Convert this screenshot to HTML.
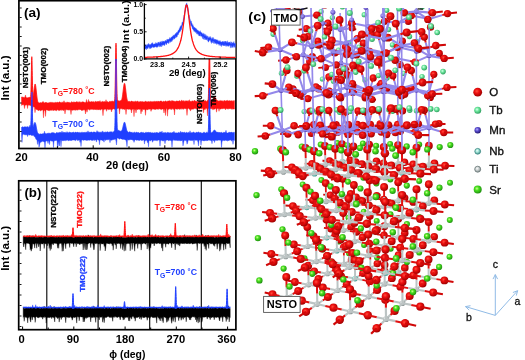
<!DOCTYPE html>
<html><head><meta charset="utf-8"><title>XRD and crystal structure of TMO on NSTO</title><style>
html,body{margin:0;padding:0;background:#fff;}
body{width:525px;height:360px;overflow:hidden;}
svg{display:block;}
text{font-family:"Liberation Sans",Arial,sans-serif;}
.tl{font-size:11.2px;font-weight:bold;fill:#000;}
.ax{font-size:11.6px;font-weight:bold;fill:#000;}
.lab{font-size:13px;font-weight:bold;fill:#000;}
.pk{font-size:7.4px;font-weight:bold;}
.tg{font-size:8.2px;font-weight:bold;}
.sub{font-size:6.4px;}
.il{font-size:6.6px;font-weight:bold;fill:#000;}
.ia{font-size:9.6px;font-weight:bold;fill:#000;}
.box{font-size:11px;font-weight:bold;fill:#000;}
.leg{font-size:11.5px;fill:#111;stroke:#111;stroke-width:0.35px;}
.tri{font-size:10.5px;fill:#111;stroke:#111;stroke-width:0.3px;}
</style></head>
<body><svg width="525" height="360" viewBox="0 0 525 360">
<defs><radialGradient id="gO" cx="0.4" cy="0.38" r="0.62"><stop offset="0" stop-color="#ff5040"/><stop offset="0.4" stop-color="#ee1010"/><stop offset="1" stop-color="#a00000"/></radialGradient><radialGradient id="gOT" cx="0.4" cy="0.38" r="0.62"><stop offset="0" stop-color="#ff5040"/><stop offset="0.4" stop-color="#ee1010"/><stop offset="1" stop-color="#a00000"/></radialGradient><radialGradient id="gTi" cx="0.4" cy="0.38" r="0.62"><stop offset="0" stop-color="#ffffff"/><stop offset="0.4" stop-color="#d0d6d6"/><stop offset="1" stop-color="#8a9494"/></radialGradient><radialGradient id="gNb" cx="0.4" cy="0.38" r="0.62"><stop offset="0" stop-color="#f0fffa"/><stop offset="0.4" stop-color="#a8e8dc"/><stop offset="1" stop-color="#4a9690"/></radialGradient><radialGradient id="gSr" cx="0.4" cy="0.38" r="0.62"><stop offset="0" stop-color="#d0ff90"/><stop offset="0.4" stop-color="#48e020"/><stop offset="1" stop-color="#209010"/></radialGradient><radialGradient id="gTb" cx="0.4" cy="0.38" r="0.62"><stop offset="0" stop-color="#e0fff0"/><stop offset="0.4" stop-color="#70eaa0"/><stop offset="1" stop-color="#30a060"/></radialGradient><radialGradient id="gMn" cx="0.4" cy="0.38" r="0.62"><stop offset="0" stop-color="#eeeaff"/><stop offset="0.4" stop-color="#9080e8"/><stop offset="1" stop-color="#5040b0"/></radialGradient><clipPath id="cc"><path d="M270 8 H525 V360 H240 V30 H270 Z"/></clipPath></defs><g clip-path="url(#cc)"><line x1="351.5" y1="259.5" x2="355.5" y2="257.2" stroke="#d00808" stroke-width="1.8"/>
<circle cx="338.9" cy="241.6" r="2.9" fill="url(#gSr)"/>
<line x1="351.0" y1="226.9" x2="355.1" y2="225.1" stroke="#d00808" stroke-width="1.8"/>
<circle cx="338.4" cy="209.2" r="2.9" fill="url(#gSr)"/>
<line x1="350.6" y1="193.8" x2="354.7" y2="192.5" stroke="#d00808" stroke-width="1.8"/>
<circle cx="351.5" cy="259.5" r="3.7" fill="url(#gO)"/>
<circle cx="337.8" cy="176.3" r="2.9" fill="url(#gSr)"/>
<line x1="350.1" y1="160.2" x2="354.2" y2="159.5" stroke="#d00808" stroke-width="1.8"/>
<line x1="346.1" y1="131.4" x2="350.3" y2="131.2" stroke="#d00808" stroke-width="1.8"/>
<line x1="331.4" y1="261.9" x2="324.5" y2="260.8" stroke="#d00808" stroke-width="1.8"/>
<circle cx="351.0" cy="226.9" r="3.7" fill="url(#gO)"/>
<line x1="347.8" y1="261.7" x2="351.5" y2="259.5" stroke="#e01010" stroke-width="1.8"/>
<circle cx="337.3" cy="143.0" r="2.9" fill="url(#gSr)"/>
<circle cx="339.5" cy="112.3" r="2.6" fill="url(#gTb)"/>
<line x1="377.3" y1="263.6" x2="381.0" y2="261.1" stroke="#d00808" stroke-width="1.9"/>
<line x1="330.8" y1="228.7" x2="323.9" y2="227.9" stroke="#d00808" stroke-width="1.9"/>
<circle cx="350.6" cy="193.8" r="3.7" fill="url(#gO)"/>
<line x1="347.3" y1="228.6" x2="351.0" y2="226.9" stroke="#e01010" stroke-width="1.8"/>
<circle cx="331.4" cy="261.9" r="3.7" fill="url(#gO)"/>
<line x1="345.2" y1="68.7" x2="349.5" y2="69.5" stroke="#d00808" stroke-width="1.9"/>
<circle cx="364.0" cy="245.0" r="2.9" fill="url(#gSr)"/>
<line x1="337.6" y1="262.9" x2="331.4" y2="261.9" stroke="#e01010" stroke-width="1.8"/>
<line x1="377.0" y1="229.9" x2="380.8" y2="228.0" stroke="#d00808" stroke-width="1.9"/>
<line x1="330.2" y1="195.1" x2="323.2" y2="194.6" stroke="#d00808" stroke-width="1.9"/>
<circle cx="350.1" cy="160.2" r="3.7" fill="url(#gO)"/>
<line x1="346.8" y1="194.9" x2="350.6" y2="193.8" stroke="#e01010" stroke-width="1.8"/>
<line x1="352.8" y1="92.4" x2="357.0" y2="92.8" stroke="#d00808" stroke-width="1.9"/>
<circle cx="330.8" cy="228.7" r="3.7" fill="url(#gO)"/>
<circle cx="346.1" cy="131.4" r="3.5" fill="url(#gOT)"/>
<line x1="344.0" y1="264.0" x2="347.8" y2="261.7" stroke="#bcc4c4" stroke-width="1.9"/>
<circle cx="333.5" cy="81.2" r="2.6" fill="url(#gTb)"/>
<circle cx="338.5" cy="50.0" r="2.6" fill="url(#gTb)"/>
<circle cx="363.7" cy="211.6" r="2.9" fill="url(#gSr)"/>
<line x1="337.1" y1="229.5" x2="330.8" y2="228.7" stroke="#e01010" stroke-width="1.8"/>
<line x1="344.0" y1="264.0" x2="337.6" y2="262.9" stroke="#bcc4c4" stroke-width="1.9"/>
<line x1="376.7" y1="195.8" x2="380.5" y2="194.5" stroke="#d00808" stroke-width="1.9"/>
<line x1="345.0" y1="130.5" x2="346.1" y2="131.4" stroke="#e01010" stroke-width="1.8"/>
<line x1="329.5" y1="161.0" x2="322.5" y2="160.7" stroke="#d00808" stroke-width="1.9"/>
<line x1="346.3" y1="160.8" x2="350.1" y2="160.2" stroke="#e01010" stroke-width="1.8"/>
<circle cx="330.2" cy="195.1" r="3.7" fill="url(#gO)"/>
<line x1="343.5" y1="230.3" x2="347.3" y2="228.6" stroke="#bcc4c4" stroke-width="1.9"/>
<circle cx="377.3" cy="263.6" r="3.7" fill="url(#gO)"/>
<circle cx="344.0" cy="264.0" r="2.6" fill="url(#gTi)"/>
<line x1="344.0" y1="264.0" x2="343.9" y2="255.6" stroke="#bcc4c4" stroke-width="1.9"/>
<circle cx="363.3" cy="177.8" r="2.9" fill="url(#gSr)"/>
<line x1="330.6" y1="92.6" x2="323.6" y2="92.9" stroke="#d00808" stroke-width="1.9"/>
<line x1="336.5" y1="195.6" x2="330.2" y2="195.1" stroke="#e01010" stroke-width="1.8"/>
<line x1="343.9" y1="255.6" x2="343.7" y2="247.2" stroke="#e01010" stroke-width="1.8"/>
<line x1="343.5" y1="230.3" x2="337.1" y2="229.5" stroke="#bcc4c4" stroke-width="1.9"/>
<circle cx="343.7" cy="247.2" r="3.8" fill="url(#gO)"/>
<line x1="376.4" y1="161.2" x2="380.2" y2="160.4" stroke="#d00808" stroke-width="1.9"/>
<line x1="344.0" y1="264.0" x2="350.4" y2="265.0" stroke="#bcc4c4" stroke-width="1.9"/>
<line x1="352.0" y1="28.1" x2="356.2" y2="29.6" stroke="#d00808" stroke-width="1.9"/>
<circle cx="345.2" cy="68.7" r="3.5" fill="url(#gOT)"/>
<circle cx="329.5" cy="161.0" r="3.8" fill="url(#gO)"/>
<line x1="342.9" y1="196.2" x2="346.8" y2="194.9" stroke="#bcc4c4" stroke-width="1.9"/>
<circle cx="377.0" cy="229.9" r="3.8" fill="url(#gO)"/>
<circle cx="343.5" cy="230.3" r="2.6" fill="url(#gTi)"/>
<circle cx="332.4" cy="17.6" r="2.6" fill="url(#gTb)"/>
<line x1="373.9" y1="265.9" x2="377.3" y2="263.6" stroke="#e01010" stroke-width="1.8"/>
<line x1="344.0" y1="264.0" x2="340.1" y2="266.3" stroke="#bcc4c4" stroke-width="1.9"/>
<line x1="343.5" y1="230.3" x2="343.3" y2="221.8" stroke="#bcc4c4" stroke-width="1.9"/>
<circle cx="352.8" cy="92.4" r="3.5" fill="url(#gOT)"/>
<circle cx="362.9" cy="143.4" r="3.0" fill="url(#gSr)"/>
<line x1="335.9" y1="161.3" x2="329.5" y2="161.0" stroke="#e01010" stroke-width="1.8"/>
<line x1="343.3" y1="221.8" x2="343.2" y2="213.3" stroke="#e01010" stroke-width="1.8"/>
<line x1="344.0" y1="67.1" x2="345.2" y2="68.7" stroke="#e01010" stroke-width="1.8"/>
<line x1="342.9" y1="196.2" x2="336.5" y2="195.6" stroke="#bcc4c4" stroke-width="1.9"/>
<circle cx="343.2" cy="213.3" r="3.8" fill="url(#gO)"/>
<line x1="343.5" y1="230.3" x2="350.0" y2="231.1" stroke="#bcc4c4" stroke-width="1.9"/>
<circle cx="330.6" cy="92.6" r="3.5" fill="url(#gOT)"/>
<line x1="350.4" y1="265.0" x2="357.0" y2="266.1" stroke="#e01010" stroke-width="1.8"/>
<line x1="326.7" y1="131.9" x2="319.6" y2="131.9" stroke="#d00808" stroke-width="1.9"/>
<line x1="372.1" y1="99.4" x2="376.0" y2="99.7" stroke="#d00808" stroke-width="1.9"/>
<line x1="349.7" y1="93.3" x2="352.8" y2="92.4" stroke="#e01010" stroke-width="1.8"/>
<line x1="404.8" y1="267.9" x2="408.1" y2="265.2" stroke="#d00808" stroke-width="1.9"/>
<line x1="342.4" y1="161.5" x2="346.3" y2="160.8" stroke="#bcc4c4" stroke-width="1.9"/>
<circle cx="376.7" cy="195.8" r="3.8" fill="url(#gO)"/>
<circle cx="342.9" cy="196.2" r="2.6" fill="url(#gTi)"/>
<line x1="333.6" y1="93.4" x2="330.6" y2="92.6" stroke="#e01010" stroke-width="1.8"/>
<line x1="373.6" y1="231.7" x2="377.0" y2="229.9" stroke="#e01010" stroke-width="1.8"/>
<line x1="343.5" y1="230.3" x2="339.5" y2="232.1" stroke="#bcc4c4" stroke-width="1.9"/>
<line x1="342.9" y1="196.2" x2="342.8" y2="187.6" stroke="#bcc4c4" stroke-width="1.9"/>
<line x1="341.9" y1="128.0" x2="345.0" y2="130.5" stroke="#9488ea" stroke-width="1.9"/>
<line x1="329.5" y1="28.1" x2="322.3" y2="29.0" stroke="#d00808" stroke-width="1.9"/>
<circle cx="357.0" cy="266.1" r="3.8" fill="url(#gO)"/>
<line x1="380.0" y1="123.8" x2="383.8" y2="123.7" stroke="#d00808" stroke-width="1.9"/>
<line x1="342.8" y1="187.6" x2="342.7" y2="178.9" stroke="#e01010" stroke-width="1.8"/>
<line x1="342.4" y1="161.5" x2="335.9" y2="161.3" stroke="#bcc4c4" stroke-width="1.9"/>
<circle cx="342.7" cy="178.9" r="3.8" fill="url(#gO)"/>
<line x1="342.9" y1="196.2" x2="349.5" y2="196.7" stroke="#bcc4c4" stroke-width="1.9"/>
<line x1="350.0" y1="231.1" x2="356.5" y2="231.9" stroke="#e01010" stroke-width="1.8"/>
<circle cx="390.7" cy="248.7" r="3.0" fill="url(#gSr)"/>
<circle cx="359.8" cy="111.8" r="2.6" fill="url(#gTb)"/>
<circle cx="364.9" cy="79.9" r="2.6" fill="url(#gTb)"/>
<circle cx="322.8" cy="249.4" r="3.0" fill="url(#gSr)"/>
<line x1="363.6" y1="267.2" x2="357.0" y2="266.1" stroke="#e01010" stroke-width="1.8"/>
<line x1="404.7" y1="233.2" x2="408.0" y2="231.1" stroke="#d00808" stroke-width="1.9"/>
<circle cx="326.7" cy="131.9" r="3.5" fill="url(#gOT)"/>
<circle cx="376.4" cy="161.2" r="3.8" fill="url(#gO)"/>
<circle cx="342.4" cy="161.5" r="2.7" fill="url(#gNb)"/>
<line x1="330.9" y1="130.9" x2="326.7" y2="131.9" stroke="#e01010" stroke-width="1.8"/>
<circle cx="352.0" cy="28.1" r="3.5" fill="url(#gOT)"/>
<line x1="373.3" y1="197.1" x2="376.7" y2="195.8" stroke="#e01010" stroke-width="1.8"/>
<line x1="342.9" y1="196.2" x2="338.9" y2="197.4" stroke="#bcc4c4" stroke-width="1.9"/>
<line x1="342.4" y1="161.5" x2="342.3" y2="152.8" stroke="#bcc4c4" stroke-width="1.9"/>
<circle cx="356.5" cy="231.9" r="3.8" fill="url(#gO)"/>
<line x1="370.4" y1="268.3" x2="373.9" y2="265.9" stroke="#bcc4c4" stroke-width="1.9"/>
<line x1="340.1" y1="266.3" x2="336.0" y2="268.6" stroke="#e01010" stroke-width="1.8"/>
<line x1="342.3" y1="152.8" x2="342.1" y2="144.0" stroke="#e01010" stroke-width="1.8"/>
<circle cx="329.5" cy="28.1" r="3.5" fill="url(#gOT)"/>
<line x1="325.5" y1="67.4" x2="318.3" y2="67.9" stroke="#d00808" stroke-width="1.9"/>
<line x1="371.5" y1="33.7" x2="375.4" y2="35.2" stroke="#d00808" stroke-width="1.9"/>
<circle cx="342.1" cy="144.0" r="3.8" fill="url(#gO)"/>
<line x1="342.4" y1="161.5" x2="349.0" y2="161.8" stroke="#bcc4c4" stroke-width="1.9"/>
<line x1="348.8" y1="28.5" x2="352.0" y2="28.1" stroke="#e01010" stroke-width="1.8"/>
<line x1="341.4" y1="95.7" x2="349.7" y2="93.3" stroke="#9488ea" stroke-width="1.9"/>
<line x1="341.9" y1="128.0" x2="330.9" y2="130.9" stroke="#9488ea" stroke-width="1.9"/>
<line x1="349.5" y1="196.7" x2="356.1" y2="197.2" stroke="#e01010" stroke-width="1.8"/>
<circle cx="390.5" cy="214.3" r="3.0" fill="url(#gSr)"/>
<line x1="341.4" y1="95.7" x2="333.6" y2="93.4" stroke="#9488ea" stroke-width="1.9"/>
<circle cx="322.1" cy="215.0" r="3.0" fill="url(#gSr)"/>
<line x1="363.2" y1="232.7" x2="356.5" y2="231.9" stroke="#e01010" stroke-width="1.8"/>
<line x1="341.9" y1="128.0" x2="342.1" y2="144.0" stroke="#9488ea" stroke-width="1.5"/>
<circle cx="346.3" cy="111.9" r="3.5" fill="url(#gOT)"/>
<line x1="345.1" y1="116.4" x2="346.3" y2="111.9" stroke="#e01010" stroke-width="1.8"/>
<line x1="370.4" y1="268.3" x2="363.6" y2="267.2" stroke="#bcc4c4" stroke-width="1.9"/>
<line x1="332.5" y1="28.5" x2="329.5" y2="28.1" stroke="#e01010" stroke-width="1.8"/>
<line x1="341.9" y1="128.0" x2="345.1" y2="116.4" stroke="#9488ea" stroke-width="1.9"/>
<line x1="404.6" y1="198.0" x2="408.0" y2="196.5" stroke="#d00808" stroke-width="1.9"/>
<line x1="340.9" y1="62.9" x2="344.0" y2="67.1" stroke="#9488ea" stroke-width="1.9"/>
<circle cx="341.9" cy="128.0" r="2.3" fill="url(#gMn)"/>
<line x1="379.5" y1="58.3" x2="383.3" y2="59.3" stroke="#d00808" stroke-width="1.9"/>
<line x1="373.0" y1="161.9" x2="376.4" y2="161.2" stroke="#e01010" stroke-width="1.8"/>
<line x1="342.4" y1="161.5" x2="338.3" y2="162.3" stroke="#bcc4c4" stroke-width="1.9"/>
<circle cx="372.1" cy="99.4" r="3.5" fill="url(#gOT)"/>
<circle cx="356.1" cy="197.2" r="3.8" fill="url(#gO)"/>
<line x1="370.0" y1="233.6" x2="373.6" y2="231.7" stroke="#bcc4c4" stroke-width="1.9"/>
<line x1="341.9" y1="128.0" x2="353.0" y2="130.7" stroke="#9488ea" stroke-width="1.9"/>
<line x1="339.5" y1="232.1" x2="335.4" y2="233.9" stroke="#e01010" stroke-width="1.8"/>
<circle cx="404.8" cy="267.9" r="3.8" fill="url(#gO)"/>
<circle cx="370.4" cy="268.3" r="2.6" fill="url(#gTi)"/>
<circle cx="336.0" cy="268.6" r="3.8" fill="url(#gO)"/>
<line x1="341.9" y1="128.0" x2="341.4" y2="95.7" stroke="#9488ea" stroke-width="1.5"/>
<line x1="370.4" y1="268.3" x2="370.3" y2="259.6" stroke="#bcc4c4" stroke-width="1.9"/>
<circle cx="359.0" cy="47.1" r="2.6" fill="url(#gTb)"/>
<circle cx="364.2" cy="14.7" r="2.6" fill="url(#gTb)"/>
<line x1="349.0" y1="161.8" x2="355.7" y2="162.1" stroke="#e01010" stroke-width="1.8"/>
<circle cx="390.3" cy="179.4" r="3.0" fill="url(#gSr)"/>
<circle cx="380.0" cy="123.8" r="3.5" fill="url(#gOT)"/>
<line x1="353.0" y1="130.7" x2="357.4" y2="131.8" stroke="#e01010" stroke-width="1.8"/>
<circle cx="321.4" cy="180.1" r="3.0" fill="url(#gSr)"/>
<line x1="362.8" y1="197.8" x2="356.1" y2="197.2" stroke="#e01010" stroke-width="1.8"/>
<line x1="370.3" y1="259.6" x2="370.2" y2="251.0" stroke="#e01010" stroke-width="1.8"/>
<circle cx="325.5" cy="67.4" r="3.5" fill="url(#gOT)"/>
<line x1="370.0" y1="233.6" x2="363.2" y2="232.7" stroke="#bcc4c4" stroke-width="1.9"/>
<circle cx="357.4" cy="131.8" r="3.5" fill="url(#gOT)"/>
<line x1="371.2" y1="98.1" x2="372.1" y2="99.4" stroke="#e01010" stroke-width="1.8"/>
<circle cx="370.2" cy="251.0" r="3.8" fill="url(#gO)"/>
<line x1="329.7" y1="66.1" x2="325.5" y2="67.4" stroke="#e01010" stroke-width="1.8"/>
<line x1="404.5" y1="162.3" x2="407.9" y2="161.4" stroke="#d00808" stroke-width="1.9"/>
<line x1="370.4" y1="268.3" x2="377.3" y2="269.4" stroke="#bcc4c4" stroke-width="1.9"/>
<circle cx="341.4" cy="95.7" r="2.3" fill="url(#gMn)"/>
<line x1="400.4" y1="131.6" x2="403.8" y2="131.4" stroke="#d00808" stroke-width="1.9"/>
<line x1="377.0" y1="124.9" x2="380.0" y2="123.8" stroke="#e01010" stroke-width="1.8"/>
<circle cx="355.7" cy="162.1" r="3.8" fill="url(#gO)"/>
<line x1="369.7" y1="198.4" x2="373.3" y2="197.1" stroke="#bcc4c4" stroke-width="1.9"/>
<line x1="338.9" y1="197.4" x2="334.8" y2="198.7" stroke="#e01010" stroke-width="1.8"/>
<line x1="341.4" y1="95.7" x2="337.7" y2="83.8" stroke="#9488ea" stroke-width="1.9"/>
<line x1="360.6" y1="130.8" x2="357.4" y2="131.8" stroke="#e01010" stroke-width="1.8"/>
<line x1="341.4" y1="95.7" x2="340.9" y2="62.9" stroke="#9488ea" stroke-width="1.5"/>
<circle cx="404.7" cy="233.2" r="3.8" fill="url(#gO)"/>
<line x1="314.3" y1="271.3" x2="307.1" y2="270.0" stroke="#d00808" stroke-width="1.9"/>
<circle cx="370.0" cy="233.6" r="2.6" fill="url(#gTi)"/>
<line x1="340.3" y1="29.7" x2="348.8" y2="28.5" stroke="#9488ea" stroke-width="1.9"/>
<circle cx="335.4" cy="233.9" r="3.8" fill="url(#gO)"/>
<line x1="340.9" y1="62.9" x2="329.7" y2="66.1" stroke="#9488ea" stroke-width="1.9"/>
<line x1="401.7" y1="270.3" x2="404.8" y2="267.9" stroke="#e01010" stroke-width="1.8"/>
<line x1="370.4" y1="268.3" x2="366.8" y2="270.7" stroke="#bcc4c4" stroke-width="1.9"/>
<line x1="331.8" y1="271.1" x2="336.0" y2="268.6" stroke="#e01010" stroke-width="1.8"/>
<line x1="370.0" y1="233.6" x2="370.0" y2="224.8" stroke="#bcc4c4" stroke-width="1.9"/>
<line x1="340.3" y1="29.7" x2="332.5" y2="28.5" stroke="#9488ea" stroke-width="1.9"/>
<circle cx="345.4" cy="46.7" r="3.5" fill="url(#gOT)"/>
<line x1="344.1" y1="51.2" x2="345.4" y2="46.7" stroke="#e01010" stroke-width="1.8"/>
<circle cx="390.1" cy="143.9" r="3.0" fill="url(#gSr)"/>
<line x1="340.9" y1="62.9" x2="344.1" y2="51.2" stroke="#9488ea" stroke-width="1.9"/>
<line x1="341.9" y1="128.0" x2="338.7" y2="131.1" stroke="#9488ea" stroke-width="1.9"/>
<circle cx="320.7" cy="144.6" r="3.0" fill="url(#gSr)"/>
<line x1="362.4" y1="162.3" x2="355.7" y2="162.1" stroke="#e01010" stroke-width="1.8"/>
<line x1="370.0" y1="224.8" x2="369.9" y2="216.0" stroke="#e01010" stroke-width="1.8"/>
<circle cx="340.9" cy="62.9" r="2.4" fill="url(#gMn)"/>
<line x1="369.7" y1="198.4" x2="362.8" y2="197.8" stroke="#bcc4c4" stroke-width="1.9"/>
<line x1="337.7" y1="83.8" x2="336.3" y2="79.2" stroke="#e01010" stroke-width="1.8"/>
<circle cx="369.9" cy="216.0" r="3.8" fill="url(#gO)"/>
<line x1="370.0" y1="233.6" x2="377.0" y2="234.4" stroke="#bcc4c4" stroke-width="1.9"/>
<circle cx="371.5" cy="33.7" r="3.5" fill="url(#gOT)"/>
<line x1="377.3" y1="269.4" x2="384.2" y2="270.5" stroke="#e01010" stroke-width="1.8"/>
<circle cx="336.3" cy="79.2" r="3.5" fill="url(#gOT)"/>
<line x1="340.9" y1="62.9" x2="352.2" y2="65.3" stroke="#9488ea" stroke-width="1.9"/>
<line x1="341.4" y1="95.7" x2="349.4" y2="92.3" stroke="#9488ea" stroke-width="1.9"/>
<circle cx="392.7" cy="111.3" r="2.6" fill="url(#gTb)"/>
<line x1="434.0" y1="272.5" x2="436.9" y2="269.7" stroke="#d00808" stroke-width="1.9"/>
<line x1="340.9" y1="62.9" x2="340.3" y2="29.7" stroke="#9488ea" stroke-width="1.5"/>
<line x1="369.3" y1="162.6" x2="373.0" y2="161.9" stroke="#bcc4c4" stroke-width="1.9"/>
<line x1="341.4" y1="95.7" x2="332.6" y2="92.4" stroke="#9488ea" stroke-width="1.9"/>
<line x1="338.3" y1="162.3" x2="334.2" y2="163.0" stroke="#e01010" stroke-width="1.8"/>
<circle cx="404.6" cy="198.0" r="3.8" fill="url(#gO)"/>
<line x1="313.6" y1="236.1" x2="306.3" y2="235.1" stroke="#d00808" stroke-width="1.9"/>
<circle cx="369.7" cy="198.4" r="2.6" fill="url(#gTi)"/>
<circle cx="334.8" cy="198.7" r="3.8" fill="url(#gO)"/>
<line x1="401.6" y1="235.1" x2="404.7" y2="233.2" stroke="#e01010" stroke-width="1.8"/>
<line x1="370.0" y1="233.6" x2="366.4" y2="235.5" stroke="#bcc4c4" stroke-width="1.9"/>
<line x1="331.2" y1="235.9" x2="335.4" y2="233.9" stroke="#e01010" stroke-width="1.8"/>
<line x1="369.7" y1="198.4" x2="369.6" y2="189.5" stroke="#bcc4c4" stroke-width="1.9"/>
<circle cx="379.5" cy="58.3" r="3.5" fill="url(#gOT)"/>
<line x1="352.2" y1="65.3" x2="356.6" y2="66.3" stroke="#e01010" stroke-width="1.8"/>
<circle cx="384.2" cy="270.5" r="3.8" fill="url(#gO)"/>
<circle cx="314.3" cy="271.3" r="3.8" fill="url(#gO)"/>
<circle cx="356.6" cy="66.3" r="3.5" fill="url(#gOT)"/>
<line x1="370.5" y1="31.7" x2="371.5" y2="33.7" stroke="#e01010" stroke-width="1.8"/>
<circle cx="340.3" cy="29.7" r="2.4" fill="url(#gMn)"/>
<line x1="369.6" y1="189.5" x2="369.5" y2="180.6" stroke="#e01010" stroke-width="1.8"/>
<line x1="369.3" y1="162.6" x2="362.4" y2="162.3" stroke="#bcc4c4" stroke-width="1.9"/>
<circle cx="369.5" cy="180.6" r="3.8" fill="url(#gO)"/>
<line x1="369.7" y1="198.4" x2="376.7" y2="198.9" stroke="#bcc4c4" stroke-width="1.9"/>
<line x1="340.3" y1="29.7" x2="340.1" y2="12.9" stroke="#9488ea" stroke-width="1.5"/>
<line x1="400.1" y1="64.7" x2="403.7" y2="65.7" stroke="#d00808" stroke-width="1.9"/>
<line x1="377.0" y1="234.4" x2="384.0" y2="235.3" stroke="#e01010" stroke-width="1.8"/>
<line x1="376.4" y1="58.9" x2="379.5" y2="58.3" stroke="#e01010" stroke-width="1.8"/>
<line x1="369.0" y1="128.0" x2="377.0" y2="124.9" stroke="#9488ea" stroke-width="1.9"/>
<circle cx="419.2" cy="252.6" r="3.0" fill="url(#gSr)"/>
<line x1="369.0" y1="128.0" x2="360.6" y2="130.8" stroke="#9488ea" stroke-width="1.9"/>
<circle cx="349.0" cy="253.4" r="3.0" fill="url(#gSr)"/>
<line x1="391.3" y1="271.7" x2="384.2" y2="270.5" stroke="#e01010" stroke-width="1.8"/>
<circle cx="317.0" cy="112.0" r="2.6" fill="url(#gTb)"/>
<circle cx="322.4" cy="79.0" r="2.6" fill="url(#gTb)"/>
<line x1="320.9" y1="272.5" x2="314.3" y2="271.3" stroke="#e01010" stroke-width="1.8"/>
<line x1="359.8" y1="64.8" x2="356.6" y2="66.3" stroke="#e01010" stroke-width="1.8"/>
<line x1="434.2" y1="236.7" x2="437.1" y2="234.5" stroke="#d00808" stroke-width="1.9"/>
<circle cx="404.5" cy="162.3" r="3.8" fill="url(#gO)"/>
<line x1="312.8" y1="200.3" x2="305.5" y2="199.6" stroke="#d00808" stroke-width="1.9"/>
<circle cx="369.3" cy="162.6" r="2.6" fill="url(#gTi)"/>
<line x1="368.7" y1="94.6" x2="371.2" y2="98.1" stroke="#9488ea" stroke-width="1.9"/>
<circle cx="334.2" cy="163.0" r="3.8" fill="url(#gO)"/>
<line x1="401.5" y1="199.3" x2="404.6" y2="198.0" stroke="#e01010" stroke-width="1.8"/>
<line x1="369.7" y1="198.4" x2="366.0" y2="199.7" stroke="#bcc4c4" stroke-width="1.9"/>
<line x1="330.5" y1="200.1" x2="334.8" y2="198.7" stroke="#e01010" stroke-width="1.8"/>
<line x1="408.4" y1="90.0" x2="411.8" y2="90.5" stroke="#d00808" stroke-width="1.9"/>
<line x1="369.3" y1="162.6" x2="369.3" y2="153.6" stroke="#bcc4c4" stroke-width="1.9"/>
<line x1="340.9" y1="62.9" x2="337.6" y2="64.3" stroke="#9488ea" stroke-width="1.9"/>
<circle cx="384.0" cy="235.3" r="3.8" fill="url(#gO)"/>
<circle cx="313.6" cy="236.1" r="3.8" fill="url(#gO)"/>
<circle cx="400.4" cy="131.6" r="3.5" fill="url(#gOT)"/>
<line x1="398.5" y1="272.9" x2="401.7" y2="270.3" stroke="#bcc4c4" stroke-width="1.9"/>
<line x1="366.8" y1="270.7" x2="363.0" y2="273.3" stroke="#e01010" stroke-width="1.8"/>
<line x1="327.5" y1="273.7" x2="331.8" y2="271.1" stroke="#bcc4c4" stroke-width="1.9"/>
<line x1="369.3" y1="153.6" x2="369.2" y2="144.5" stroke="#e01010" stroke-width="1.8"/>
<circle cx="369.2" cy="144.5" r="3.8" fill="url(#gO)"/>
<line x1="349.4" y1="92.3" x2="352.5" y2="90.9" stroke="#e01010" stroke-width="1.8"/>
<line x1="369.3" y1="162.6" x2="376.4" y2="162.9" stroke="#bcc4c4" stroke-width="1.9"/>
<circle cx="387.0" cy="78.1" r="2.6" fill="url(#gTb)"/>
<line x1="340.3" y1="29.7" x2="348.4" y2="24.9" stroke="#9488ea" stroke-width="1.9"/>
<circle cx="392.4" cy="44.8" r="2.6" fill="url(#gTb)"/>
<line x1="376.7" y1="198.9" x2="383.7" y2="199.5" stroke="#e01010" stroke-width="1.8"/>
<circle cx="419.2" cy="217.1" r="3.0" fill="url(#gSr)"/>
<circle cx="348.5" cy="217.8" r="3.0" fill="url(#gSr)"/>
<line x1="391.1" y1="236.2" x2="384.0" y2="235.3" stroke="#e01010" stroke-width="1.8"/>
<line x1="369.0" y1="128.0" x2="369.2" y2="144.5" stroke="#9488ea" stroke-width="1.5"/>
<line x1="340.3" y1="29.7" x2="331.5" y2="24.9" stroke="#9488ea" stroke-width="1.9"/>
<line x1="320.1" y1="236.9" x2="313.6" y2="236.1" stroke="#e01010" stroke-width="1.8"/>
<line x1="338.7" y1="131.1" x2="337.4" y2="132.4" stroke="#e01010" stroke-width="1.8"/>
<line x1="398.5" y1="272.9" x2="391.3" y2="271.7" stroke="#bcc4c4" stroke-width="1.9"/>
<line x1="327.5" y1="273.7" x2="320.9" y2="272.5" stroke="#bcc4c4" stroke-width="1.9"/>
<line x1="313.7" y1="124.6" x2="306.4" y2="124.7" stroke="#d00808" stroke-width="1.9"/>
<line x1="332.6" y1="92.4" x2="329.2" y2="91.1" stroke="#e01010" stroke-width="1.8"/>
<line x1="434.3" y1="200.3" x2="437.2" y2="198.8" stroke="#d00808" stroke-width="1.9"/>
<line x1="399.7" y1="130.6" x2="400.4" y2="131.6" stroke="#e01010" stroke-width="1.8"/>
<circle cx="369.0" cy="128.0" r="2.4" fill="url(#gMn)"/>
<line x1="312.0" y1="163.9" x2="304.7" y2="163.6" stroke="#d00808" stroke-width="1.9"/>
<circle cx="352.5" cy="90.9" r="3.6" fill="url(#gOT)"/>
<line x1="401.4" y1="163.0" x2="404.5" y2="162.3" stroke="#e01010" stroke-width="1.8"/>
<line x1="369.3" y1="162.6" x2="365.6" y2="163.4" stroke="#bcc4c4" stroke-width="1.9"/>
<line x1="329.9" y1="163.7" x2="334.2" y2="163.0" stroke="#e01010" stroke-width="1.8"/>
<line x1="357.0" y1="91.9" x2="352.5" y2="90.9" stroke="#e01010" stroke-width="1.8"/>
<circle cx="383.7" cy="199.5" r="3.8" fill="url(#gO)"/>
<circle cx="312.8" cy="200.3" r="3.8" fill="url(#gO)"/>
<line x1="398.4" y1="237.1" x2="401.6" y2="235.1" stroke="#bcc4c4" stroke-width="1.9"/>
<line x1="366.4" y1="235.5" x2="362.6" y2="237.4" stroke="#e01010" stroke-width="1.8"/>
<line x1="326.8" y1="237.8" x2="331.2" y2="235.9" stroke="#bcc4c4" stroke-width="1.9"/>
<circle cx="434.0" cy="272.5" r="3.8" fill="url(#gO)"/>
<circle cx="398.5" cy="272.9" r="2.7" fill="url(#gNb)"/>
<line x1="369.0" y1="128.0" x2="365.5" y2="116.1" stroke="#9488ea" stroke-width="1.9"/>
<circle cx="363.0" cy="273.3" r="3.8" fill="url(#gO)"/>
<line x1="369.0" y1="128.0" x2="368.7" y2="94.6" stroke="#9488ea" stroke-width="1.5"/>
<circle cx="327.5" cy="273.7" r="2.6" fill="url(#gTi)"/>
<circle cx="329.2" cy="91.1" r="3.6" fill="url(#gOT)"/>
<line x1="368.3" y1="60.7" x2="376.4" y2="58.9" stroke="#9488ea" stroke-width="1.9"/>
<line x1="398.5" y1="272.9" x2="398.5" y2="264.0" stroke="#bcc4c4" stroke-width="1.9"/>
<circle cx="337.4" cy="132.4" r="3.6" fill="url(#gOT)"/>
<line x1="327.5" y1="273.7" x2="327.3" y2="264.7" stroke="#bcc4c4" stroke-width="1.9"/>
<line x1="368.3" y1="60.7" x2="359.8" y2="64.8" stroke="#9488ea" stroke-width="1.9"/>
<circle cx="315.7" cy="45.1" r="2.6" fill="url(#gTb)"/>
<line x1="368.7" y1="94.6" x2="357.0" y2="91.9" stroke="#9488ea" stroke-width="1.9"/>
<circle cx="321.1" cy="11.6" r="2.6" fill="url(#gTb)"/>
<line x1="376.4" y1="162.9" x2="383.5" y2="163.2" stroke="#e01010" stroke-width="1.8"/>
<circle cx="373.2" cy="77.9" r="3.6" fill="url(#gOT)"/>
<line x1="372.0" y1="82.6" x2="373.2" y2="77.9" stroke="#e01010" stroke-width="1.8"/>
<circle cx="419.2" cy="181.0" r="3.0" fill="url(#gSr)"/>
<circle cx="348.0" cy="181.8" r="3.0" fill="url(#gSr)"/>
<line x1="390.9" y1="200.1" x2="383.7" y2="199.5" stroke="#e01010" stroke-width="1.8"/>
<line x1="398.5" y1="264.0" x2="398.5" y2="255.0" stroke="#e01010" stroke-width="1.8"/>
<line x1="319.4" y1="200.9" x2="312.8" y2="200.3" stroke="#e01010" stroke-width="1.8"/>
<line x1="327.3" y1="264.7" x2="327.1" y2="255.8" stroke="#e01010" stroke-width="1.8"/>
<line x1="368.7" y1="94.6" x2="372.0" y2="82.6" stroke="#9488ea" stroke-width="1.9"/>
<line x1="398.4" y1="237.1" x2="391.1" y2="236.2" stroke="#bcc4c4" stroke-width="1.9"/>
<line x1="326.8" y1="237.8" x2="320.1" y2="236.9" stroke="#bcc4c4" stroke-width="1.9"/>
<line x1="368.0" y1="26.3" x2="370.5" y2="31.7" stroke="#9488ea" stroke-width="1.9"/>
<circle cx="398.5" cy="255.0" r="3.8" fill="url(#gO)"/>
<line x1="434.4" y1="163.4" x2="437.4" y2="162.5" stroke="#d00808" stroke-width="1.9"/>
<line x1="398.5" y1="272.9" x2="405.9" y2="274.1" stroke="#bcc4c4" stroke-width="1.9"/>
<circle cx="368.7" cy="94.6" r="2.4" fill="url(#gMn)"/>
<circle cx="327.1" cy="255.8" r="3.8" fill="url(#gO)"/>
<line x1="327.5" y1="273.7" x2="334.2" y2="274.9" stroke="#bcc4c4" stroke-width="1.9"/>
<line x1="408.3" y1="21.3" x2="411.8" y2="23.1" stroke="#d00808" stroke-width="1.9"/>
<line x1="365.5" y1="116.1" x2="364.1" y2="111.4" stroke="#e01010" stroke-width="1.8"/>
<line x1="333.9" y1="131.4" x2="337.4" y2="132.4" stroke="#e01010" stroke-width="1.8"/>
<circle cx="400.1" cy="64.7" r="3.6" fill="url(#gOT)"/>
<line x1="327.8" y1="91.9" x2="329.2" y2="91.1" stroke="#e01010" stroke-width="1.8"/>
<circle cx="313.7" cy="124.6" r="3.6" fill="url(#gOT)"/>
<circle cx="364.1" cy="111.4" r="3.6" fill="url(#gOT)"/>
<line x1="369.0" y1="128.0" x2="377.8" y2="131.0" stroke="#9488ea" stroke-width="1.9"/>
<circle cx="383.5" cy="163.2" r="3.8" fill="url(#gO)"/>
<circle cx="312.0" cy="163.9" r="3.8" fill="url(#gO)"/>
<line x1="368.7" y1="94.6" x2="380.4" y2="91.4" stroke="#9488ea" stroke-width="1.9"/>
<line x1="398.2" y1="200.7" x2="401.5" y2="199.3" stroke="#bcc4c4" stroke-width="1.9"/>
<line x1="366.0" y1="199.7" x2="362.2" y2="201.1" stroke="#e01010" stroke-width="1.8"/>
<line x1="326.1" y1="201.5" x2="330.5" y2="200.1" stroke="#bcc4c4" stroke-width="1.9"/>
<line x1="368.7" y1="94.6" x2="368.3" y2="60.7" stroke="#9488ea" stroke-width="1.5"/>
<circle cx="434.2" cy="236.7" r="3.8" fill="url(#gO)"/>
<line x1="369.0" y1="128.0" x2="360.6" y2="125.3" stroke="#9488ea" stroke-width="1.9"/>
<line x1="348.4" y1="24.9" x2="351.6" y2="23.1" stroke="#e01010" stroke-width="1.8"/>
<circle cx="398.4" cy="237.1" r="2.7" fill="url(#gTi)"/>
<circle cx="362.6" cy="237.4" r="3.8" fill="url(#gO)"/>
<circle cx="386.6" cy="10.3" r="2.7" fill="url(#gTb)"/>
<circle cx="326.8" cy="237.8" r="2.7" fill="url(#gNb)"/>
<line x1="431.4" y1="275.1" x2="434.0" y2="272.5" stroke="#e01010" stroke-width="1.8"/>
<line x1="398.5" y1="272.9" x2="395.3" y2="275.5" stroke="#bcc4c4" stroke-width="1.9"/>
<line x1="359.1" y1="275.9" x2="363.0" y2="273.3" stroke="#e01010" stroke-width="1.8"/>
<line x1="398.4" y1="237.1" x2="398.4" y2="228.0" stroke="#bcc4c4" stroke-width="1.9"/>
<line x1="327.5" y1="273.7" x2="323.0" y2="276.3" stroke="#bcc4c4" stroke-width="1.9"/>
<line x1="326.8" y1="237.8" x2="326.6" y2="228.8" stroke="#bcc4c4" stroke-width="1.9"/>
<line x1="316.8" y1="125.8" x2="313.7" y2="124.6" stroke="#e01010" stroke-width="1.8"/>
<circle cx="408.4" cy="90.0" r="3.6" fill="url(#gOT)"/>
<line x1="337.6" y1="64.3" x2="336.3" y2="64.9" stroke="#e01010" stroke-width="1.8"/>
<line x1="312.3" y1="56.7" x2="304.9" y2="57.4" stroke="#d00808" stroke-width="1.9"/>
<line x1="331.5" y1="24.9" x2="327.9" y2="23.0" stroke="#e01010" stroke-width="1.8"/>
<circle cx="419.2" cy="144.4" r="3.0" fill="url(#gSr)"/>
<circle cx="347.5" cy="145.2" r="3.0" fill="url(#gSr)"/>
<line x1="390.7" y1="163.5" x2="383.5" y2="163.2" stroke="#e01010" stroke-width="1.8"/>
<line x1="398.4" y1="228.0" x2="398.3" y2="218.9" stroke="#e01010" stroke-width="1.8"/>
<line x1="399.5" y1="63.0" x2="400.1" y2="64.7" stroke="#e01010" stroke-width="1.8"/>
<line x1="318.6" y1="164.2" x2="312.0" y2="163.9" stroke="#e01010" stroke-width="1.8"/>
<line x1="326.6" y1="228.8" x2="326.4" y2="219.7" stroke="#e01010" stroke-width="1.8"/>
<line x1="380.4" y1="91.4" x2="384.9" y2="90.2" stroke="#e01010" stroke-width="1.8"/>
<circle cx="368.3" cy="60.7" r="2.4" fill="url(#gMn)"/>
<line x1="398.2" y1="200.7" x2="390.9" y2="200.1" stroke="#bcc4c4" stroke-width="1.9"/>
<line x1="326.1" y1="201.5" x2="319.4" y2="200.9" stroke="#bcc4c4" stroke-width="1.9"/>
<circle cx="398.3" cy="218.9" r="3.8" fill="url(#gO)"/>
<circle cx="351.6" cy="23.1" r="3.6" fill="url(#gOT)"/>
<line x1="398.4" y1="237.1" x2="405.8" y2="238.0" stroke="#bcc4c4" stroke-width="1.9"/>
<circle cx="326.4" cy="219.7" r="3.8" fill="url(#gO)"/>
<line x1="326.8" y1="237.8" x2="333.6" y2="238.8" stroke="#bcc4c4" stroke-width="1.9"/>
<circle cx="384.9" cy="90.2" r="3.6" fill="url(#gOT)"/>
<line x1="356.2" y1="24.0" x2="351.6" y2="23.1" stroke="#e01010" stroke-width="1.8"/>
<line x1="405.9" y1="274.1" x2="413.3" y2="275.3" stroke="#e01010" stroke-width="1.8"/>
<line x1="334.2" y1="274.9" x2="341.1" y2="276.1" stroke="#e01010" stroke-width="1.8"/>
<line x1="430.3" y1="97.4" x2="433.4" y2="97.8" stroke="#d00808" stroke-width="1.9"/>
<line x1="405.5" y1="91.0" x2="408.4" y2="90.0" stroke="#e01010" stroke-width="1.8"/>
<circle cx="350.0" cy="111.4" r="2.7" fill="url(#gTb)"/>
<line x1="368.3" y1="60.7" x2="364.7" y2="48.2" stroke="#9488ea" stroke-width="1.9"/>
<line x1="368.3" y1="60.7" x2="368.0" y2="26.3" stroke="#9488ea" stroke-width="1.5"/>
<circle cx="327.9" cy="23.0" r="3.6" fill="url(#gOT)"/>
<line x1="398.1" y1="163.8" x2="401.4" y2="163.0" stroke="#bcc4c4" stroke-width="1.9"/>
<line x1="365.6" y1="163.4" x2="361.8" y2="164.2" stroke="#e01010" stroke-width="1.8"/>
<line x1="325.4" y1="164.5" x2="329.9" y2="163.7" stroke="#bcc4c4" stroke-width="1.9"/>
<circle cx="336.3" cy="64.9" r="3.6" fill="url(#gOT)"/>
<circle cx="434.3" cy="200.3" r="3.9" fill="url(#gO)"/>
<circle cx="398.2" cy="200.7" r="2.7" fill="url(#gTi)"/>
<line x1="368.0" y1="26.3" x2="356.2" y2="24.0" stroke="#9488ea" stroke-width="1.9"/>
<line x1="388.5" y1="91.1" x2="384.9" y2="90.2" stroke="#e01010" stroke-width="1.9"/>
<circle cx="362.2" cy="201.1" r="3.9" fill="url(#gO)"/>
<circle cx="326.1" cy="201.5" r="2.7" fill="url(#gTi)"/>
<line x1="431.5" y1="238.7" x2="434.2" y2="236.7" stroke="#e01010" stroke-width="1.9"/>
<line x1="398.4" y1="237.1" x2="395.1" y2="239.1" stroke="#bcc4c4" stroke-width="2.0"/>
<line x1="358.7" y1="239.5" x2="362.6" y2="237.4" stroke="#e01010" stroke-width="1.9"/>
<line x1="398.2" y1="200.7" x2="398.2" y2="191.5" stroke="#bcc4c4" stroke-width="1.9"/>
<line x1="398.0" y1="128.0" x2="399.7" y2="130.6" stroke="#9488ea" stroke-width="1.9"/>
<line x1="326.8" y1="237.8" x2="322.3" y2="239.9" stroke="#bcc4c4" stroke-width="2.0"/>
<line x1="326.1" y1="201.5" x2="325.9" y2="192.3" stroke="#bcc4c4" stroke-width="1.9"/>
<circle cx="413.3" cy="275.3" r="3.9" fill="url(#gO)"/>
<line x1="439.0" y1="123.5" x2="441.9" y2="123.4" stroke="#d00808" stroke-width="1.9"/>
<circle cx="341.1" cy="276.1" r="3.9" fill="url(#gO)"/>
<line x1="368.7" y1="94.6" x2="366.1" y2="96.9" stroke="#9488ea" stroke-width="2.0"/>
<circle cx="368.0" cy="26.3" r="2.4" fill="url(#gMn)"/>
<line x1="398.2" y1="191.5" x2="398.2" y2="182.3" stroke="#e01010" stroke-width="1.8"/>
<line x1="325.9" y1="192.3" x2="325.7" y2="183.1" stroke="#e01010" stroke-width="1.8"/>
<line x1="364.7" y1="48.2" x2="363.3" y2="43.2" stroke="#e01010" stroke-width="1.8"/>
<line x1="377.8" y1="131.0" x2="381.3" y2="132.2" stroke="#e01010" stroke-width="1.8"/>
<line x1="398.1" y1="163.8" x2="390.7" y2="163.5" stroke="#bcc4c4" stroke-width="1.9"/>
<line x1="332.8" y1="63.3" x2="336.3" y2="64.9" stroke="#e01010" stroke-width="1.9"/>
<line x1="325.4" y1="164.5" x2="318.6" y2="164.2" stroke="#bcc4c4" stroke-width="1.9"/>
<circle cx="398.2" cy="182.3" r="3.9" fill="url(#gO)"/>
<line x1="398.2" y1="200.7" x2="405.7" y2="201.3" stroke="#bcc4c4" stroke-width="2.0"/>
<line x1="326.5" y1="23.2" x2="327.9" y2="23.0" stroke="#e01010" stroke-width="1.9"/>
<circle cx="312.3" cy="56.7" r="3.6" fill="url(#gOT)"/>
<line x1="368.0" y1="26.3" x2="367.8" y2="9.0" stroke="#9488ea" stroke-width="1.5"/>
<circle cx="325.7" cy="183.1" r="3.9" fill="url(#gO)"/>
<line x1="326.1" y1="201.5" x2="332.9" y2="202.1" stroke="#bcc4c4" stroke-width="2.0"/>
<circle cx="363.3" cy="43.2" r="3.6" fill="url(#gOT)"/>
<line x1="324.7" y1="128.8" x2="333.9" y2="131.4" stroke="#9488ea" stroke-width="1.9"/>
<line x1="368.3" y1="60.7" x2="377.2" y2="62.5" stroke="#9488ea" stroke-width="2.0"/>
<line x1="405.8" y1="238.0" x2="413.3" y2="238.9" stroke="#e01010" stroke-width="1.8"/>
<line x1="307.8" y1="98.7" x2="300.4" y2="99.0" stroke="#d00808" stroke-width="1.9"/>
<circle cx="449.5" cy="256.8" r="3.0" fill="url(#gSr)"/>
<line x1="333.6" y1="238.8" x2="340.5" y2="239.7" stroke="#e01010" stroke-width="1.8"/>
<circle cx="416.5" cy="110.7" r="2.7" fill="url(#gTb)"/>
<circle cx="422.0" cy="76.6" r="2.7" fill="url(#gTb)"/>
<circle cx="377.0" cy="257.6" r="3.0" fill="url(#gSr)"/>
<line x1="420.9" y1="276.5" x2="413.3" y2="275.3" stroke="#e01010" stroke-width="1.9"/>
<line x1="368.0" y1="26.3" x2="379.8" y2="22.7" stroke="#9488ea" stroke-width="2.0"/>
<circle cx="304.5" cy="258.3" r="3.0" fill="url(#gSr)"/>
<line x1="348.0" y1="277.3" x2="341.1" y2="276.1" stroke="#e01010" stroke-width="1.9"/>
<line x1="324.7" y1="128.8" x2="316.8" y2="125.8" stroke="#9488ea" stroke-width="1.9"/>
<line x1="368.3" y1="60.7" x2="359.8" y2="56.5" stroke="#9488ea" stroke-width="2.0"/>
<circle cx="381.3" cy="132.2" r="3.6" fill="url(#gOT)"/>
<line x1="360.6" y1="125.3" x2="357.3" y2="124.3" stroke="#e01010" stroke-width="1.8"/>
<line x1="315.3" y1="57.4" x2="312.3" y2="56.7" stroke="#e01010" stroke-width="1.9"/>
<circle cx="434.4" cy="163.4" r="3.9" fill="url(#gO)"/>
<circle cx="398.1" cy="163.8" r="2.7" fill="url(#gTi)"/>
<circle cx="361.8" cy="164.2" r="3.9" fill="url(#gO)"/>
<line x1="385.9" y1="131.0" x2="381.3" y2="132.2" stroke="#e01010" stroke-width="1.9"/>
<circle cx="408.3" cy="21.3" r="3.6" fill="url(#gOT)"/>
<circle cx="325.4" cy="164.5" r="2.7" fill="url(#gTi)"/>
<line x1="431.6" y1="201.7" x2="434.3" y2="200.3" stroke="#e01010" stroke-width="1.9"/>
<line x1="398.2" y1="200.7" x2="394.9" y2="202.1" stroke="#bcc4c4" stroke-width="2.0"/>
<line x1="358.2" y1="202.5" x2="362.2" y2="201.1" stroke="#e01010" stroke-width="1.9"/>
<line x1="398.1" y1="163.8" x2="398.1" y2="154.5" stroke="#bcc4c4" stroke-width="2.0"/>
<line x1="326.1" y1="201.5" x2="321.5" y2="202.9" stroke="#bcc4c4" stroke-width="2.0"/>
<line x1="324.0" y1="94.2" x2="327.8" y2="91.9" stroke="#9488ea" stroke-width="1.9"/>
<line x1="325.4" y1="164.5" x2="325.2" y2="155.2" stroke="#bcc4c4" stroke-width="2.0"/>
<circle cx="413.3" cy="238.9" r="3.9" fill="url(#gO)"/>
<circle cx="340.5" cy="239.7" r="3.9" fill="url(#gO)"/>
<line x1="428.6" y1="277.8" x2="431.4" y2="275.1" stroke="#bcc4c4" stroke-width="1.9"/>
<line x1="379.8" y1="22.7" x2="384.5" y2="21.3" stroke="#e01010" stroke-width="1.9"/>
<line x1="395.3" y1="275.5" x2="391.9" y2="278.2" stroke="#e01010" stroke-width="1.8"/>
<line x1="355.1" y1="278.6" x2="359.1" y2="275.9" stroke="#bcc4c4" stroke-width="1.9"/>
<line x1="323.0" y1="276.3" x2="318.4" y2="279.0" stroke="#e01010" stroke-width="1.8"/>
<line x1="398.1" y1="154.5" x2="398.0" y2="145.1" stroke="#e01010" stroke-width="1.9"/>
<circle cx="384.5" cy="21.3" r="3.6" fill="url(#gOT)"/>
<line x1="325.2" y1="155.2" x2="325.0" y2="145.9" stroke="#e01010" stroke-width="1.9"/>
<circle cx="357.3" cy="124.3" r="3.6" fill="url(#gOT)"/>
<line x1="430.5" y1="27.2" x2="433.6" y2="28.9" stroke="#d00808" stroke-width="2.0"/>
<circle cx="398.0" cy="145.1" r="3.9" fill="url(#gO)"/>
<line x1="398.1" y1="163.8" x2="405.6" y2="164.1" stroke="#bcc4c4" stroke-width="2.0"/>
<line x1="405.4" y1="21.7" x2="408.3" y2="21.3" stroke="#e01010" stroke-width="1.9"/>
<line x1="397.8" y1="93.4" x2="405.5" y2="91.0" stroke="#9488ea" stroke-width="1.9"/>
<circle cx="325.0" cy="145.9" r="3.9" fill="url(#gO)"/>
<line x1="398.0" y1="128.0" x2="385.9" y2="131.0" stroke="#9488ea" stroke-width="2.0"/>
<line x1="325.4" y1="164.5" x2="332.3" y2="164.8" stroke="#bcc4c4" stroke-width="2.0"/>
<line x1="405.7" y1="201.3" x2="413.3" y2="201.9" stroke="#e01010" stroke-width="1.9"/>
<circle cx="343.5" cy="77.1" r="2.7" fill="url(#gTb)"/>
<circle cx="349.0" cy="42.7" r="2.7" fill="url(#gTb)"/>
<circle cx="449.8" cy="220.1" r="3.0" fill="url(#gSr)"/>
<line x1="332.9" y1="202.1" x2="339.9" y2="202.7" stroke="#e01010" stroke-width="1.9"/>
<line x1="397.8" y1="93.4" x2="388.5" y2="91.1" stroke="#9488ea" stroke-width="1.9"/>
<circle cx="376.7" cy="220.9" r="3.0" fill="url(#gSr)"/>
<line x1="420.9" y1="239.8" x2="413.3" y2="238.9" stroke="#e01010" stroke-width="1.9"/>
<line x1="398.0" y1="128.0" x2="398.0" y2="145.1" stroke="#9488ea" stroke-width="1.5"/>
<circle cx="402.6" cy="110.8" r="3.6" fill="url(#gOT)"/>
<line x1="401.3" y1="115.6" x2="402.6" y2="110.8" stroke="#e01010" stroke-width="1.9"/>
<circle cx="303.6" cy="221.7" r="3.0" fill="url(#gSr)"/>
<line x1="347.5" y1="240.6" x2="340.5" y2="239.7" stroke="#e01010" stroke-width="1.9"/>
<line x1="324.7" y1="128.8" x2="325.0" y2="145.9" stroke="#9488ea" stroke-width="1.5"/>
<line x1="428.6" y1="277.8" x2="420.9" y2="276.5" stroke="#bcc4c4" stroke-width="2.0"/>
<line x1="355.1" y1="278.6" x2="348.0" y2="277.3" stroke="#bcc4c4" stroke-width="2.0"/>
<line x1="388.1" y1="21.7" x2="384.5" y2="21.3" stroke="#e01010" stroke-width="1.9"/>
<line x1="398.0" y1="128.0" x2="401.3" y2="115.6" stroke="#9488ea" stroke-width="2.0"/>
<circle cx="307.8" cy="98.7" r="3.6" fill="url(#gOT)"/>
<line x1="397.7" y1="58.4" x2="399.5" y2="63.0" stroke="#9488ea" stroke-width="1.9"/>
<circle cx="398.0" cy="128.0" r="2.4" fill="url(#gMn)"/>
<line x1="312.4" y1="97.4" x2="307.8" y2="98.7" stroke="#e01010" stroke-width="1.9"/>
<circle cx="324.7" cy="128.8" r="2.4" fill="url(#gMn)"/>
<line x1="439.3" y1="53.4" x2="442.2" y2="54.6" stroke="#d00808" stroke-width="2.0"/>
<line x1="431.7" y1="164.2" x2="434.4" y2="163.4" stroke="#e01010" stroke-width="1.9"/>
<line x1="398.1" y1="163.8" x2="394.7" y2="164.6" stroke="#bcc4c4" stroke-width="2.0"/>
<line x1="357.8" y1="165.0" x2="361.8" y2="164.2" stroke="#e01010" stroke-width="1.9"/>
<line x1="325.4" y1="164.5" x2="320.8" y2="165.3" stroke="#bcc4c4" stroke-width="2.0"/>
<circle cx="430.3" cy="97.4" r="3.6" fill="url(#gOT)"/>
<line x1="356.2" y1="125.5" x2="357.3" y2="124.3" stroke="#e01010" stroke-width="1.9"/>
<circle cx="413.3" cy="201.9" r="3.9" fill="url(#gO)"/>
<circle cx="339.9" cy="202.7" r="3.9" fill="url(#gO)"/>
<line x1="428.7" y1="240.8" x2="431.5" y2="238.7" stroke="#bcc4c4" stroke-width="2.0"/>
<line x1="377.2" y1="62.5" x2="380.8" y2="63.2" stroke="#e01010" stroke-width="1.9"/>
<line x1="398.0" y1="128.0" x2="410.2" y2="130.9" stroke="#9488ea" stroke-width="2.0"/>
<line x1="395.1" y1="239.1" x2="391.7" y2="241.2" stroke="#e01010" stroke-width="1.9"/>
<line x1="354.6" y1="241.6" x2="358.7" y2="239.5" stroke="#bcc4c4" stroke-width="2.0"/>
<line x1="322.3" y1="239.9" x2="317.6" y2="242.0" stroke="#e01010" stroke-width="1.9"/>
<circle cx="428.6" cy="277.8" r="2.7" fill="url(#gTi)"/>
<circle cx="391.9" cy="278.2" r="3.9" fill="url(#gO)"/>
<line x1="398.0" y1="128.0" x2="397.8" y2="93.4" stroke="#9488ea" stroke-width="1.5"/>
<circle cx="355.1" cy="278.6" r="2.8" fill="url(#gNb)"/>
<line x1="324.7" y1="128.8" x2="320.8" y2="116.4" stroke="#9488ea" stroke-width="2.0"/>
<circle cx="318.4" cy="279.0" r="3.9" fill="url(#gO)"/>
<line x1="323.4" y1="59.1" x2="332.8" y2="63.3" stroke="#9488ea" stroke-width="2.0"/>
<line x1="324.7" y1="128.8" x2="324.0" y2="94.2" stroke="#9488ea" stroke-width="1.5"/>
<line x1="306.3" y1="28.7" x2="298.7" y2="29.7" stroke="#d00808" stroke-width="2.0"/>
<line x1="428.6" y1="277.8" x2="428.6" y2="268.6" stroke="#bcc4c4" stroke-width="2.0"/>
<circle cx="416.5" cy="41.5" r="2.7" fill="url(#gTb)"/>
<line x1="355.1" y1="278.6" x2="355.0" y2="269.4" stroke="#bcc4c4" stroke-width="2.0"/>
<circle cx="422.1" cy="6.9" r="2.7" fill="url(#gTb)"/>
<line x1="324.0" y1="94.2" x2="312.4" y2="97.4" stroke="#9488ea" stroke-width="2.0"/>
<line x1="405.6" y1="164.1" x2="413.2" y2="164.4" stroke="#e01010" stroke-width="1.9"/>
<line x1="323.4" y1="59.1" x2="315.3" y2="57.4" stroke="#9488ea" stroke-width="2.0"/>
<circle cx="450.0" cy="182.8" r="3.0" fill="url(#gSr)"/>
<circle cx="439.0" cy="123.5" r="3.6" fill="url(#gOT)"/>
<line x1="332.3" y1="164.8" x2="339.3" y2="165.2" stroke="#e01010" stroke-width="1.9"/>
<line x1="410.2" y1="130.9" x2="414.9" y2="132.0" stroke="#e01010" stroke-width="1.9"/>
<circle cx="328.9" cy="76.9" r="3.6" fill="url(#gOT)"/>
<line x1="327.5" y1="81.7" x2="328.9" y2="76.9" stroke="#e01010" stroke-width="1.9"/>
<line x1="366.1" y1="96.9" x2="365.1" y2="97.8" stroke="#e01010" stroke-width="1.9"/>
<circle cx="376.4" cy="183.6" r="3.0" fill="url(#gSr)"/>
<line x1="420.9" y1="202.6" x2="413.3" y2="201.9" stroke="#e01010" stroke-width="1.9"/>
<line x1="428.6" y1="268.6" x2="428.6" y2="259.4" stroke="#e01010" stroke-width="1.9"/>
<circle cx="380.8" cy="63.2" r="3.6" fill="url(#gOT)"/>
<line x1="359.8" y1="56.5" x2="356.4" y2="54.9" stroke="#e01010" stroke-width="1.9"/>
<circle cx="302.7" cy="184.4" r="3.0" fill="url(#gSr)"/>
<line x1="347.0" y1="203.3" x2="339.9" y2="202.7" stroke="#e01010" stroke-width="1.9"/>
<line x1="355.0" y1="269.4" x2="354.9" y2="260.2" stroke="#e01010" stroke-width="1.9"/>
<line x1="428.7" y1="240.8" x2="420.9" y2="239.8" stroke="#bcc4c4" stroke-width="2.0"/>
<circle cx="414.9" cy="132.0" r="3.6" fill="url(#gOT)"/>
<line x1="324.0" y1="94.2" x2="327.5" y2="81.7" stroke="#9488ea" stroke-width="2.0"/>
<line x1="430.0" y1="96.0" x2="430.3" y2="97.4" stroke="#e01010" stroke-width="1.9"/>
<line x1="354.6" y1="241.6" x2="347.5" y2="240.6" stroke="#bcc4c4" stroke-width="2.0"/>
<circle cx="428.6" cy="259.4" r="3.9" fill="url(#gO)"/>
<line x1="385.5" y1="61.9" x2="380.8" y2="63.2" stroke="#e01010" stroke-width="1.9"/>
<line x1="428.6" y1="277.8" x2="436.4" y2="279.1" stroke="#bcc4c4" stroke-width="2.0"/>
<circle cx="397.8" cy="93.4" r="2.4" fill="url(#gMn)"/>
<circle cx="354.9" cy="260.2" r="3.9" fill="url(#gO)"/>
<line x1="355.1" y1="278.6" x2="362.3" y2="279.9" stroke="#bcc4c4" stroke-width="2.0"/>
<circle cx="324.0" cy="94.2" r="2.4" fill="url(#gMn)"/>
<line x1="322.7" y1="23.5" x2="326.5" y2="23.2" stroke="#9488ea" stroke-width="2.0"/>
<line x1="320.8" y1="116.4" x2="319.2" y2="111.5" stroke="#e01010" stroke-width="1.9"/>
<line x1="436.2" y1="124.7" x2="439.0" y2="123.5" stroke="#e01010" stroke-width="1.9"/>
<circle cx="319.2" cy="111.5" r="3.6" fill="url(#gOT)"/>
<circle cx="413.2" cy="164.4" r="3.9" fill="url(#gO)"/>
<line x1="324.0" y1="94.2" x2="336.0" y2="96.9" stroke="#9488ea" stroke-width="2.0"/>
<circle cx="339.3" cy="165.2" r="3.9" fill="url(#gO)"/>
<line x1="428.8" y1="203.2" x2="431.6" y2="201.7" stroke="#bcc4c4" stroke-width="2.0"/>
<line x1="324.7" y1="128.8" x2="332.9" y2="125.8" stroke="#9488ea" stroke-width="2.0"/>
<line x1="394.9" y1="202.1" x2="391.5" y2="203.6" stroke="#e01010" stroke-width="1.9"/>
<line x1="397.8" y1="93.4" x2="394.3" y2="80.8" stroke="#9488ea" stroke-width="2.0"/>
<line x1="418.8" y1="130.9" x2="414.9" y2="132.0" stroke="#e01010" stroke-width="1.9"/>
<line x1="354.1" y1="204.0" x2="358.2" y2="202.5" stroke="#bcc4c4" stroke-width="2.0"/>
<line x1="397.8" y1="93.4" x2="397.7" y2="58.4" stroke="#9488ea" stroke-width="1.5"/>
<line x1="324.7" y1="128.8" x2="315.2" y2="132.1" stroke="#9488ea" stroke-width="2.0"/>
<line x1="321.5" y1="202.9" x2="316.8" y2="204.4" stroke="#e01010" stroke-width="1.9"/>
<circle cx="356.4" cy="54.9" r="3.6" fill="url(#gOT)"/>
<line x1="324.0" y1="94.2" x2="323.4" y2="59.1" stroke="#9488ea" stroke-width="1.5"/>
<circle cx="428.7" cy="240.8" r="2.7" fill="url(#gTi)"/>
<line x1="397.5" y1="22.8" x2="405.4" y2="21.7" stroke="#9488ea" stroke-width="2.0"/>
<circle cx="391.7" cy="241.2" r="3.9" fill="url(#gO)"/>
<line x1="294.9" y1="282.0" x2="287.4" y2="280.5" stroke="#d00808" stroke-width="2.0"/>
<line x1="397.7" y1="58.4" x2="385.5" y2="61.9" stroke="#9488ea" stroke-width="2.0"/>
<circle cx="354.6" cy="241.6" r="2.7" fill="url(#gTi)"/>
<circle cx="365.1" cy="97.8" r="3.6" fill="url(#gOT)"/>
<circle cx="317.6" cy="242.0" r="3.9" fill="url(#gO)"/>
<line x1="428.6" y1="277.8" x2="425.7" y2="280.6" stroke="#bcc4c4" stroke-width="2.0"/>
<circle cx="342.4" cy="6.9" r="2.7" fill="url(#gTb)"/>
<line x1="388.4" y1="281.0" x2="391.9" y2="278.2" stroke="#e01010" stroke-width="1.9"/>
<line x1="428.7" y1="240.8" x2="428.7" y2="231.4" stroke="#bcc4c4" stroke-width="2.0"/>
<line x1="355.1" y1="278.6" x2="351.0" y2="281.4" stroke="#bcc4c4" stroke-width="2.0"/>
<line x1="313.6" y1="281.8" x2="318.4" y2="279.0" stroke="#e01010" stroke-width="1.9"/>
<line x1="397.5" y1="22.8" x2="388.1" y2="21.7" stroke="#9488ea" stroke-width="2.0"/>
<line x1="354.6" y1="241.6" x2="354.5" y2="232.2" stroke="#bcc4c4" stroke-width="2.0"/>
<circle cx="402.4" cy="41.0" r="3.6" fill="url(#gOT)"/>
<line x1="401.1" y1="45.9" x2="402.4" y2="41.0" stroke="#e01010" stroke-width="1.9"/>
<line x1="336.0" y1="96.9" x2="340.7" y2="98.0" stroke="#e01010" stroke-width="1.9"/>
<circle cx="450.3" cy="145.0" r="3.1" fill="url(#gSr)"/>
<line x1="397.7" y1="58.4" x2="401.1" y2="45.9" stroke="#9488ea" stroke-width="2.0"/>
<circle cx="306.3" cy="28.7" r="3.6" fill="url(#gOT)"/>
<line x1="398.0" y1="128.0" x2="396.1" y2="131.3" stroke="#9488ea" stroke-width="2.0"/>
<circle cx="376.1" cy="145.8" r="3.1" fill="url(#gSr)"/>
<line x1="421.0" y1="164.7" x2="413.2" y2="164.4" stroke="#e01010" stroke-width="1.9"/>
<line x1="428.7" y1="231.4" x2="428.7" y2="222.1" stroke="#e01010" stroke-width="1.9"/>
<circle cx="301.8" cy="146.5" r="3.1" fill="url(#gSr)"/>
<line x1="346.4" y1="165.5" x2="339.3" y2="165.2" stroke="#e01010" stroke-width="1.9"/>
<line x1="354.5" y1="232.2" x2="354.4" y2="222.9" stroke="#e01010" stroke-width="1.9"/>
<circle cx="340.7" cy="98.0" r="3.6" fill="url(#gOT)"/>
<circle cx="397.7" cy="58.4" r="2.4" fill="url(#gMn)"/>
<line x1="428.8" y1="203.2" x2="420.9" y2="202.6" stroke="#bcc4c4" stroke-width="2.0"/>
<line x1="310.8" y1="27.3" x2="306.3" y2="28.7" stroke="#e01010" stroke-width="1.9"/>
<circle cx="323.4" cy="59.1" r="2.4" fill="url(#gMn)"/>
<line x1="354.1" y1="204.0" x2="347.0" y2="203.3" stroke="#bcc4c4" stroke-width="2.0"/>
<line x1="394.3" y1="80.8" x2="392.9" y2="75.8" stroke="#e01010" stroke-width="1.9"/>
<circle cx="428.7" cy="222.1" r="3.9" fill="url(#gO)"/>
<line x1="428.7" y1="240.8" x2="436.6" y2="241.8" stroke="#bcc4c4" stroke-width="2.0"/>
<circle cx="354.4" cy="222.9" r="3.9" fill="url(#gO)"/>
<line x1="361.7" y1="96.5" x2="365.1" y2="97.8" stroke="#e01010" stroke-width="1.9"/>
<line x1="354.6" y1="241.6" x2="361.9" y2="242.6" stroke="#bcc4c4" stroke-width="2.0"/>
<circle cx="430.5" cy="27.2" r="3.6" fill="url(#gOT)"/>
<line x1="436.4" y1="279.1" x2="444.4" y2="280.4" stroke="#e01010" stroke-width="1.9"/>
<line x1="355.3" y1="55.4" x2="356.4" y2="54.9" stroke="#e01010" stroke-width="1.9"/>
<line x1="362.3" y1="279.9" x2="369.7" y2="281.2" stroke="#e01010" stroke-width="1.9"/>
<circle cx="392.9" cy="75.8" r="3.6" fill="url(#gOT)"/>
<line x1="397.7" y1="58.4" x2="410.1" y2="61.0" stroke="#9488ea" stroke-width="2.0"/>
<line x1="397.8" y1="93.4" x2="407.5" y2="89.8" stroke="#9488ea" stroke-width="2.0"/>
<line x1="397.7" y1="58.4" x2="397.5" y2="22.8" stroke="#9488ea" stroke-width="1.5"/>
<circle cx="304.2" cy="111.6" r="2.7" fill="url(#gTb)"/>
<line x1="323.4" y1="59.1" x2="319.4" y2="46.1" stroke="#9488ea" stroke-width="2.0"/>
<line x1="343.9" y1="96.6" x2="340.7" y2="98.0" stroke="#e01010" stroke-width="1.9"/>
<line x1="428.9" y1="165.0" x2="431.7" y2="164.2" stroke="#bcc4c4" stroke-width="2.0"/>
<line x1="397.8" y1="93.4" x2="389.8" y2="89.9" stroke="#9488ea" stroke-width="2.0"/>
<line x1="323.4" y1="59.1" x2="322.7" y2="23.5" stroke="#9488ea" stroke-width="1.5"/>
<line x1="394.7" y1="164.6" x2="391.3" y2="165.4" stroke="#e01010" stroke-width="1.9"/>
<line x1="353.6" y1="165.8" x2="357.8" y2="165.0" stroke="#bcc4c4" stroke-width="2.0"/>
<line x1="320.8" y1="165.3" x2="316.0" y2="166.2" stroke="#e01010" stroke-width="1.9"/>
<line x1="322.7" y1="23.5" x2="310.8" y2="27.3" stroke="#9488ea" stroke-width="2.0"/>
<circle cx="428.8" cy="203.2" r="2.7" fill="url(#gTi)"/>
<circle cx="391.5" cy="203.6" r="3.9" fill="url(#gO)"/>
<line x1="293.9" y1="244.4" x2="286.4" y2="243.3" stroke="#d00808" stroke-width="2.0"/>
<circle cx="354.1" cy="204.0" r="2.7" fill="url(#gTi)"/>
<circle cx="316.8" cy="204.4" r="3.9" fill="url(#gO)"/>
<line x1="428.7" y1="240.8" x2="425.8" y2="242.9" stroke="#bcc4c4" stroke-width="2.0"/>
<line x1="388.1" y1="243.4" x2="391.7" y2="241.2" stroke="#e01010" stroke-width="1.9"/>
<line x1="428.8" y1="203.2" x2="428.8" y2="193.7" stroke="#bcc4c4" stroke-width="2.0"/>
<line x1="354.6" y1="241.6" x2="350.4" y2="243.8" stroke="#bcc4c4" stroke-width="2.0"/>
<circle cx="439.3" cy="53.4" r="3.6" fill="url(#gOT)"/>
<line x1="410.1" y1="61.0" x2="414.9" y2="62.0" stroke="#e01010" stroke-width="1.9"/>
<line x1="312.8" y1="244.2" x2="317.6" y2="242.0" stroke="#e01010" stroke-width="1.9"/>
<line x1="354.1" y1="204.0" x2="354.0" y2="194.5" stroke="#bcc4c4" stroke-width="2.0"/>
<circle cx="444.4" cy="280.4" r="3.9" fill="url(#gO)"/>
<circle cx="369.7" cy="281.2" r="3.9" fill="url(#gO)"/>
<line x1="353.1" y1="128.8" x2="356.2" y2="125.5" stroke="#9488ea" stroke-width="2.0"/>
<circle cx="294.9" cy="282.0" r="3.9" fill="url(#gO)"/>
<circle cx="414.9" cy="62.0" r="3.6" fill="url(#gOT)"/>
<line x1="430.1" y1="25.0" x2="430.5" y2="27.2" stroke="#e01010" stroke-width="1.9"/>
<circle cx="397.5" cy="22.8" r="2.4" fill="url(#gMn)"/>
<line x1="428.8" y1="193.7" x2="428.8" y2="184.2" stroke="#e01010" stroke-width="1.9"/>
<line x1="324.0" y1="94.2" x2="320.0" y2="90.4" stroke="#9488ea" stroke-width="2.0"/>
<circle cx="322.7" cy="23.5" r="2.4" fill="url(#gMn)"/>
<line x1="354.0" y1="194.5" x2="353.9" y2="185.0" stroke="#e01010" stroke-width="1.9"/>
<line x1="428.9" y1="165.0" x2="421.0" y2="164.7" stroke="#bcc4c4" stroke-width="2.0"/>
<line x1="319.4" y1="46.1" x2="317.8" y2="41.0" stroke="#e01010" stroke-width="1.9"/>
<line x1="353.6" y1="165.8" x2="346.4" y2="165.5" stroke="#bcc4c4" stroke-width="2.0"/>
<circle cx="428.8" cy="184.2" r="3.9" fill="url(#gO)"/>
<line x1="428.8" y1="203.2" x2="436.7" y2="203.8" stroke="#bcc4c4" stroke-width="2.0"/>
<line x1="397.5" y1="22.8" x2="397.5" y2="4.8" stroke="#9488ea" stroke-width="1.5"/>
<circle cx="353.9" cy="185.0" r="3.9" fill="url(#gO)"/>
<line x1="354.1" y1="204.0" x2="361.5" y2="204.7" stroke="#bcc4c4" stroke-width="2.0"/>
<line x1="322.7" y1="23.5" x2="322.4" y2="5.6" stroke="#9488ea" stroke-width="1.5"/>
<line x1="436.6" y1="241.8" x2="444.6" y2="242.7" stroke="#e01010" stroke-width="1.9"/>
<line x1="436.5" y1="54.1" x2="439.3" y2="53.4" stroke="#e01010" stroke-width="1.9"/>
<line x1="429.0" y1="128.0" x2="436.2" y2="124.7" stroke="#9488ea" stroke-width="2.0"/>
<circle cx="317.8" cy="41.0" r="3.6" fill="url(#gOT)"/>
<line x1="332.9" y1="125.8" x2="336.1" y2="124.6" stroke="#e01010" stroke-width="1.9"/>
<line x1="361.9" y1="242.6" x2="369.3" y2="243.6" stroke="#e01010" stroke-width="1.9"/>
<line x1="429.0" y1="128.0" x2="418.8" y2="130.9" stroke="#9488ea" stroke-width="2.0"/>
<circle cx="407.0" cy="262.0" r="3.1" fill="url(#gSr)"/>
<circle cx="372.8" cy="110.9" r="2.7" fill="url(#gTb)"/>
<line x1="323.4" y1="59.1" x2="331.6" y2="54.7" stroke="#9488ea" stroke-width="2.0"/>
<circle cx="378.5" cy="75.6" r="2.7" fill="url(#gTb)"/>
<circle cx="331.9" cy="262.9" r="3.1" fill="url(#gSr)"/>
<line x1="377.1" y1="282.5" x2="369.7" y2="281.2" stroke="#e01010" stroke-width="1.9"/>
<line x1="418.8" y1="60.3" x2="414.9" y2="62.0" stroke="#e01010" stroke-width="1.9"/>
<line x1="323.4" y1="59.1" x2="313.7" y2="61.0" stroke="#9488ea" stroke-width="2.0"/>
<line x1="315.2" y1="132.1" x2="311.4" y2="133.4" stroke="#e01010" stroke-width="1.9"/>
<line x1="301.7" y1="283.4" x2="294.9" y2="282.0" stroke="#e01010" stroke-width="1.9"/>
<circle cx="428.9" cy="165.0" r="2.7" fill="url(#gTi)"/>
<line x1="429.0" y1="92.2" x2="430.0" y2="96.0" stroke="#9488ea" stroke-width="2.0"/>
<circle cx="391.3" cy="165.4" r="3.9" fill="url(#gO)"/>
<line x1="292.9" y1="206.1" x2="285.3" y2="205.4" stroke="#d00808" stroke-width="2.0"/>
<circle cx="353.6" cy="165.8" r="2.7" fill="url(#gTi)"/>
<circle cx="316.0" cy="166.2" r="3.9" fill="url(#gO)"/>
<line x1="428.8" y1="203.2" x2="425.9" y2="204.7" stroke="#bcc4c4" stroke-width="2.0"/>
<line x1="387.9" y1="205.1" x2="391.5" y2="203.6" stroke="#e01010" stroke-width="1.9"/>
<line x1="428.9" y1="165.0" x2="428.9" y2="155.4" stroke="#bcc4c4" stroke-width="2.0"/>
<line x1="354.1" y1="204.0" x2="349.9" y2="205.5" stroke="#bcc4c4" stroke-width="2.0"/>
<line x1="311.9" y1="205.9" x2="316.8" y2="204.4" stroke="#e01010" stroke-width="1.9"/>
<line x1="353.6" y1="165.8" x2="353.5" y2="156.1" stroke="#bcc4c4" stroke-width="2.0"/>
<circle cx="336.1" cy="124.6" r="3.6" fill="url(#gOT)"/>
<line x1="397.7" y1="58.4" x2="395.8" y2="59.8" stroke="#9488ea" stroke-width="2.0"/>
<circle cx="444.6" cy="242.7" r="3.9" fill="url(#gO)"/>
<circle cx="369.3" cy="243.6" r="3.9" fill="url(#gO)"/>
<line x1="425.7" y1="280.6" x2="422.7" y2="283.5" stroke="#e01010" stroke-width="1.9"/>
<line x1="340.9" y1="125.8" x2="336.1" y2="124.6" stroke="#e01010" stroke-width="1.9"/>
<circle cx="293.9" cy="244.4" r="3.9" fill="url(#gO)"/>
<line x1="384.7" y1="283.9" x2="388.4" y2="281.0" stroke="#bcc4c4" stroke-width="2.0"/>
<line x1="351.0" y1="281.4" x2="346.7" y2="284.3" stroke="#e01010" stroke-width="1.9"/>
<circle cx="311.4" cy="133.4" r="3.6" fill="url(#gOT)"/>
<line x1="308.6" y1="284.7" x2="313.6" y2="281.8" stroke="#bcc4c4" stroke-width="2.0"/>
<line x1="428.9" y1="155.4" x2="428.9" y2="145.7" stroke="#e01010" stroke-width="1.9"/>
<line x1="444.4" y1="280.4" x2="453.5" y2="281.9" stroke="#d00808" stroke-width="2.0"/>
<line x1="353.5" y1="156.1" x2="353.4" y2="146.5" stroke="#e01010" stroke-width="1.9"/>
<line x1="352.7" y1="93.0" x2="361.7" y2="96.5" stroke="#9488ea" stroke-width="2.0"/>
<circle cx="428.9" cy="145.7" r="3.9" fill="url(#gO)"/>
<line x1="407.5" y1="89.8" x2="411.4" y2="88.3" stroke="#e01010" stroke-width="1.9"/>
<line x1="428.9" y1="165.0" x2="436.9" y2="165.3" stroke="#bcc4c4" stroke-width="2.0"/>
<circle cx="353.4" cy="146.5" r="3.9" fill="url(#gO)"/>
<line x1="353.6" y1="165.8" x2="361.0" y2="166.1" stroke="#bcc4c4" stroke-width="2.0"/>
<line x1="397.5" y1="22.8" x2="407.4" y2="17.6" stroke="#9488ea" stroke-width="2.0"/>
<line x1="436.7" y1="203.8" x2="444.8" y2="204.5" stroke="#e01010" stroke-width="1.9"/>
<line x1="352.7" y1="93.0" x2="343.9" y2="96.6" stroke="#9488ea" stroke-width="2.0"/>
<line x1="361.5" y1="204.7" x2="368.9" y2="205.3" stroke="#e01010" stroke-width="1.9"/>
<circle cx="296.8" cy="76.1" r="2.7" fill="url(#gTb)"/>
<line x1="353.1" y1="128.8" x2="340.9" y2="125.8" stroke="#9488ea" stroke-width="2.0"/>
<circle cx="302.6" cy="40.5" r="2.7" fill="url(#gTb)"/>
<circle cx="406.9" cy="224.1" r="3.1" fill="url(#gSr)"/>
<line x1="429.0" y1="128.0" x2="428.9" y2="145.7" stroke="#9488ea" stroke-width="1.5"/>
<circle cx="331.3" cy="224.9" r="3.1" fill="url(#gSr)"/>
<line x1="376.8" y1="244.6" x2="369.3" y2="243.6" stroke="#e01010" stroke-width="1.9"/>
<line x1="353.1" y1="128.8" x2="353.4" y2="146.5" stroke="#9488ea" stroke-width="1.5"/>
<circle cx="358.0" cy="110.9" r="3.6" fill="url(#gOT)"/>
<line x1="356.7" y1="115.9" x2="358.0" y2="110.9" stroke="#e01010" stroke-width="1.9"/>
<line x1="396.1" y1="131.3" x2="395.4" y2="132.7" stroke="#e01010" stroke-width="1.9"/>
<line x1="300.8" y1="245.4" x2="293.9" y2="244.4" stroke="#e01010" stroke-width="1.9"/>
<line x1="384.7" y1="283.9" x2="377.1" y2="282.5" stroke="#bcc4c4" stroke-width="2.0"/>
<line x1="389.8" y1="89.9" x2="386.5" y2="88.5" stroke="#e01010" stroke-width="1.9"/>
<line x1="308.6" y1="284.7" x2="301.7" y2="283.4" stroke="#bcc4c4" stroke-width="2.0"/>
<line x1="353.1" y1="128.8" x2="356.7" y2="115.9" stroke="#9488ea" stroke-width="2.0"/>
<circle cx="429.0" cy="128.0" r="2.4" fill="url(#gMn)"/>
<line x1="309.7" y1="132.4" x2="311.4" y2="133.4" stroke="#e01010" stroke-width="1.9"/>
<circle cx="353.1" cy="128.8" r="2.4" fill="url(#gMn)"/>
<line x1="291.9" y1="167.3" x2="284.3" y2="166.9" stroke="#d00808" stroke-width="2.0"/>
<circle cx="411.4" cy="88.3" r="3.6" fill="url(#gOT)"/>
<line x1="352.2" y1="56.7" x2="355.3" y2="55.4" stroke="#9488ea" stroke-width="2.0"/>
<line x1="428.9" y1="165.0" x2="425.9" y2="165.9" stroke="#bcc4c4" stroke-width="2.0"/>
<line x1="387.7" y1="166.3" x2="391.3" y2="165.4" stroke="#e01010" stroke-width="1.9"/>
<line x1="353.6" y1="165.8" x2="349.4" y2="166.7" stroke="#bcc4c4" stroke-width="2.0"/>
<line x1="416.3" y1="89.4" x2="411.4" y2="88.3" stroke="#e01010" stroke-width="1.9"/>
<line x1="311.1" y1="167.1" x2="316.0" y2="166.2" stroke="#e01010" stroke-width="1.9"/>
<circle cx="444.8" cy="204.5" r="3.9" fill="url(#gO)"/>
<line x1="322.7" y1="23.5" x2="318.5" y2="17.6" stroke="#9488ea" stroke-width="2.0"/>
<circle cx="368.9" cy="205.3" r="3.9" fill="url(#gO)"/>
<line x1="425.8" y1="242.9" x2="422.8" y2="245.2" stroke="#e01010" stroke-width="1.9"/>
<circle cx="292.9" cy="206.1" r="3.9" fill="url(#gO)"/>
<line x1="384.5" y1="245.6" x2="388.1" y2="243.4" stroke="#bcc4c4" stroke-width="2.0"/>
<line x1="350.4" y1="243.8" x2="346.1" y2="246.0" stroke="#e01010" stroke-width="1.9"/>
<line x1="307.7" y1="246.4" x2="312.8" y2="244.2" stroke="#bcc4c4" stroke-width="2.0"/>
<line x1="429.0" y1="128.0" x2="425.6" y2="115.2" stroke="#9488ea" stroke-width="2.0"/>
<line x1="353.1" y1="128.8" x2="365.5" y2="125.6" stroke="#9488ea" stroke-width="2.0"/>
<circle cx="422.7" cy="283.5" r="3.9" fill="url(#gO)"/>
<line x1="444.6" y1="242.7" x2="453.8" y2="243.9" stroke="#d00808" stroke-width="2.0"/>
<line x1="429.0" y1="128.0" x2="429.0" y2="92.2" stroke="#9488ea" stroke-width="1.5"/>
<circle cx="384.7" cy="283.9" r="2.7" fill="url(#gTi)"/>
<circle cx="386.5" cy="88.5" r="3.6" fill="url(#gOT)"/>
<circle cx="346.7" cy="284.3" r="3.9" fill="url(#gO)"/>
<line x1="353.1" y1="128.8" x2="352.7" y2="93.0" stroke="#9488ea" stroke-width="1.5"/>
<circle cx="308.6" cy="284.7" r="2.7" fill="url(#gTi)"/>
<line x1="429.1" y1="55.9" x2="436.5" y2="54.1" stroke="#9488ea" stroke-width="2.0"/>
<line x1="331.6" y1="54.7" x2="334.9" y2="53.0" stroke="#e01010" stroke-width="1.9"/>
<circle cx="395.4" cy="132.7" r="3.6" fill="url(#gOT)"/>
<line x1="384.7" y1="283.9" x2="384.7" y2="274.4" stroke="#bcc4c4" stroke-width="2.0"/>
<line x1="429.1" y1="55.9" x2="418.8" y2="60.3" stroke="#9488ea" stroke-width="2.0"/>
<circle cx="372.1" cy="39.2" r="2.7" fill="url(#gTb)"/>
<line x1="308.6" y1="284.7" x2="308.4" y2="275.2" stroke="#bcc4c4" stroke-width="2.0"/>
<line x1="429.0" y1="92.2" x2="416.3" y2="89.4" stroke="#9488ea" stroke-width="2.0"/>
<line x1="313.7" y1="61.0" x2="309.8" y2="61.8" stroke="#e01010" stroke-width="1.9"/>
<line x1="436.9" y1="165.3" x2="445.1" y2="165.7" stroke="#e01010" stroke-width="1.9"/>
<circle cx="433.8" cy="74.3" r="3.6" fill="url(#gOT)"/>
<line x1="432.5" y1="79.3" x2="433.8" y2="74.3" stroke="#e01010" stroke-width="1.9"/>
<line x1="361.0" y1="166.1" x2="368.5" y2="166.5" stroke="#e01010" stroke-width="1.9"/>
<circle cx="406.8" cy="185.6" r="3.1" fill="url(#gSr)"/>
<circle cx="330.6" cy="186.4" r="3.1" fill="url(#gSr)"/>
<line x1="376.5" y1="206.0" x2="368.9" y2="205.3" stroke="#e01010" stroke-width="1.9"/>
<line x1="384.7" y1="274.4" x2="384.6" y2="264.8" stroke="#e01010" stroke-width="1.9"/>
<line x1="429.0" y1="92.2" x2="432.5" y2="79.3" stroke="#9488ea" stroke-width="2.0"/>
<line x1="292.9" y1="89.0" x2="285.2" y2="89.4" stroke="#d00808" stroke-width="2.0"/>
<line x1="299.8" y1="206.8" x2="292.9" y2="206.1" stroke="#e01010" stroke-width="1.9"/>
<line x1="308.4" y1="275.2" x2="308.2" y2="265.7" stroke="#e01010" stroke-width="1.9"/>
<line x1="384.5" y1="245.6" x2="376.8" y2="244.6" stroke="#bcc4c4" stroke-width="2.0"/>
<line x1="429.2" y1="19.0" x2="430.1" y2="25.0" stroke="#9488ea" stroke-width="2.0"/>
<circle cx="429.0" cy="92.2" r="2.4" fill="url(#gMn)"/>
<line x1="307.7" y1="246.4" x2="300.8" y2="245.4" stroke="#bcc4c4" stroke-width="2.0"/>
<circle cx="384.6" cy="264.8" r="3.9" fill="url(#gO)"/>
<line x1="365.5" y1="125.6" x2="370.3" y2="124.4" stroke="#e01010" stroke-width="1.9"/>
<line x1="384.7" y1="283.9" x2="392.5" y2="285.3" stroke="#bcc4c4" stroke-width="2.0"/>
<circle cx="352.7" cy="93.0" r="2.4" fill="url(#gMn)"/>
<line x1="320.0" y1="90.4" x2="318.4" y2="88.8" stroke="#e01010" stroke-width="1.9"/>
<circle cx="308.2" cy="265.7" r="3.9" fill="url(#gO)"/>
<line x1="425.6" y1="115.2" x2="424.2" y2="110.2" stroke="#e01010" stroke-width="1.9"/>
<line x1="308.6" y1="284.7" x2="315.7" y2="286.1" stroke="#bcc4c4" stroke-width="2.0"/>
<circle cx="334.9" cy="53.0" r="3.6" fill="url(#gOT)"/>
<line x1="392.2" y1="131.6" x2="395.4" y2="132.7" stroke="#e01010" stroke-width="1.9"/>
<line x1="385.7" y1="89.3" x2="386.5" y2="88.5" stroke="#e01010" stroke-width="1.9"/>
<circle cx="370.3" cy="124.4" r="3.7" fill="url(#gOT)"/>
<line x1="339.7" y1="54.0" x2="334.9" y2="53.0" stroke="#e01010" stroke-width="1.9"/>
<circle cx="424.2" cy="110.2" r="3.7" fill="url(#gOT)"/>
<line x1="429.0" y1="128.0" x2="439.5" y2="131.2" stroke="#9488ea" stroke-width="2.0"/>
<circle cx="309.8" cy="61.8" r="3.7" fill="url(#gOT)"/>
<circle cx="445.1" cy="165.7" r="3.9" fill="url(#gO)"/>
<circle cx="368.5" cy="166.5" r="3.9" fill="url(#gO)"/>
<line x1="429.0" y1="92.2" x2="441.9" y2="88.8" stroke="#9488ea" stroke-width="2.0"/>
<line x1="425.9" y1="204.7" x2="422.8" y2="206.3" stroke="#e01010" stroke-width="1.9"/>
<circle cx="291.9" cy="167.3" r="3.9" fill="url(#gO)"/>
<line x1="384.2" y1="206.7" x2="387.9" y2="205.1" stroke="#bcc4c4" stroke-width="2.0"/>
<line x1="429.0" y1="92.2" x2="429.1" y2="55.9" stroke="#9488ea" stroke-width="1.5"/>
<line x1="349.9" y1="205.5" x2="345.5" y2="207.1" stroke="#e01010" stroke-width="1.9"/>
<line x1="352.7" y1="93.0" x2="348.7" y2="79.8" stroke="#9488ea" stroke-width="2.0"/>
<line x1="306.8" y1="207.5" x2="311.9" y2="205.9" stroke="#bcc4c4" stroke-width="2.0"/>
<line x1="429.0" y1="128.0" x2="421.4" y2="125.1" stroke="#9488ea" stroke-width="2.0"/>
<line x1="407.4" y1="17.6" x2="411.3" y2="15.6" stroke="#e01010" stroke-width="1.9"/>
<line x1="352.7" y1="93.0" x2="352.2" y2="56.7" stroke="#9488ea" stroke-width="1.5"/>
<circle cx="422.8" cy="245.2" r="3.9" fill="url(#gO)"/>
<line x1="444.8" y1="204.5" x2="454.1" y2="205.3" stroke="#d00808" stroke-width="2.0"/>
<circle cx="384.5" cy="245.6" r="2.7" fill="url(#gTi)"/>
<circle cx="346.1" cy="246.0" r="3.9" fill="url(#gO)"/>
<circle cx="307.7" cy="246.4" r="2.7" fill="url(#gTi)"/>
<line x1="419.7" y1="286.5" x2="422.7" y2="283.5" stroke="#e01010" stroke-width="1.9"/>
<line x1="384.7" y1="283.9" x2="381.0" y2="286.9" stroke="#bcc4c4" stroke-width="2.0"/>
<line x1="342.2" y1="287.3" x2="346.7" y2="284.3" stroke="#e01010" stroke-width="1.9"/>
<line x1="384.5" y1="245.6" x2="384.4" y2="235.9" stroke="#bcc4c4" stroke-width="2.0"/>
<line x1="352.2" y1="56.7" x2="339.7" y2="54.0" stroke="#9488ea" stroke-width="2.0"/>
<line x1="374.0" y1="125.6" x2="370.3" y2="124.4" stroke="#e01010" stroke-width="1.9"/>
<line x1="308.6" y1="284.7" x2="303.5" y2="287.7" stroke="#bcc4c4" stroke-width="2.0"/>
<line x1="307.7" y1="246.4" x2="307.5" y2="236.8" stroke="#bcc4c4" stroke-width="2.0"/>
<circle cx="357.2" cy="38.7" r="3.7" fill="url(#gOT)"/>
<line x1="355.8" y1="43.7" x2="357.2" y2="38.7" stroke="#e01010" stroke-width="1.9"/>
<line x1="395.8" y1="59.8" x2="395.1" y2="60.3" stroke="#e01010" stroke-width="1.9"/>
<circle cx="318.4" cy="88.8" r="3.7" fill="url(#gOT)"/>
<circle cx="406.7" cy="146.4" r="3.1" fill="url(#gSr)"/>
<line x1="352.2" y1="56.7" x2="355.8" y2="43.7" stroke="#9488ea" stroke-width="2.0"/>
<circle cx="329.8" cy="147.2" r="3.1" fill="url(#gSr)"/>
<line x1="376.1" y1="166.8" x2="368.5" y2="166.5" stroke="#e01010" stroke-width="1.9"/>
<line x1="384.4" y1="235.9" x2="384.3" y2="226.2" stroke="#e01010" stroke-width="1.9"/>
<line x1="441.9" y1="88.8" x2="447.0" y2="87.4" stroke="#e01010" stroke-width="1.9"/>
<circle cx="429.1" cy="55.9" r="2.4" fill="url(#gMn)"/>
<line x1="298.8" y1="167.6" x2="291.9" y2="167.3" stroke="#e01010" stroke-width="1.9"/>
<line x1="307.5" y1="236.8" x2="307.3" y2="227.1" stroke="#e01010" stroke-width="1.9"/>
<line x1="353.1" y1="128.8" x2="349.9" y2="125.9" stroke="#9488ea" stroke-width="2.0"/>
<line x1="308.1" y1="59.9" x2="309.8" y2="61.8" stroke="#e01010" stroke-width="1.9"/>
<circle cx="352.2" cy="56.7" r="2.4" fill="url(#gMn)"/>
<line x1="384.2" y1="206.7" x2="376.5" y2="206.0" stroke="#bcc4c4" stroke-width="2.0"/>
<circle cx="411.3" cy="15.6" r="3.7" fill="url(#gOT)"/>
<line x1="306.8" y1="207.5" x2="299.8" y2="206.8" stroke="#bcc4c4" stroke-width="2.0"/>
<line x1="348.7" y1="79.8" x2="347.2" y2="74.7" stroke="#e01010" stroke-width="1.9"/>
<circle cx="384.3" cy="226.2" r="3.9" fill="url(#gO)"/>
<line x1="384.5" y1="245.6" x2="392.2" y2="246.7" stroke="#bcc4c4" stroke-width="2.0"/>
<circle cx="447.0" cy="87.4" r="3.7" fill="url(#gOT)"/>
<circle cx="307.3" cy="227.1" r="3.9" fill="url(#gO)"/>
<line x1="416.3" y1="16.5" x2="411.3" y2="15.6" stroke="#e01010" stroke-width="1.9"/>
<line x1="307.7" y1="246.4" x2="314.9" y2="247.5" stroke="#bcc4c4" stroke-width="2.0"/>
<line x1="392.5" y1="285.3" x2="400.3" y2="286.7" stroke="#e01010" stroke-width="1.9"/>
<circle cx="292.9" cy="89.0" r="3.7" fill="url(#gOT)"/>
<line x1="315.7" y1="286.1" x2="322.9" y2="287.5" stroke="#e01010" stroke-width="1.9"/>
<circle cx="347.2" cy="74.7" r="3.7" fill="url(#gOT)"/>
<line x1="352.7" y1="93.0" x2="361.8" y2="95.5" stroke="#9488ea" stroke-width="2.0"/>
<line x1="287.9" y1="134.1" x2="280.2" y2="134.0" stroke="#d00808" stroke-width="2.0"/>
<line x1="314.5" y1="89.8" x2="318.4" y2="88.8" stroke="#e01010" stroke-width="1.9"/>
<circle cx="409.7" cy="110.2" r="2.7" fill="url(#gTb)"/>
<line x1="429.1" y1="55.9" x2="425.7" y2="42.4" stroke="#9488ea" stroke-width="2.0"/>
<line x1="352.2" y1="56.7" x2="364.7" y2="53.0" stroke="#9488ea" stroke-width="2.0"/>
<line x1="429.1" y1="55.9" x2="429.2" y2="19.0" stroke="#9488ea" stroke-width="1.6"/>
<line x1="352.7" y1="93.0" x2="343.4" y2="95.7" stroke="#9488ea" stroke-width="2.0"/>
<line x1="352.2" y1="56.7" x2="351.7" y2="19.8" stroke="#9488ea" stroke-width="1.6"/>
<line x1="425.9" y1="165.9" x2="422.9" y2="166.7" stroke="#e01010" stroke-width="1.9"/>
<line x1="383.9" y1="167.1" x2="387.7" y2="166.3" stroke="#bcc4c4" stroke-width="2.0"/>
<circle cx="395.1" cy="60.3" r="3.7" fill="url(#gOT)"/>
<line x1="349.4" y1="166.7" x2="344.9" y2="167.6" stroke="#e01010" stroke-width="1.9"/>
<line x1="305.9" y1="168.0" x2="311.1" y2="167.1" stroke="#bcc4c4" stroke-width="2.0"/>
<line x1="429.2" y1="19.0" x2="416.3" y2="16.5" stroke="#9488ea" stroke-width="2.0"/>
<circle cx="422.8" cy="206.3" r="3.9" fill="url(#gO)"/>
<line x1="445.1" y1="165.7" x2="454.4" y2="166.0" stroke="#d00808" stroke-width="2.0"/>
<circle cx="384.2" cy="206.7" r="2.7" fill="url(#gTi)"/>
<circle cx="345.5" cy="207.1" r="3.9" fill="url(#gO)"/>
<circle cx="306.8" cy="207.5" r="2.8" fill="url(#gNb)"/>
<line x1="419.7" y1="247.5" x2="422.8" y2="245.2" stroke="#e01010" stroke-width="1.9"/>
<line x1="296.0" y1="90.0" x2="292.9" y2="89.0" stroke="#e01010" stroke-width="1.9"/>
<line x1="384.5" y1="245.6" x2="380.7" y2="247.9" stroke="#bcc4c4" stroke-width="2.0"/>
<line x1="341.6" y1="248.4" x2="346.1" y2="246.0" stroke="#e01010" stroke-width="1.9"/>
<line x1="384.2" y1="206.7" x2="384.1" y2="196.9" stroke="#bcc4c4" stroke-width="2.0"/>
<line x1="307.7" y1="246.4" x2="302.6" y2="248.8" stroke="#bcc4c4" stroke-width="2.0"/>
<line x1="306.8" y1="207.5" x2="306.6" y2="197.7" stroke="#bcc4c4" stroke-width="2.0"/>
<line x1="305.0" y1="129.6" x2="309.7" y2="132.4" stroke="#9488ea" stroke-width="2.0"/>
<circle cx="400.3" cy="286.7" r="3.9" fill="url(#gO)"/>
<line x1="291.0" y1="15.1" x2="283.2" y2="16.2" stroke="#d00808" stroke-width="2.0"/>
<line x1="429.0" y1="92.2" x2="428.1" y2="94.6" stroke="#9488ea" stroke-width="2.0"/>
<circle cx="322.9" cy="287.5" r="3.9" fill="url(#gO)"/>
<circle cx="429.2" cy="19.0" r="2.4" fill="url(#gMn)"/>
<line x1="364.7" y1="53.0" x2="369.6" y2="51.5" stroke="#e01010" stroke-width="1.9"/>
<circle cx="351.7" cy="19.8" r="2.4" fill="url(#gMn)"/>
<line x1="318.5" y1="17.6" x2="316.9" y2="15.1" stroke="#e01010" stroke-width="1.9"/>
<line x1="384.1" y1="196.9" x2="384.1" y2="187.0" stroke="#e01010" stroke-width="1.9"/>
<line x1="425.7" y1="42.4" x2="424.3" y2="37.1" stroke="#e01010" stroke-width="1.9"/>
<line x1="439.5" y1="131.2" x2="443.8" y2="132.5" stroke="#e01010" stroke-width="1.9"/>
<line x1="306.6" y1="197.7" x2="306.4" y2="187.8" stroke="#e01010" stroke-width="1.9"/>
<line x1="391.8" y1="58.6" x2="395.1" y2="60.3" stroke="#e01010" stroke-width="1.9"/>
<line x1="383.9" y1="167.1" x2="376.1" y2="166.8" stroke="#bcc4c4" stroke-width="2.0"/>
<line x1="305.9" y1="168.0" x2="298.8" y2="167.6" stroke="#bcc4c4" stroke-width="2.0"/>
<circle cx="369.6" cy="51.5" r="3.7" fill="url(#gOT)"/>
<line x1="429.2" y1="19.0" x2="429.3" y2="0.4" stroke="#9488ea" stroke-width="1.6"/>
<circle cx="384.1" cy="187.0" r="4.0" fill="url(#gO)"/>
<line x1="384.2" y1="206.7" x2="392.0" y2="207.4" stroke="#bcc4c4" stroke-width="2.0"/>
<line x1="351.7" y1="19.8" x2="351.5" y2="1.1" stroke="#9488ea" stroke-width="1.6"/>
<circle cx="424.3" cy="37.1" r="3.7" fill="url(#gOT)"/>
<circle cx="306.4" cy="187.8" r="4.0" fill="url(#gO)"/>
<line x1="383.6" y1="128.8" x2="392.2" y2="131.6" stroke="#9488ea" stroke-width="2.0"/>
<line x1="429.1" y1="55.9" x2="439.9" y2="57.7" stroke="#9488ea" stroke-width="2.0"/>
<line x1="306.8" y1="207.5" x2="314.0" y2="208.2" stroke="#bcc4c4" stroke-width="2.0"/>
<line x1="392.2" y1="246.7" x2="400.2" y2="247.7" stroke="#e01010" stroke-width="1.9"/>
<circle cx="439.1" cy="266.9" r="3.1" fill="url(#gSr)"/>
<line x1="314.9" y1="247.5" x2="322.1" y2="248.6" stroke="#e01010" stroke-width="1.9"/>
<line x1="429.2" y1="19.0" x2="442.3" y2="15.1" stroke="#9488ea" stroke-width="2.0"/>
<circle cx="361.4" cy="267.7" r="3.1" fill="url(#gSr)"/>
<line x1="408.3" y1="288.1" x2="400.3" y2="286.7" stroke="#e01010" stroke-width="1.9"/>
<circle cx="325.9" cy="111.0" r="2.7" fill="url(#gTb)"/>
<line x1="447.0" y1="87.4" x2="456.4" y2="87.0" stroke="#d00808" stroke-width="2.0"/>
<circle cx="331.8" cy="74.4" r="2.7" fill="url(#gTb)"/>
<circle cx="283.6" cy="268.6" r="3.1" fill="url(#gSr)"/>
<line x1="330.2" y1="289.0" x2="322.9" y2="287.5" stroke="#e01010" stroke-width="1.9"/>
<line x1="383.6" y1="128.8" x2="374.0" y2="125.6" stroke="#9488ea" stroke-width="2.0"/>
<line x1="429.1" y1="55.9" x2="421.4" y2="51.3" stroke="#9488ea" stroke-width="2.0"/>
<circle cx="443.8" cy="132.5" r="3.7" fill="url(#gOT)"/>
<line x1="421.4" y1="125.1" x2="418.3" y2="124.0" stroke="#e01010" stroke-width="1.9"/>
<line x1="373.3" y1="52.2" x2="369.6" y2="51.5" stroke="#e01010" stroke-width="1.9"/>
<circle cx="287.9" cy="134.1" r="3.7" fill="url(#gOT)"/>
<circle cx="422.9" cy="166.7" r="4.0" fill="url(#gO)"/>
<circle cx="383.9" cy="167.1" r="2.7" fill="url(#gTi)"/>
<circle cx="344.9" cy="167.6" r="4.0" fill="url(#gO)"/>
<circle cx="305.9" cy="168.0" r="2.7" fill="url(#gTi)"/>
<line x1="419.7" y1="207.9" x2="422.8" y2="206.3" stroke="#e01010" stroke-width="1.9"/>
<line x1="292.7" y1="132.8" x2="287.9" y2="134.1" stroke="#e01010" stroke-width="1.9"/>
<line x1="384.2" y1="206.7" x2="380.4" y2="208.3" stroke="#bcc4c4" stroke-width="2.0"/>
<circle cx="316.9" cy="15.1" r="3.7" fill="url(#gOT)"/>
<line x1="341.0" y1="208.8" x2="345.5" y2="207.1" stroke="#e01010" stroke-width="1.9"/>
<line x1="383.4" y1="91.7" x2="385.7" y2="89.3" stroke="#9488ea" stroke-width="2.0"/>
<line x1="383.9" y1="167.1" x2="383.8" y2="157.2" stroke="#bcc4c4" stroke-width="2.0"/>
<line x1="306.8" y1="207.5" x2="301.6" y2="209.2" stroke="#bcc4c4" stroke-width="2.0"/>
<line x1="305.9" y1="168.0" x2="305.7" y2="158.0" stroke="#bcc4c4" stroke-width="2.0"/>
<circle cx="400.2" cy="247.7" r="4.0" fill="url(#gO)"/>
<line x1="442.3" y1="15.1" x2="447.5" y2="13.6" stroke="#e01010" stroke-width="1.9"/>
<circle cx="322.1" cy="248.6" r="4.0" fill="url(#gO)"/>
<line x1="416.5" y1="289.6" x2="419.7" y2="286.5" stroke="#bcc4c4" stroke-width="2.0"/>
<line x1="352.2" y1="56.7" x2="348.8" y2="51.5" stroke="#9488ea" stroke-width="2.0"/>
<line x1="381.0" y1="286.9" x2="377.1" y2="290.0" stroke="#e01010" stroke-width="1.9"/>
<line x1="337.6" y1="290.4" x2="342.2" y2="287.3" stroke="#bcc4c4" stroke-width="2.0"/>
<line x1="303.5" y1="287.7" x2="298.2" y2="290.9" stroke="#e01010" stroke-width="1.9"/>
<line x1="361.8" y1="95.5" x2="365.5" y2="96.5" stroke="#e01010" stroke-width="1.9"/>
<circle cx="447.5" cy="13.6" r="3.7" fill="url(#gOT)"/>
<line x1="383.8" y1="157.2" x2="383.8" y2="147.1" stroke="#e01010" stroke-width="1.9"/>
<line x1="305.7" y1="158.0" x2="305.5" y2="147.9" stroke="#e01010" stroke-width="1.9"/>
<circle cx="418.3" cy="124.0" r="3.7" fill="url(#gOT)"/>
<circle cx="291.0" cy="15.1" r="3.7" fill="url(#gOT)"/>
<circle cx="383.8" cy="147.1" r="4.0" fill="url(#gO)"/>
<line x1="383.9" y1="167.1" x2="391.8" y2="167.5" stroke="#bcc4c4" stroke-width="2.0"/>
<line x1="286.0" y1="60.0" x2="278.1" y2="60.7" stroke="#d00808" stroke-width="2.0"/>
<circle cx="305.5" cy="147.9" r="4.0" fill="url(#gO)"/>
<circle cx="403.6" cy="73.4" r="2.7" fill="url(#gTb)"/>
<line x1="305.9" y1="168.0" x2="313.1" y2="168.3" stroke="#bcc4c4" stroke-width="2.0"/>
<line x1="312.9" y1="15.5" x2="316.9" y2="15.1" stroke="#e01010" stroke-width="1.9"/>
<line x1="304.2" y1="92.5" x2="314.5" y2="89.8" stroke="#9488ea" stroke-width="2.0"/>
<circle cx="409.5" cy="36.5" r="2.7" fill="url(#gTb)"/>
<line x1="305.0" y1="129.6" x2="292.7" y2="132.8" stroke="#9488ea" stroke-width="2.0"/>
<line x1="392.0" y1="207.4" x2="400.0" y2="208.1" stroke="#e01010" stroke-width="1.9"/>
<line x1="343.4" y1="95.7" x2="339.6" y2="96.7" stroke="#e01010" stroke-width="1.9"/>
<circle cx="439.3" cy="227.6" r="3.1" fill="url(#gSr)"/>
<line x1="314.0" y1="208.2" x2="321.3" y2="209.0" stroke="#e01010" stroke-width="1.9"/>
<circle cx="360.9" cy="228.4" r="3.1" fill="url(#gSr)"/>
<line x1="408.3" y1="248.8" x2="400.2" y2="247.7" stroke="#e01010" stroke-width="1.9"/>
<line x1="383.6" y1="128.8" x2="383.8" y2="147.1" stroke="#9488ea" stroke-width="1.6"/>
<line x1="304.2" y1="92.5" x2="296.0" y2="90.0" stroke="#9488ea" stroke-width="2.0"/>
<circle cx="282.5" cy="229.3" r="3.1" fill="url(#gSr)"/>
<line x1="329.4" y1="249.7" x2="322.1" y2="248.6" stroke="#e01010" stroke-width="1.9"/>
<line x1="305.0" y1="129.6" x2="305.5" y2="147.9" stroke="#9488ea" stroke-width="1.6"/>
<circle cx="310.2" cy="111.1" r="3.7" fill="url(#gOT)"/>
<line x1="308.8" y1="116.3" x2="310.2" y2="111.1" stroke="#e01010" stroke-width="1.9"/>
<line x1="416.5" y1="289.6" x2="408.3" y2="288.1" stroke="#bcc4c4" stroke-width="2.0"/>
<circle cx="365.5" cy="96.5" r="3.7" fill="url(#gOT)"/>
<line x1="337.6" y1="290.4" x2="330.2" y2="289.0" stroke="#bcc4c4" stroke-width="2.0"/>
<line x1="294.1" y1="15.5" x2="291.0" y2="15.1" stroke="#e01010" stroke-width="1.9"/>
<line x1="305.0" y1="129.6" x2="308.8" y2="116.3" stroke="#9488ea" stroke-width="2.0"/>
<line x1="370.5" y1="95.2" x2="365.5" y2="96.5" stroke="#e01010" stroke-width="1.9"/>
<circle cx="383.6" cy="128.8" r="2.5" fill="url(#gMn)"/>
<line x1="349.9" y1="125.9" x2="348.5" y2="124.7" stroke="#e01010" stroke-width="1.9"/>
<line x1="303.3" y1="54.8" x2="308.1" y2="59.9" stroke="#9488ea" stroke-width="2.0"/>
<circle cx="305.0" cy="129.6" r="2.5" fill="url(#gMn)"/>
<line x1="429.2" y1="19.0" x2="428.2" y2="19.3" stroke="#9488ea" stroke-width="2.0"/>
<line x1="443.8" y1="132.5" x2="453.2" y2="132.5" stroke="#d00808" stroke-width="2.0"/>
<line x1="419.7" y1="167.6" x2="422.9" y2="166.7" stroke="#e01010" stroke-width="1.9"/>
<line x1="383.9" y1="167.1" x2="380.0" y2="168.1" stroke="#bcc4c4" stroke-width="2.0"/>
<line x1="340.3" y1="168.5" x2="344.9" y2="167.6" stroke="#e01010" stroke-width="1.9"/>
<line x1="417.8" y1="125.3" x2="418.3" y2="124.0" stroke="#e01010" stroke-width="1.9"/>
<line x1="305.9" y1="168.0" x2="300.6" y2="168.9" stroke="#bcc4c4" stroke-width="2.0"/>
<circle cx="339.6" cy="96.7" r="3.7" fill="url(#gOT)"/>
<circle cx="400.0" cy="208.1" r="4.0" fill="url(#gO)"/>
<line x1="439.9" y1="57.7" x2="444.2" y2="58.4" stroke="#e01010" stroke-width="1.9"/>
<circle cx="321.3" cy="209.0" r="4.0" fill="url(#gO)"/>
<line x1="416.5" y1="249.9" x2="419.7" y2="247.5" stroke="#bcc4c4" stroke-width="2.0"/>
<line x1="380.7" y1="247.9" x2="376.7" y2="250.4" stroke="#e01010" stroke-width="1.9"/>
<line x1="336.9" y1="250.8" x2="341.6" y2="248.4" stroke="#bcc4c4" stroke-width="2.0"/>
<line x1="305.0" y1="129.6" x2="317.7" y2="132.7" stroke="#9488ea" stroke-width="2.0"/>
<line x1="302.6" y1="248.8" x2="297.2" y2="251.2" stroke="#e01010" stroke-width="1.9"/>
<circle cx="416.5" cy="289.6" r="2.7" fill="url(#gTi)"/>
<line x1="383.6" y1="128.8" x2="379.8" y2="115.5" stroke="#9488ea" stroke-width="2.0"/>
<circle cx="377.1" cy="290.0" r="4.0" fill="url(#gO)"/>
<line x1="383.1" y1="54.0" x2="391.8" y2="58.6" stroke="#9488ea" stroke-width="2.0"/>
<line x1="383.6" y1="128.8" x2="383.4" y2="91.7" stroke="#9488ea" stroke-width="1.6"/>
<circle cx="337.6" cy="290.4" r="2.7" fill="url(#gTi)"/>
<circle cx="298.2" cy="290.9" r="4.0" fill="url(#gO)"/>
<line x1="305.0" y1="129.6" x2="304.2" y2="92.5" stroke="#9488ea" stroke-width="1.6"/>
<line x1="416.5" y1="289.6" x2="416.5" y2="279.7" stroke="#bcc4c4" stroke-width="2.0"/>
<line x1="383.4" y1="91.7" x2="370.5" y2="95.2" stroke="#9488ea" stroke-width="2.0"/>
<line x1="337.6" y1="290.4" x2="337.5" y2="280.6" stroke="#bcc4c4" stroke-width="2.0"/>
<circle cx="324.5" cy="36.8" r="2.7" fill="url(#gTb)"/>
<line x1="447.5" y1="13.6" x2="457.0" y2="12.4" stroke="#d00808" stroke-width="2.0"/>
<line x1="383.1" y1="54.0" x2="373.3" y2="52.2" stroke="#9488ea" stroke-width="2.0"/>
<line x1="391.8" y1="167.5" x2="399.9" y2="167.9" stroke="#e01010" stroke-width="1.9"/>
<circle cx="388.4" cy="73.1" r="3.7" fill="url(#gOT)"/>
<line x1="387.0" y1="78.3" x2="388.4" y2="73.1" stroke="#e01010" stroke-width="1.9"/>
<line x1="428.1" y1="94.6" x2="427.7" y2="95.6" stroke="#e01010" stroke-width="1.9"/>
<circle cx="439.5" cy="187.7" r="3.1" fill="url(#gSr)"/>
<line x1="313.1" y1="168.3" x2="320.5" y2="168.7" stroke="#e01010" stroke-width="1.9"/>
<circle cx="444.2" cy="58.4" r="3.7" fill="url(#gOT)"/>
<line x1="421.4" y1="51.3" x2="418.3" y2="49.5" stroke="#e01010" stroke-width="1.9"/>
<circle cx="360.4" cy="188.5" r="3.1" fill="url(#gSr)"/>
<line x1="408.2" y1="208.9" x2="400.0" y2="208.1" stroke="#e01010" stroke-width="1.9"/>
<circle cx="348.5" cy="124.7" r="3.7" fill="url(#gOT)"/>
<line x1="416.5" y1="279.7" x2="416.5" y2="269.8" stroke="#e01010" stroke-width="1.9"/>
<line x1="317.7" y1="132.7" x2="322.6" y2="133.9" stroke="#e01010" stroke-width="1.9"/>
<circle cx="281.3" cy="189.3" r="3.1" fill="url(#gSr)"/>
<line x1="328.7" y1="209.7" x2="321.3" y2="209.0" stroke="#e01010" stroke-width="1.9"/>
<line x1="337.5" y1="280.6" x2="337.3" y2="270.7" stroke="#e01010" stroke-width="1.9"/>
<line x1="383.4" y1="91.7" x2="387.0" y2="78.3" stroke="#9488ea" stroke-width="2.0"/>
<circle cx="286.0" cy="60.0" r="3.7" fill="url(#gOT)"/>
<line x1="416.5" y1="249.9" x2="408.3" y2="248.8" stroke="#bcc4c4" stroke-width="2.0"/>
<line x1="336.9" y1="250.8" x2="329.4" y2="249.7" stroke="#bcc4c4" stroke-width="2.0"/>
<circle cx="322.6" cy="133.9" r="3.7" fill="url(#gOT)"/>
<circle cx="416.5" cy="269.8" r="4.0" fill="url(#gO)"/>
<line x1="338.2" y1="95.2" x2="339.6" y2="96.7" stroke="#e01010" stroke-width="1.9"/>
<line x1="416.5" y1="289.6" x2="424.8" y2="291.0" stroke="#bcc4c4" stroke-width="2.0"/>
<circle cx="383.4" cy="91.7" r="2.5" fill="url(#gMn)"/>
<circle cx="337.3" cy="270.7" r="4.0" fill="url(#gO)"/>
<line x1="290.8" y1="58.6" x2="286.0" y2="60.0" stroke="#e01010" stroke-width="1.9"/>
<line x1="337.6" y1="290.4" x2="345.2" y2="291.9" stroke="#bcc4c4" stroke-width="2.0"/>
<circle cx="304.2" cy="92.5" r="2.5" fill="url(#gMn)"/>
<line x1="379.8" y1="115.5" x2="378.3" y2="110.3" stroke="#e01010" stroke-width="1.9"/>
<circle cx="378.3" cy="110.3" r="3.7" fill="url(#gOT)"/>
<line x1="383.4" y1="91.7" x2="396.5" y2="94.6" stroke="#9488ea" stroke-width="2.0"/>
<circle cx="399.9" cy="167.9" r="4.0" fill="url(#gO)"/>
<line x1="344.8" y1="126.1" x2="348.5" y2="124.7" stroke="#e01010" stroke-width="1.9"/>
<line x1="383.6" y1="128.8" x2="393.7" y2="125.6" stroke="#9488ea" stroke-width="2.1"/>
<circle cx="320.5" cy="168.7" r="4.0" fill="url(#gO)"/>
<line x1="416.5" y1="209.6" x2="419.7" y2="207.9" stroke="#bcc4c4" stroke-width="2.0"/>
<line x1="383.6" y1="128.8" x2="374.8" y2="132.3" stroke="#9488ea" stroke-width="2.1"/>
<line x1="380.4" y1="208.3" x2="376.4" y2="210.0" stroke="#e01010" stroke-width="1.9"/>
<circle cx="418.3" cy="49.5" r="3.7" fill="url(#gOT)"/>
<line x1="336.3" y1="210.5" x2="341.0" y2="208.8" stroke="#bcc4c4" stroke-width="2.0"/>
<line x1="383.4" y1="91.7" x2="383.1" y2="54.0" stroke="#9488ea" stroke-width="1.6"/>
<line x1="301.6" y1="209.2" x2="296.1" y2="210.9" stroke="#e01010" stroke-width="1.9"/>
<line x1="304.2" y1="92.5" x2="299.7" y2="78.8" stroke="#9488ea" stroke-width="2.0"/>
<line x1="326.0" y1="132.8" x2="322.6" y2="133.9" stroke="#e01010" stroke-width="1.9"/>
<line x1="304.2" y1="92.5" x2="303.3" y2="54.8" stroke="#9488ea" stroke-width="1.6"/>
<circle cx="416.5" cy="249.9" r="2.8" fill="url(#gTi)"/>
<circle cx="427.7" cy="95.6" r="3.7" fill="url(#gOT)"/>
<circle cx="376.7" cy="250.4" r="4.0" fill="url(#gO)"/>
<line x1="272.5" y1="294.3" x2="264.7" y2="292.6" stroke="#d00808" stroke-width="2.0"/>
<circle cx="336.9" cy="250.8" r="2.8" fill="url(#gNb)"/>
<line x1="302.4" y1="16.5" x2="312.9" y2="15.5" stroke="#9488ea" stroke-width="2.0"/>
<circle cx="297.2" cy="251.2" r="4.0" fill="url(#gO)"/>
<line x1="416.5" y1="289.6" x2="413.2" y2="292.8" stroke="#bcc4c4" stroke-width="2.1"/>
<line x1="303.3" y1="54.8" x2="290.8" y2="58.6" stroke="#9488ea" stroke-width="2.0"/>
<line x1="373.0" y1="293.2" x2="377.1" y2="290.0" stroke="#e01010" stroke-width="1.9"/>
<line x1="416.5" y1="249.9" x2="416.5" y2="239.9" stroke="#bcc4c4" stroke-width="2.0"/>
<line x1="337.6" y1="290.4" x2="332.8" y2="293.7" stroke="#bcc4c4" stroke-width="2.1"/>
<line x1="292.6" y1="294.1" x2="298.2" y2="290.9" stroke="#e01010" stroke-width="1.9"/>
<line x1="336.9" y1="250.8" x2="336.8" y2="240.8" stroke="#bcc4c4" stroke-width="2.0"/>
<line x1="302.4" y1="16.5" x2="294.1" y2="15.5" stroke="#9488ea" stroke-width="2.0"/>
<line x1="396.5" y1="94.6" x2="401.6" y2="95.8" stroke="#e01010" stroke-width="1.9"/>
<circle cx="308.6" cy="36.2" r="3.7" fill="url(#gOT)"/>
<line x1="307.1" y1="41.4" x2="308.6" y2="36.2" stroke="#e01010" stroke-width="1.9"/>
<circle cx="439.7" cy="147.1" r="3.1" fill="url(#gSr)"/>
<circle cx="359.9" cy="147.9" r="3.1" fill="url(#gSr)"/>
<line x1="408.1" y1="168.2" x2="399.9" y2="167.9" stroke="#e01010" stroke-width="1.9"/>
<line x1="416.5" y1="239.9" x2="416.5" y2="229.9" stroke="#e01010" stroke-width="1.9"/>
<circle cx="401.6" cy="95.8" r="3.7" fill="url(#gOT)"/>
<line x1="303.3" y1="54.8" x2="307.1" y2="41.4" stroke="#9488ea" stroke-width="2.0"/>
<line x1="305.0" y1="129.6" x2="300.3" y2="133.2" stroke="#9488ea" stroke-width="2.1"/>
<circle cx="280.2" cy="148.7" r="3.1" fill="url(#gSr)"/>
<line x1="327.9" y1="169.1" x2="320.5" y2="168.7" stroke="#e01010" stroke-width="1.9"/>
<line x1="336.8" y1="240.8" x2="336.6" y2="230.7" stroke="#e01010" stroke-width="1.9"/>
<circle cx="383.1" cy="54.0" r="2.5" fill="url(#gMn)"/>
<line x1="416.5" y1="209.6" x2="408.2" y2="208.9" stroke="#bcc4c4" stroke-width="2.0"/>
<line x1="348.8" y1="51.5" x2="347.5" y2="49.4" stroke="#e01010" stroke-width="1.9"/>
<circle cx="303.3" cy="54.8" r="2.5" fill="url(#gMn)"/>
<line x1="336.3" y1="210.5" x2="328.7" y2="209.7" stroke="#bcc4c4" stroke-width="2.0"/>
<circle cx="416.5" cy="229.9" r="4.0" fill="url(#gO)"/>
<line x1="424.6" y1="94.1" x2="427.7" y2="95.6" stroke="#e01010" stroke-width="1.9"/>
<line x1="416.5" y1="249.9" x2="424.8" y2="251.1" stroke="#bcc4c4" stroke-width="2.1"/>
<line x1="444.2" y1="58.4" x2="453.8" y2="57.7" stroke="#d00808" stroke-width="2.0"/>
<line x1="299.7" y1="78.8" x2="298.0" y2="73.5" stroke="#e01010" stroke-width="1.9"/>
<circle cx="336.6" cy="230.7" r="4.0" fill="url(#gO)"/>
<line x1="336.9" y1="250.8" x2="344.6" y2="251.9" stroke="#bcc4c4" stroke-width="2.1"/>
<line x1="417.8" y1="49.9" x2="418.3" y2="49.5" stroke="#e01010" stroke-width="1.9"/>
<line x1="424.8" y1="291.0" x2="433.2" y2="292.6" stroke="#e01010" stroke-width="1.9"/>
<line x1="345.2" y1="291.9" x2="352.9" y2="293.4" stroke="#e01010" stroke-width="1.9"/>
<circle cx="298.0" cy="73.5" r="3.7" fill="url(#gOT)"/>
<line x1="303.3" y1="54.8" x2="316.1" y2="57.6" stroke="#9488ea" stroke-width="2.1"/>
<line x1="304.2" y1="92.5" x2="312.5" y2="88.5" stroke="#9488ea" stroke-width="2.1"/>
<circle cx="362.8" cy="110.4" r="2.8" fill="url(#gTb)"/>
<line x1="383.1" y1="54.0" x2="379.2" y2="40.0" stroke="#9488ea" stroke-width="2.1"/>
<line x1="405.7" y1="94.3" x2="401.6" y2="95.8" stroke="#e01010" stroke-width="1.9"/>
<line x1="383.1" y1="54.0" x2="382.9" y2="15.7" stroke="#9488ea" stroke-width="1.6"/>
<line x1="416.5" y1="168.6" x2="419.7" y2="167.6" stroke="#bcc4c4" stroke-width="2.0"/>
<line x1="303.3" y1="54.8" x2="302.4" y2="16.5" stroke="#9488ea" stroke-width="1.6"/>
<line x1="380.0" y1="168.1" x2="376.0" y2="169.0" stroke="#e01010" stroke-width="1.9"/>
<line x1="335.6" y1="169.4" x2="340.3" y2="168.5" stroke="#bcc4c4" stroke-width="2.0"/>
<line x1="304.2" y1="92.5" x2="293.2" y2="88.6" stroke="#9488ea" stroke-width="2.1"/>
<line x1="300.6" y1="168.9" x2="295.1" y2="169.9" stroke="#e01010" stroke-width="1.9"/>
<circle cx="416.5" cy="209.6" r="2.9" fill="url(#gNb)"/>
<circle cx="376.4" cy="210.0" r="4.0" fill="url(#gO)"/>
<line x1="271.3" y1="254.0" x2="263.4" y2="252.7" stroke="#d00808" stroke-width="2.0"/>
<circle cx="336.3" cy="210.5" r="2.8" fill="url(#gTi)"/>
<circle cx="296.1" cy="210.9" r="4.0" fill="url(#gO)"/>
<line x1="416.5" y1="249.9" x2="413.1" y2="252.4" stroke="#bcc4c4" stroke-width="2.1"/>
<line x1="372.6" y1="252.9" x2="376.7" y2="250.4" stroke="#e01010" stroke-width="2.0"/>
<line x1="416.5" y1="209.6" x2="416.5" y2="199.4" stroke="#bcc4c4" stroke-width="2.1"/>
<line x1="336.9" y1="250.8" x2="332.1" y2="253.3" stroke="#bcc4c4" stroke-width="2.1"/>
<line x1="428.2" y1="19.3" x2="427.8" y2="19.4" stroke="#e01010" stroke-width="1.9"/>
<line x1="291.6" y1="253.7" x2="297.2" y2="251.2" stroke="#e01010" stroke-width="2.0"/>
<line x1="336.3" y1="210.5" x2="336.1" y2="200.3" stroke="#bcc4c4" stroke-width="2.1"/>
<circle cx="433.2" cy="292.6" r="4.0" fill="url(#gO)"/>
<circle cx="347.5" cy="49.4" r="3.7" fill="url(#gOT)"/>
<line x1="316.1" y1="57.6" x2="321.1" y2="58.7" stroke="#e01010" stroke-width="1.9"/>
<line x1="416.5" y1="128.8" x2="417.8" y2="125.3" stroke="#9488ea" stroke-width="2.0"/>
<circle cx="352.9" cy="293.4" r="4.0" fill="url(#gO)"/>
<circle cx="272.5" cy="294.3" r="4.0" fill="url(#gO)"/>
<circle cx="321.1" cy="58.7" r="3.7" fill="url(#gOT)"/>
<line x1="383.4" y1="91.7" x2="380.9" y2="87.5" stroke="#9488ea" stroke-width="2.1"/>
<circle cx="382.9" cy="15.7" r="2.5" fill="url(#gMn)"/>
<line x1="416.5" y1="199.4" x2="416.5" y2="189.2" stroke="#e01010" stroke-width="1.9"/>
<circle cx="302.4" cy="16.5" r="2.5" fill="url(#gMn)"/>
<line x1="336.1" y1="200.3" x2="335.9" y2="190.0" stroke="#e01010" stroke-width="1.9"/>
<line x1="379.2" y1="40.0" x2="377.7" y2="34.5" stroke="#e01010" stroke-width="1.9"/>
<line x1="416.5" y1="168.6" x2="408.1" y2="168.2" stroke="#bcc4c4" stroke-width="2.0"/>
<line x1="335.6" y1="169.4" x2="327.9" y2="169.1" stroke="#bcc4c4" stroke-width="2.0"/>
<circle cx="416.5" cy="189.2" r="4.0" fill="url(#gO)"/>
<line x1="416.5" y1="209.6" x2="424.9" y2="210.4" stroke="#bcc4c4" stroke-width="2.1"/>
<line x1="382.9" y1="15.7" x2="382.7" y2="-3.6" stroke="#9488ea" stroke-width="1.6"/>
<circle cx="335.9" cy="190.0" r="4.0" fill="url(#gO)"/>
<line x1="336.3" y1="210.5" x2="344.0" y2="211.2" stroke="#bcc4c4" stroke-width="2.1"/>
<line x1="302.4" y1="16.5" x2="302.0" y2="-2.8" stroke="#9488ea" stroke-width="1.6"/>
<circle cx="377.7" cy="34.5" r="3.7" fill="url(#gOT)"/>
<line x1="393.7" y1="125.6" x2="397.7" y2="124.4" stroke="#e01010" stroke-width="1.9"/>
<line x1="424.8" y1="251.1" x2="433.4" y2="252.2" stroke="#e01010" stroke-width="1.9"/>
<line x1="344.6" y1="251.9" x2="352.4" y2="253.1" stroke="#e01010" stroke-width="1.9"/>
<circle cx="436.8" cy="109.5" r="2.8" fill="url(#gTb)"/>
<line x1="343.7" y1="50.1" x2="347.5" y2="49.4" stroke="#e01010" stroke-width="2.0"/>
<line x1="334.9" y1="129.6" x2="344.8" y2="126.1" stroke="#9488ea" stroke-width="2.0"/>
<line x1="383.1" y1="54.0" x2="393.3" y2="49.2" stroke="#9488ea" stroke-width="2.1"/>
<circle cx="443.0" cy="71.6" r="2.8" fill="url(#gTb)"/>
<circle cx="393.0" cy="272.9" r="3.1" fill="url(#gSr)"/>
<line x1="334.9" y1="129.6" x2="326.0" y2="132.8" stroke="#9488ea" stroke-width="2.0"/>
<line x1="383.1" y1="54.0" x2="374.1" y2="55.9" stroke="#9488ea" stroke-width="2.1"/>
<line x1="374.8" y1="132.3" x2="371.2" y2="133.8" stroke="#e01010" stroke-width="1.9"/>
<circle cx="312.3" cy="273.8" r="3.1" fill="url(#gSr)"/>
<line x1="360.8" y1="295.0" x2="352.9" y2="293.4" stroke="#e01010" stroke-width="2.0"/>
<circle cx="275.5" cy="111.2" r="2.8" fill="url(#gTb)"/>
<circle cx="281.6" cy="73.2" r="2.8" fill="url(#gTb)"/>
<line x1="279.7" y1="295.9" x2="272.5" y2="294.3" stroke="#e01010" stroke-width="2.0"/>
<line x1="324.5" y1="56.8" x2="321.1" y2="58.7" stroke="#e01010" stroke-width="2.0"/>
<circle cx="427.8" cy="19.4" r="3.7" fill="url(#gOT)"/>
<circle cx="416.5" cy="168.6" r="2.8" fill="url(#gTi)"/>
<circle cx="376.0" cy="169.0" r="4.0" fill="url(#gO)"/>
<line x1="270.0" y1="212.9" x2="262.1" y2="212.0" stroke="#d00808" stroke-width="2.1"/>
<circle cx="335.6" cy="169.4" r="2.8" fill="url(#gTi)"/>
<line x1="334.2" y1="91.1" x2="338.2" y2="95.2" stroke="#9488ea" stroke-width="2.0"/>
<circle cx="295.1" cy="169.9" r="4.0" fill="url(#gO)"/>
<line x1="416.5" y1="209.6" x2="413.1" y2="211.4" stroke="#bcc4c4" stroke-width="2.1"/>
<line x1="372.2" y1="211.8" x2="376.4" y2="210.0" stroke="#e01010" stroke-width="2.0"/>
<line x1="416.5" y1="168.6" x2="416.5" y2="158.2" stroke="#bcc4c4" stroke-width="2.1"/>
<line x1="336.3" y1="210.5" x2="331.4" y2="212.2" stroke="#bcc4c4" stroke-width="2.1"/>
<circle cx="397.7" cy="124.4" r="3.7" fill="url(#gOT)"/>
<line x1="290.5" y1="212.7" x2="296.1" y2="210.9" stroke="#e01010" stroke-width="2.0"/>
<line x1="335.6" y1="169.4" x2="335.4" y2="159.1" stroke="#bcc4c4" stroke-width="2.1"/>
<circle cx="433.4" cy="252.2" r="4.0" fill="url(#gO)"/>
<line x1="303.3" y1="54.8" x2="298.4" y2="56.2" stroke="#9488ea" stroke-width="2.1"/>
<line x1="402.9" y1="125.6" x2="397.7" y2="124.4" stroke="#e01010" stroke-width="2.0"/>
<circle cx="352.4" cy="253.1" r="4.0" fill="url(#gO)"/>
<line x1="413.2" y1="292.8" x2="409.7" y2="296.1" stroke="#e01010" stroke-width="1.9"/>
<circle cx="271.3" cy="254.0" r="4.0" fill="url(#gO)"/>
<circle cx="371.2" cy="133.8" r="3.7" fill="url(#gOT)"/>
<line x1="368.8" y1="296.6" x2="373.0" y2="293.2" stroke="#bcc4c4" stroke-width="2.1"/>
<line x1="332.8" y1="293.7" x2="327.9" y2="297.0" stroke="#e01010" stroke-width="1.9"/>
<line x1="286.9" y1="297.5" x2="292.6" y2="294.1" stroke="#bcc4c4" stroke-width="2.1"/>
<line x1="424.7" y1="17.2" x2="427.8" y2="19.4" stroke="#e01010" stroke-width="2.0"/>
<line x1="416.5" y1="158.2" x2="416.5" y2="147.8" stroke="#e01010" stroke-width="2.0"/>
<line x1="433.2" y1="292.6" x2="442.9" y2="294.3" stroke="#d00808" stroke-width="2.1"/>
<line x1="335.4" y1="159.1" x2="335.2" y2="148.7" stroke="#e01010" stroke-width="2.0"/>
<line x1="416.4" y1="90.3" x2="424.6" y2="94.1" stroke="#9488ea" stroke-width="2.1"/>
<circle cx="416.5" cy="147.8" r="4.0" fill="url(#gO)"/>
<line x1="416.5" y1="168.6" x2="425.0" y2="169.0" stroke="#bcc4c4" stroke-width="2.1"/>
<circle cx="335.2" cy="148.7" r="4.0" fill="url(#gO)"/>
<line x1="312.5" y1="88.5" x2="315.9" y2="86.9" stroke="#e01010" stroke-width="2.0"/>
<line x1="335.6" y1="169.4" x2="343.3" y2="169.8" stroke="#bcc4c4" stroke-width="2.1"/>
<line x1="416.4" y1="90.3" x2="405.7" y2="94.3" stroke="#9488ea" stroke-width="2.1"/>
<line x1="424.9" y1="210.4" x2="433.5" y2="211.1" stroke="#e01010" stroke-width="2.0"/>
<circle cx="355.7" cy="72.1" r="2.8" fill="url(#gTb)"/>
<line x1="416.5" y1="128.8" x2="402.9" y2="125.6" stroke="#9488ea" stroke-width="2.1"/>
<circle cx="361.9" cy="33.9" r="2.8" fill="url(#gTb)"/>
<line x1="344.0" y1="211.2" x2="351.8" y2="212.0" stroke="#e01010" stroke-width="2.0"/>
<circle cx="392.8" cy="232.2" r="3.2" fill="url(#gSr)"/>
<line x1="416.5" y1="128.8" x2="416.5" y2="147.8" stroke="#9488ea" stroke-width="1.6"/>
<circle cx="421.6" cy="109.6" r="3.7" fill="url(#gOT)"/>
<line x1="420.2" y1="115.0" x2="421.6" y2="109.6" stroke="#e01010" stroke-width="2.0"/>
<circle cx="311.4" cy="233.1" r="3.2" fill="url(#gSr)"/>
<line x1="360.3" y1="254.3" x2="352.4" y2="253.1" stroke="#e01010" stroke-width="2.0"/>
<line x1="334.9" y1="129.6" x2="335.2" y2="148.7" stroke="#9488ea" stroke-width="1.6"/>
<line x1="302.4" y1="16.5" x2="291.3" y2="10.8" stroke="#9488ea" stroke-width="2.1"/>
<line x1="278.5" y1="255.2" x2="271.3" y2="254.0" stroke="#e01010" stroke-width="2.0"/>
<line x1="300.3" y1="133.2" x2="298.3" y2="134.7" stroke="#e01010" stroke-width="2.0"/>
<line x1="368.8" y1="296.6" x2="360.8" y2="295.0" stroke="#bcc4c4" stroke-width="2.1"/>
<line x1="416.5" y1="128.8" x2="420.2" y2="115.0" stroke="#9488ea" stroke-width="2.1"/>
<line x1="286.9" y1="297.5" x2="279.7" y2="295.9" stroke="#bcc4c4" stroke-width="2.1"/>
<line x1="270.8" y1="125.7" x2="262.8" y2="125.8" stroke="#d00808" stroke-width="2.1"/>
<line x1="293.2" y1="88.6" x2="288.8" y2="87.1" stroke="#e01010" stroke-width="2.0"/>
<line x1="370.1" y1="132.7" x2="371.2" y2="133.8" stroke="#e01010" stroke-width="2.0"/>
<circle cx="416.5" cy="128.8" r="2.5" fill="url(#gMn)"/>
<circle cx="334.9" cy="129.6" r="2.5" fill="url(#gMn)"/>
<line x1="416.4" y1="51.2" x2="417.8" y2="49.9" stroke="#9488ea" stroke-width="2.1"/>
<line x1="268.7" y1="171.1" x2="260.8" y2="170.6" stroke="#d00808" stroke-width="2.1"/>
<circle cx="315.9" cy="86.9" r="3.7" fill="url(#gOT)"/>
<line x1="416.5" y1="168.6" x2="413.1" y2="169.6" stroke="#bcc4c4" stroke-width="2.1"/>
<line x1="371.8" y1="170.0" x2="376.0" y2="169.0" stroke="#e01010" stroke-width="2.0"/>
<line x1="335.6" y1="169.4" x2="330.6" y2="170.4" stroke="#bcc4c4" stroke-width="2.1"/>
<line x1="289.4" y1="170.9" x2="295.1" y2="169.9" stroke="#e01010" stroke-width="2.0"/>
<line x1="321.0" y1="88.1" x2="315.9" y2="86.9" stroke="#e01010" stroke-width="2.0"/>
<circle cx="433.5" cy="211.1" r="4.0" fill="url(#gO)"/>
<circle cx="351.8" cy="212.0" r="4.0" fill="url(#gO)"/>
<line x1="413.1" y1="252.4" x2="409.7" y2="255.0" stroke="#e01010" stroke-width="2.0"/>
<circle cx="270.0" cy="212.9" r="4.0" fill="url(#gO)"/>
<line x1="368.4" y1="255.5" x2="372.6" y2="252.9" stroke="#bcc4c4" stroke-width="2.1"/>
<line x1="332.1" y1="253.3" x2="327.1" y2="255.9" stroke="#e01010" stroke-width="2.0"/>
<line x1="416.5" y1="128.8" x2="430.2" y2="125.4" stroke="#9488ea" stroke-width="2.1"/>
<line x1="285.8" y1="256.4" x2="291.6" y2="253.7" stroke="#bcc4c4" stroke-width="2.1"/>
<circle cx="409.7" cy="296.1" r="4.0" fill="url(#gO)"/>
<line x1="433.4" y1="252.2" x2="443.1" y2="253.5" stroke="#d00808" stroke-width="2.1"/>
<line x1="416.5" y1="128.8" x2="416.4" y2="90.3" stroke="#9488ea" stroke-width="1.6"/>
<circle cx="368.8" cy="296.6" r="2.8" fill="url(#gTi)"/>
<line x1="334.9" y1="129.6" x2="330.5" y2="115.9" stroke="#9488ea" stroke-width="2.1"/>
<circle cx="327.9" cy="297.0" r="4.0" fill="url(#gO)"/>
<line x1="393.3" y1="49.2" x2="397.4" y2="47.2" stroke="#e01010" stroke-width="2.0"/>
<line x1="334.9" y1="129.6" x2="334.2" y2="91.1" stroke="#9488ea" stroke-width="1.6"/>
<circle cx="286.9" cy="297.5" r="2.8" fill="url(#gTi)"/>
<circle cx="288.8" cy="87.1" r="3.7" fill="url(#gOT)"/>
<circle cx="437.2" cy="32.5" r="2.8" fill="url(#gTb)"/>
<line x1="333.6" y1="52.0" x2="343.7" y2="50.1" stroke="#9488ea" stroke-width="2.1"/>
<line x1="368.8" y1="296.6" x2="368.7" y2="286.4" stroke="#bcc4c4" stroke-width="2.1"/>
<circle cx="298.3" cy="134.7" r="3.7" fill="url(#gOT)"/>
<line x1="286.9" y1="297.5" x2="286.6" y2="287.3" stroke="#bcc4c4" stroke-width="2.1"/>
<line x1="333.6" y1="52.0" x2="324.5" y2="56.8" stroke="#9488ea" stroke-width="2.1"/>
<line x1="374.1" y1="55.9" x2="370.5" y2="56.7" stroke="#e01010" stroke-width="2.0"/>
<circle cx="273.2" cy="34.1" r="2.8" fill="url(#gTb)"/>
<line x1="334.2" y1="91.1" x2="321.0" y2="88.1" stroke="#9488ea" stroke-width="2.1"/>
<line x1="425.0" y1="169.0" x2="433.7" y2="169.4" stroke="#e01010" stroke-width="2.0"/>
<line x1="343.3" y1="169.8" x2="351.2" y2="170.2" stroke="#e01010" stroke-width="2.0"/>
<circle cx="339.6" cy="71.9" r="3.7" fill="url(#gOT)"/>
<line x1="338.1" y1="77.2" x2="339.6" y2="71.9" stroke="#e01010" stroke-width="2.0"/>
<circle cx="392.6" cy="190.8" r="3.2" fill="url(#gSr)"/>
<circle cx="310.5" cy="191.6" r="3.2" fill="url(#gSr)"/>
<line x1="359.8" y1="212.8" x2="351.8" y2="212.0" stroke="#e01010" stroke-width="2.0"/>
<line x1="368.7" y1="286.4" x2="368.6" y2="276.1" stroke="#e01010" stroke-width="2.0"/>
<line x1="277.2" y1="213.7" x2="270.0" y2="212.9" stroke="#e01010" stroke-width="2.0"/>
<line x1="286.6" y1="287.3" x2="286.3" y2="277.0" stroke="#e01010" stroke-width="2.0"/>
<line x1="334.2" y1="91.1" x2="338.1" y2="77.2" stroke="#9488ea" stroke-width="2.1"/>
<line x1="368.4" y1="255.5" x2="360.3" y2="254.3" stroke="#bcc4c4" stroke-width="2.1"/>
<line x1="430.2" y1="125.4" x2="435.5" y2="124.1" stroke="#e01010" stroke-width="2.0"/>
<circle cx="416.4" cy="90.3" r="2.5" fill="url(#gMn)"/>
<line x1="285.8" y1="256.4" x2="278.5" y2="255.2" stroke="#bcc4c4" stroke-width="2.1"/>
<line x1="380.9" y1="87.5" x2="379.9" y2="85.8" stroke="#e01010" stroke-width="2.0"/>
<circle cx="368.6" cy="276.1" r="4.0" fill="url(#gO)"/>
<line x1="368.8" y1="296.6" x2="377.0" y2="298.2" stroke="#bcc4c4" stroke-width="2.1"/>
<circle cx="334.2" cy="91.1" r="2.5" fill="url(#gMn)"/>
<circle cx="286.3" cy="277.0" r="4.0" fill="url(#gO)"/>
<circle cx="397.4" cy="47.2" r="3.7" fill="url(#gOT)"/>
<line x1="286.9" y1="297.5" x2="294.3" y2="299.1" stroke="#bcc4c4" stroke-width="2.1"/>
<line x1="330.5" y1="115.9" x2="328.8" y2="110.5" stroke="#e01010" stroke-width="2.0"/>
<circle cx="435.5" cy="124.1" r="3.7" fill="url(#gOT)"/>
<line x1="402.7" y1="48.3" x2="397.4" y2="47.2" stroke="#e01010" stroke-width="2.0"/>
<line x1="293.9" y1="133.5" x2="298.3" y2="134.7" stroke="#e01010" stroke-width="2.0"/>
<circle cx="370.5" cy="56.7" r="3.7" fill="url(#gOT)"/>
<line x1="286.8" y1="88.0" x2="288.8" y2="87.1" stroke="#e01010" stroke-width="2.0"/>
<circle cx="270.8" cy="125.7" r="3.7" fill="url(#gOT)"/>
<circle cx="328.8" cy="110.5" r="3.7" fill="url(#gOT)"/>
<line x1="334.9" y1="129.6" x2="344.3" y2="133.1" stroke="#9488ea" stroke-width="2.1"/>
<circle cx="433.7" cy="169.4" r="4.0" fill="url(#gO)"/>
<circle cx="351.2" cy="170.2" r="4.0" fill="url(#gO)"/>
<line x1="413.1" y1="211.4" x2="409.6" y2="213.2" stroke="#e01010" stroke-width="2.0"/>
<circle cx="268.7" cy="171.1" r="4.0" fill="url(#gO)"/>
<line x1="416.4" y1="90.3" x2="412.7" y2="76.1" stroke="#9488ea" stroke-width="2.1"/>
<line x1="334.2" y1="91.1" x2="347.5" y2="87.4" stroke="#9488ea" stroke-width="2.1"/>
<line x1="416.4" y1="11.4" x2="424.7" y2="17.2" stroke="#9488ea" stroke-width="2.1"/>
<line x1="367.9" y1="213.6" x2="372.2" y2="211.8" stroke="#bcc4c4" stroke-width="2.1"/>
<line x1="416.4" y1="90.3" x2="416.4" y2="51.2" stroke="#9488ea" stroke-width="1.6"/>
<line x1="331.4" y1="212.2" x2="326.3" y2="214.1" stroke="#e01010" stroke-width="2.0"/>
<line x1="284.6" y1="214.5" x2="290.5" y2="212.7" stroke="#bcc4c4" stroke-width="2.1"/>
<line x1="334.2" y1="91.1" x2="333.6" y2="52.0" stroke="#9488ea" stroke-width="1.6"/>
<circle cx="409.7" cy="255.0" r="4.0" fill="url(#gO)"/>
<line x1="433.5" y1="211.1" x2="443.4" y2="212.0" stroke="#d00808" stroke-width="2.1"/>
<line x1="334.9" y1="129.6" x2="324.4" y2="126.6" stroke="#9488ea" stroke-width="2.1"/>
<circle cx="368.4" cy="255.5" r="2.8" fill="url(#gTi)"/>
<circle cx="327.1" cy="255.9" r="4.0" fill="url(#gO)"/>
<circle cx="285.8" cy="256.4" r="2.8" fill="url(#gTi)"/>
<line x1="406.2" y1="299.6" x2="409.7" y2="296.1" stroke="#e01010" stroke-width="2.0"/>
<line x1="416.4" y1="51.2" x2="402.7" y2="48.3" stroke="#9488ea" stroke-width="2.1"/>
<line x1="368.8" y1="296.6" x2="364.4" y2="300.1" stroke="#bcc4c4" stroke-width="2.1"/>
<line x1="322.7" y1="300.5" x2="327.9" y2="297.0" stroke="#e01010" stroke-width="2.0"/>
<line x1="368.4" y1="255.5" x2="368.3" y2="245.1" stroke="#bcc4c4" stroke-width="2.1"/>
<line x1="286.9" y1="297.5" x2="281.0" y2="301.0" stroke="#bcc4c4" stroke-width="2.1"/>
<circle cx="421.7" cy="31.8" r="3.8" fill="url(#gOT)"/>
<line x1="285.8" y1="256.4" x2="285.5" y2="246.0" stroke="#bcc4c4" stroke-width="2.1"/>
<line x1="274.0" y1="127.1" x2="270.8" y2="125.7" stroke="#e01010" stroke-width="2.0"/>
<line x1="420.2" y1="37.2" x2="421.7" y2="31.8" stroke="#e01010" stroke-width="2.0"/>
<circle cx="379.9" cy="85.8" r="3.8" fill="url(#gOT)"/>
<line x1="298.4" y1="56.2" x2="296.4" y2="56.7" stroke="#e01010" stroke-width="2.0"/>
<line x1="416.4" y1="51.2" x2="420.2" y2="37.2" stroke="#9488ea" stroke-width="2.1"/>
<line x1="268.5" y1="47.3" x2="260.4" y2="48.1" stroke="#d00808" stroke-width="2.1"/>
<line x1="291.3" y1="10.8" x2="286.8" y2="8.4" stroke="#e01010" stroke-width="2.0"/>
<circle cx="392.3" cy="148.6" r="3.2" fill="url(#gSr)"/>
<circle cx="309.5" cy="149.5" r="3.2" fill="url(#gSr)"/>
<line x1="359.3" y1="170.6" x2="351.2" y2="170.2" stroke="#e01010" stroke-width="2.0"/>
<line x1="368.3" y1="245.1" x2="368.2" y2="234.6" stroke="#e01010" stroke-width="2.0"/>
<line x1="416.5" y1="128.8" x2="415.0" y2="125.7" stroke="#9488ea" stroke-width="2.1"/>
<line x1="369.3" y1="54.6" x2="370.5" y2="56.7" stroke="#e01010" stroke-width="2.0"/>
<circle cx="416.4" cy="51.2" r="2.5" fill="url(#gMn)"/>
<line x1="276.0" y1="171.5" x2="268.7" y2="171.1" stroke="#e01010" stroke-width="2.0"/>
<line x1="285.5" y1="246.0" x2="285.2" y2="235.5" stroke="#e01010" stroke-width="2.0"/>
<line x1="347.5" y1="87.4" x2="352.7" y2="86.0" stroke="#e01010" stroke-width="2.0"/>
<circle cx="333.6" cy="52.0" r="2.5" fill="url(#gMn)"/>
<line x1="367.9" y1="213.6" x2="359.8" y2="212.8" stroke="#bcc4c4" stroke-width="2.1"/>
<line x1="412.7" y1="76.1" x2="411.2" y2="70.6" stroke="#e01010" stroke-width="2.0"/>
<line x1="284.6" y1="214.5" x2="277.2" y2="213.7" stroke="#bcc4c4" stroke-width="2.1"/>
<circle cx="368.2" cy="234.6" r="4.0" fill="url(#gO)"/>
<line x1="368.4" y1="255.5" x2="376.6" y2="256.7" stroke="#bcc4c4" stroke-width="2.1"/>
<circle cx="285.2" cy="235.5" r="4.0" fill="url(#gO)"/>
<line x1="285.8" y1="256.4" x2="293.2" y2="257.6" stroke="#bcc4c4" stroke-width="2.1"/>
<circle cx="352.7" cy="86.0" r="3.8" fill="url(#gOT)"/>
<line x1="377.0" y1="298.2" x2="385.3" y2="299.8" stroke="#e01010" stroke-width="2.0"/>
<circle cx="411.2" cy="70.6" r="3.8" fill="url(#gOT)"/>
<line x1="416.4" y1="90.3" x2="427.7" y2="93.0" stroke="#9488ea" stroke-width="2.1"/>
<line x1="294.3" y1="299.1" x2="301.8" y2="300.7" stroke="#e01010" stroke-width="2.0"/>
<line x1="376.3" y1="86.9" x2="379.9" y2="85.8" stroke="#e01010" stroke-width="2.0"/>
<line x1="416.4" y1="51.2" x2="430.4" y2="47.2" stroke="#9488ea" stroke-width="2.1"/>
<line x1="416.4" y1="90.3" x2="407.9" y2="93.1" stroke="#9488ea" stroke-width="2.1"/>
<line x1="416.4" y1="51.2" x2="416.4" y2="11.4" stroke="#9488ea" stroke-width="1.6"/>
<line x1="435.5" y1="124.1" x2="445.5" y2="124.0" stroke="#d00808" stroke-width="2.1"/>
<circle cx="312.2" cy="110.5" r="2.8" fill="url(#gTb)"/>
<line x1="333.6" y1="52.0" x2="329.1" y2="37.4" stroke="#9488ea" stroke-width="2.1"/>
<line x1="333.6" y1="52.0" x2="332.9" y2="12.2" stroke="#9488ea" stroke-width="1.6"/>
<circle cx="286.8" cy="8.4" r="3.8" fill="url(#gOT)"/>
<line x1="413.1" y1="169.6" x2="409.5" y2="170.6" stroke="#e01010" stroke-width="2.0"/>
<line x1="367.5" y1="171.0" x2="371.8" y2="170.0" stroke="#bcc4c4" stroke-width="2.1"/>
<line x1="330.6" y1="170.4" x2="325.5" y2="171.5" stroke="#e01010" stroke-width="2.0"/>
<line x1="283.4" y1="171.9" x2="289.4" y2="170.9" stroke="#bcc4c4" stroke-width="2.1"/>
<circle cx="296.4" cy="56.7" r="3.8" fill="url(#gOT)"/>
<circle cx="409.6" cy="213.2" r="4.1" fill="url(#gO)"/>
<line x1="433.7" y1="169.4" x2="443.6" y2="169.8" stroke="#d00808" stroke-width="2.1"/>
<circle cx="367.9" cy="213.6" r="2.8" fill="url(#gTi)"/>
<line x1="356.5" y1="87.0" x2="352.7" y2="86.0" stroke="#e01010" stroke-width="2.0"/>
<circle cx="326.3" cy="214.1" r="4.1" fill="url(#gO)"/>
<circle cx="284.6" cy="214.5" r="2.8" fill="url(#gTi)"/>
<line x1="406.1" y1="257.7" x2="409.7" y2="255.0" stroke="#e01010" stroke-width="2.0"/>
<line x1="368.4" y1="255.5" x2="364.0" y2="258.2" stroke="#bcc4c4" stroke-width="2.1"/>
<line x1="321.9" y1="258.6" x2="327.1" y2="255.9" stroke="#e01010" stroke-width="2.0"/>
<line x1="367.9" y1="213.6" x2="367.8" y2="203.1" stroke="#bcc4c4" stroke-width="2.1"/>
<line x1="367.1" y1="129.7" x2="370.1" y2="132.7" stroke="#9488ea" stroke-width="2.1"/>
<line x1="285.8" y1="256.4" x2="279.7" y2="259.1" stroke="#bcc4c4" stroke-width="2.1"/>
<line x1="284.6" y1="214.5" x2="284.3" y2="203.9" stroke="#bcc4c4" stroke-width="2.1"/>
<circle cx="385.3" cy="299.8" r="4.1" fill="url(#gO)"/>
<circle cx="301.8" cy="300.7" r="4.1" fill="url(#gO)"/>
<line x1="334.2" y1="91.1" x2="330.2" y2="93.7" stroke="#9488ea" stroke-width="2.1"/>
<line x1="430.4" y1="47.2" x2="435.8" y2="45.6" stroke="#e01010" stroke-width="2.0"/>
<circle cx="416.4" cy="11.4" r="2.5" fill="url(#gMn)"/>
<circle cx="332.9" cy="12.2" r="2.5" fill="url(#gMn)"/>
<line x1="367.8" y1="203.1" x2="367.7" y2="192.4" stroke="#e01010" stroke-width="2.0"/>
<line x1="284.3" y1="203.9" x2="284.0" y2="193.3" stroke="#e01010" stroke-width="2.0"/>
<line x1="329.1" y1="37.4" x2="327.4" y2="31.7" stroke="#e01010" stroke-width="2.0"/>
<line x1="344.3" y1="133.1" x2="348.1" y2="134.5" stroke="#e01010" stroke-width="2.0"/>
<line x1="367.5" y1="171.0" x2="359.3" y2="170.6" stroke="#bcc4c4" stroke-width="2.1"/>
<circle cx="435.8" cy="45.6" r="3.8" fill="url(#gOT)"/>
<line x1="291.9" y1="54.8" x2="296.4" y2="56.7" stroke="#e01010" stroke-width="2.0"/>
<line x1="283.4" y1="171.9" x2="276.0" y2="171.5" stroke="#bcc4c4" stroke-width="2.1"/>
<line x1="416.4" y1="11.4" x2="416.4" y2="-8.7" stroke="#9488ea" stroke-width="1.6"/>
<circle cx="367.7" cy="192.4" r="4.1" fill="url(#gO)"/>
<line x1="367.9" y1="213.6" x2="376.3" y2="214.5" stroke="#bcc4c4" stroke-width="2.1"/>
<line x1="284.6" y1="8.4" x2="286.8" y2="8.4" stroke="#e01010" stroke-width="2.0"/>
<circle cx="268.5" cy="47.3" r="3.8" fill="url(#gOT)"/>
<line x1="332.9" y1="12.2" x2="332.5" y2="-7.9" stroke="#9488ea" stroke-width="1.6"/>
<circle cx="284.0" cy="193.3" r="4.1" fill="url(#gO)"/>
<line x1="284.6" y1="214.5" x2="292.1" y2="215.4" stroke="#bcc4c4" stroke-width="2.1"/>
<circle cx="327.4" cy="31.7" r="3.8" fill="url(#gOT)"/>
<line x1="282.3" y1="130.6" x2="293.9" y2="133.5" stroke="#9488ea" stroke-width="2.1"/>
<line x1="333.6" y1="52.0" x2="343.1" y2="53.9" stroke="#9488ea" stroke-width="2.1"/>
<line x1="376.6" y1="256.7" x2="385.0" y2="257.9" stroke="#e01010" stroke-width="2.0"/>
<line x1="262.8" y1="95.8" x2="254.7" y2="96.1" stroke="#d00808" stroke-width="2.1"/>
<circle cx="427.1" cy="278.5" r="3.2" fill="url(#gSr)"/>
<line x1="293.2" y1="257.6" x2="300.8" y2="258.9" stroke="#e01010" stroke-width="2.0"/>
<circle cx="388.8" cy="109.7" r="2.8" fill="url(#gTb)"/>
<circle cx="395.2" cy="70.3" r="2.8" fill="url(#gTb)"/>
<circle cx="343.3" cy="279.4" r="3.2" fill="url(#gSr)"/>
<line x1="393.8" y1="301.5" x2="385.3" y2="299.8" stroke="#e01010" stroke-width="2.0"/>
<circle cx="259.4" cy="280.4" r="3.2" fill="url(#gSr)"/>
<line x1="309.5" y1="302.4" x2="301.8" y2="300.7" stroke="#e01010" stroke-width="2.0"/>
<line x1="282.3" y1="130.6" x2="274.0" y2="127.1" stroke="#9488ea" stroke-width="2.1"/>
<line x1="333.6" y1="52.0" x2="322.8" y2="46.9" stroke="#9488ea" stroke-width="2.1"/>
<circle cx="348.1" cy="134.5" r="3.8" fill="url(#gOT)"/>
<line x1="324.4" y1="126.6" x2="320.2" y2="125.4" stroke="#e01010" stroke-width="2.0"/>
<line x1="271.6" y1="48.0" x2="268.5" y2="47.3" stroke="#e01010" stroke-width="2.0"/>
<circle cx="409.5" cy="170.6" r="4.1" fill="url(#gO)"/>
<circle cx="367.5" cy="171.0" r="2.8" fill="url(#gTi)"/>
<circle cx="325.5" cy="171.5" r="4.1" fill="url(#gO)"/>
<line x1="353.4" y1="133.2" x2="348.1" y2="134.5" stroke="#e01010" stroke-width="2.0"/>
<circle cx="283.4" cy="171.9" r="2.8" fill="url(#gTi)"/>
<line x1="406.0" y1="215.1" x2="409.6" y2="213.2" stroke="#e01010" stroke-width="2.0"/>
<line x1="367.9" y1="213.6" x2="363.5" y2="215.5" stroke="#bcc4c4" stroke-width="2.1"/>
<line x1="321.0" y1="216.0" x2="326.3" y2="214.1" stroke="#e01010" stroke-width="2.0"/>
<line x1="367.5" y1="171.0" x2="367.4" y2="160.3" stroke="#bcc4c4" stroke-width="2.1"/>
<line x1="284.6" y1="214.5" x2="278.5" y2="216.4" stroke="#bcc4c4" stroke-width="2.1"/>
<line x1="281.1" y1="90.5" x2="286.8" y2="88.0" stroke="#9488ea" stroke-width="2.1"/>
<line x1="283.4" y1="171.9" x2="283.1" y2="161.2" stroke="#bcc4c4" stroke-width="2.1"/>
<circle cx="385.0" cy="257.9" r="4.1" fill="url(#gO)"/>
<line x1="416.4" y1="51.2" x2="415.0" y2="45.4" stroke="#9488ea" stroke-width="2.1"/>
<circle cx="300.8" cy="258.9" r="4.1" fill="url(#gO)"/>
<line x1="402.5" y1="303.2" x2="406.2" y2="299.6" stroke="#bcc4c4" stroke-width="2.1"/>
<line x1="364.4" y1="300.1" x2="359.9" y2="303.7" stroke="#e01010" stroke-width="2.0"/>
<line x1="317.3" y1="304.1" x2="322.7" y2="300.5" stroke="#bcc4c4" stroke-width="2.1"/>
<line x1="427.7" y1="93.0" x2="432.2" y2="94.0" stroke="#e01010" stroke-width="2.0"/>
<line x1="281.0" y1="301.0" x2="274.8" y2="304.6" stroke="#e01010" stroke-width="2.0"/>
<line x1="367.4" y1="160.3" x2="367.3" y2="149.5" stroke="#e01010" stroke-width="2.0"/>
<line x1="283.1" y1="161.2" x2="282.8" y2="150.3" stroke="#e01010" stroke-width="2.0"/>
<line x1="416.4" y1="11.4" x2="427.8" y2="12.4" stroke="#9488ea" stroke-width="2.1"/>
<circle cx="320.2" cy="125.4" r="3.8" fill="url(#gOT)"/>
<circle cx="367.3" cy="149.5" r="4.1" fill="url(#gO)"/>
<line x1="367.5" y1="171.0" x2="375.9" y2="171.5" stroke="#bcc4c4" stroke-width="2.1"/>
<line x1="366.7" y1="89.6" x2="376.3" y2="86.9" stroke="#9488ea" stroke-width="2.1"/>
<circle cx="282.8" cy="150.3" r="4.1" fill="url(#gO)"/>
<line x1="367.1" y1="129.7" x2="353.4" y2="133.2" stroke="#9488ea" stroke-width="2.1"/>
<line x1="283.4" y1="171.9" x2="291.0" y2="172.4" stroke="#bcc4c4" stroke-width="2.1"/>
<line x1="416.4" y1="11.4" x2="407.8" y2="12.4" stroke="#9488ea" stroke-width="2.1"/>
<line x1="407.9" y1="93.1" x2="404.5" y2="94.2" stroke="#e01010" stroke-width="2.0"/>
<line x1="376.3" y1="214.5" x2="384.7" y2="215.3" stroke="#e01010" stroke-width="2.0"/>
<circle cx="304.1" cy="70.8" r="2.8" fill="url(#gTb)"/>
<line x1="435.8" y1="45.6" x2="445.9" y2="44.7" stroke="#d00808" stroke-width="2.1"/>
<circle cx="310.5" cy="31.0" r="2.8" fill="url(#gTb)"/>
<circle cx="427.1" cy="236.3" r="3.2" fill="url(#gSr)"/>
<line x1="292.1" y1="215.4" x2="299.7" y2="216.2" stroke="#e01010" stroke-width="2.0"/>
<line x1="366.7" y1="89.6" x2="356.5" y2="87.0" stroke="#9488ea" stroke-width="2.1"/>
<circle cx="342.6" cy="237.2" r="3.2" fill="url(#gSr)"/>
<line x1="393.6" y1="259.2" x2="385.0" y2="257.9" stroke="#e01010" stroke-width="2.0"/>
<line x1="367.1" y1="129.7" x2="367.3" y2="149.5" stroke="#9488ea" stroke-width="1.6"/>
<circle cx="372.5" cy="109.8" r="3.8" fill="url(#gOT)"/>
<line x1="371.0" y1="115.3" x2="372.5" y2="109.8" stroke="#e01010" stroke-width="2.0"/>
<circle cx="257.9" cy="238.1" r="3.2" fill="url(#gSr)"/>
<line x1="308.5" y1="260.1" x2="300.8" y2="258.9" stroke="#e01010" stroke-width="2.0"/>
<line x1="282.3" y1="130.6" x2="282.8" y2="150.3" stroke="#9488ea" stroke-width="1.6"/>
<circle cx="432.2" cy="94.0" r="3.8" fill="url(#gOT)"/>
<line x1="402.5" y1="303.2" x2="393.8" y2="301.5" stroke="#bcc4c4" stroke-width="2.1"/>
<line x1="317.3" y1="304.1" x2="309.5" y2="302.4" stroke="#bcc4c4" stroke-width="2.1"/>
<line x1="367.1" y1="129.7" x2="371.0" y2="115.3" stroke="#9488ea" stroke-width="2.1"/>
<circle cx="262.8" cy="95.8" r="3.8" fill="url(#gOT)"/>
<line x1="415.0" y1="125.7" x2="414.4" y2="124.5" stroke="#e01010" stroke-width="2.0"/>
<line x1="366.2" y1="48.9" x2="369.3" y2="54.6" stroke="#9488ea" stroke-width="2.1"/>
<circle cx="367.1" cy="129.7" r="2.5" fill="url(#gMn)"/>
<line x1="267.9" y1="94.3" x2="262.8" y2="95.8" stroke="#e01010" stroke-width="2.0"/>
<circle cx="282.3" cy="130.6" r="2.5" fill="url(#gMn)"/>
<line x1="405.9" y1="171.7" x2="409.5" y2="170.6" stroke="#e01010" stroke-width="2.0"/>
<line x1="367.5" y1="171.0" x2="363.0" y2="172.1" stroke="#bcc4c4" stroke-width="2.1"/>
<line x1="320.1" y1="172.6" x2="325.5" y2="171.5" stroke="#e01010" stroke-width="2.0"/>
<line x1="283.4" y1="171.9" x2="277.2" y2="173.0" stroke="#bcc4c4" stroke-width="2.1"/>
<circle cx="404.5" cy="94.2" r="3.8" fill="url(#gOT)"/>
<line x1="318.4" y1="126.8" x2="320.2" y2="125.4" stroke="#e01010" stroke-width="2.0"/>
<circle cx="384.7" cy="215.3" r="4.1" fill="url(#gO)"/>
<circle cx="299.7" cy="216.2" r="4.1" fill="url(#gO)"/>
<line x1="402.3" y1="260.5" x2="406.1" y2="257.7" stroke="#bcc4c4" stroke-width="2.1"/>
<line x1="343.1" y1="53.9" x2="346.9" y2="54.6" stroke="#e01010" stroke-width="2.0"/>
<line x1="367.1" y1="129.7" x2="381.0" y2="133.1" stroke="#9488ea" stroke-width="2.1"/>
<line x1="364.0" y1="258.2" x2="359.4" y2="261.0" stroke="#e01010" stroke-width="2.0"/>
<line x1="316.4" y1="261.5" x2="321.9" y2="258.6" stroke="#bcc4c4" stroke-width="2.1"/>
<line x1="279.7" y1="259.1" x2="273.5" y2="261.9" stroke="#e01010" stroke-width="2.0"/>
<circle cx="402.5" cy="303.2" r="2.8" fill="url(#gTi)"/>
<circle cx="359.9" cy="303.7" r="4.1" fill="url(#gO)"/>
<line x1="367.1" y1="129.7" x2="366.7" y2="89.6" stroke="#9488ea" stroke-width="1.6"/>
<circle cx="317.3" cy="304.1" r="2.8" fill="url(#gTi)"/>
<line x1="282.3" y1="130.6" x2="277.3" y2="116.2" stroke="#9488ea" stroke-width="2.1"/>
<circle cx="274.8" cy="304.6" r="4.1" fill="url(#gO)"/>
<line x1="280.0" y1="49.8" x2="291.9" y2="54.8" stroke="#9488ea" stroke-width="2.1"/>
<line x1="282.3" y1="130.6" x2="281.1" y2="90.5" stroke="#9488ea" stroke-width="1.6"/>
<line x1="260.2" y1="14.5" x2="252.0" y2="15.8" stroke="#d00808" stroke-width="2.1"/>
<line x1="402.5" y1="303.2" x2="402.4" y2="292.6" stroke="#bcc4c4" stroke-width="2.1"/>
<circle cx="388.4" cy="29.5" r="2.8" fill="url(#gTb)"/>
<line x1="317.3" y1="304.1" x2="317.1" y2="293.5" stroke="#bcc4c4" stroke-width="2.1"/>
<line x1="281.1" y1="90.5" x2="267.9" y2="94.3" stroke="#9488ea" stroke-width="2.1"/>
<line x1="375.9" y1="171.5" x2="384.4" y2="171.9" stroke="#e01010" stroke-width="2.0"/>
<line x1="280.0" y1="49.8" x2="271.6" y2="48.0" stroke="#9488ea" stroke-width="2.1"/>
<circle cx="427.2" cy="193.2" r="3.2" fill="url(#gSr)"/>
<circle cx="414.4" cy="124.5" r="3.8" fill="url(#gOT)"/>
<line x1="291.0" y1="172.4" x2="298.7" y2="172.8" stroke="#e01010" stroke-width="2.0"/>
<line x1="381.0" y1="133.1" x2="386.5" y2="134.4" stroke="#e01010" stroke-width="2.0"/>
<circle cx="286.8" cy="70.5" r="3.8" fill="url(#gOT)"/>
<line x1="285.2" y1="76.1" x2="286.8" y2="70.5" stroke="#e01010" stroke-width="2.0"/>
<line x1="330.2" y1="93.7" x2="328.5" y2="94.7" stroke="#e01010" stroke-width="2.0"/>
<circle cx="341.9" cy="194.1" r="3.2" fill="url(#gSr)"/>
<line x1="393.4" y1="216.2" x2="384.7" y2="215.3" stroke="#e01010" stroke-width="2.0"/>
<line x1="402.4" y1="292.6" x2="402.4" y2="282.0" stroke="#e01010" stroke-width="2.0"/>
<circle cx="346.9" cy="54.6" r="3.8" fill="url(#gOT)"/>
<line x1="322.8" y1="46.9" x2="318.5" y2="44.9" stroke="#e01010" stroke-width="2.0"/>
<circle cx="256.5" cy="195.1" r="3.2" fill="url(#gSr)"/>
<line x1="307.5" y1="217.1" x2="299.7" y2="216.2" stroke="#e01010" stroke-width="2.0"/>
<line x1="317.1" y1="293.5" x2="316.9" y2="282.9" stroke="#e01010" stroke-width="2.0"/>
<line x1="402.3" y1="260.5" x2="393.6" y2="259.2" stroke="#bcc4c4" stroke-width="2.1"/>
<circle cx="386.5" cy="134.4" r="3.8" fill="url(#gOT)"/>
<line x1="281.1" y1="90.5" x2="285.2" y2="76.1" stroke="#9488ea" stroke-width="2.1"/>
<line x1="403.8" y1="92.6" x2="404.5" y2="94.2" stroke="#e01010" stroke-width="2.0"/>
<line x1="316.4" y1="261.5" x2="308.5" y2="260.1" stroke="#bcc4c4" stroke-width="2.1"/>
<circle cx="402.4" cy="282.0" r="4.1" fill="url(#gO)"/>
<line x1="352.3" y1="53.0" x2="346.9" y2="54.6" stroke="#e01010" stroke-width="2.0"/>
<line x1="402.5" y1="303.2" x2="411.3" y2="304.9" stroke="#bcc4c4" stroke-width="2.1"/>
<circle cx="366.7" cy="89.6" r="2.5" fill="url(#gMn)"/>
<circle cx="316.9" cy="282.9" r="4.1" fill="url(#gO)"/>
<line x1="317.3" y1="304.1" x2="325.3" y2="305.9" stroke="#bcc4c4" stroke-width="2.1"/>
<circle cx="281.1" cy="90.5" r="2.5" fill="url(#gMn)"/>
<line x1="278.8" y1="8.4" x2="284.6" y2="8.4" stroke="#9488ea" stroke-width="2.1"/>
<line x1="432.2" y1="94.0" x2="442.3" y2="93.7" stroke="#d00808" stroke-width="2.1"/>
<line x1="277.3" y1="116.2" x2="275.4" y2="110.6" stroke="#e01010" stroke-width="2.0"/>
<line x1="427.8" y1="12.4" x2="432.4" y2="12.8" stroke="#e01010" stroke-width="2.0"/>
<line x1="411.0" y1="125.9" x2="414.4" y2="124.5" stroke="#e01010" stroke-width="2.0"/>
<circle cx="275.4" cy="110.6" r="3.8" fill="url(#gOT)"/>
<circle cx="384.4" cy="171.9" r="4.1" fill="url(#gO)"/>
<line x1="281.1" y1="90.5" x2="294.7" y2="93.7" stroke="#9488ea" stroke-width="2.1"/>
<circle cx="298.7" cy="172.8" r="4.1" fill="url(#gO)"/>
<line x1="402.2" y1="217.0" x2="406.0" y2="215.1" stroke="#bcc4c4" stroke-width="2.1"/>
<line x1="282.3" y1="130.6" x2="290.7" y2="127.2" stroke="#9488ea" stroke-width="2.1"/>
<line x1="363.5" y1="215.5" x2="358.8" y2="217.5" stroke="#e01010" stroke-width="2.0"/>
<line x1="366.7" y1="89.6" x2="362.4" y2="74.9" stroke="#9488ea" stroke-width="2.1"/>
<line x1="390.7" y1="133.1" x2="386.5" y2="134.4" stroke="#e01010" stroke-width="2.0"/>
<line x1="315.5" y1="218.0" x2="321.0" y2="216.0" stroke="#bcc4c4" stroke-width="2.1"/>
<line x1="366.7" y1="89.6" x2="366.2" y2="48.9" stroke="#9488ea" stroke-width="1.6"/>
<line x1="282.3" y1="130.6" x2="270.2" y2="134.5" stroke="#9488ea" stroke-width="2.1"/>
<line x1="278.5" y1="216.4" x2="272.1" y2="218.4" stroke="#e01010" stroke-width="2.0"/>
<circle cx="318.5" cy="44.9" r="3.8" fill="url(#gOT)"/>
<line x1="281.1" y1="90.5" x2="280.0" y2="49.8" stroke="#9488ea" stroke-width="1.6"/>
<circle cx="402.3" cy="260.5" r="2.8" fill="url(#gTi)"/>
<circle cx="359.4" cy="261.0" r="4.1" fill="url(#gO)"/>
<line x1="366.2" y1="48.9" x2="352.3" y2="53.0" stroke="#9488ea" stroke-width="2.1"/>
<circle cx="316.4" cy="261.5" r="2.8" fill="url(#gTi)"/>
<circle cx="328.5" cy="94.7" r="3.8" fill="url(#gOT)"/>
<circle cx="273.5" cy="261.9" r="4.1" fill="url(#gO)"/>
<line x1="402.5" y1="303.2" x2="398.6" y2="306.9" stroke="#bcc4c4" stroke-width="2.1"/>
<line x1="407.8" y1="12.4" x2="404.3" y2="12.8" stroke="#e01010" stroke-width="2.0"/>
<line x1="355.2" y1="307.4" x2="359.9" y2="303.7" stroke="#e01010" stroke-width="2.0"/>
<line x1="402.3" y1="260.5" x2="402.3" y2="249.7" stroke="#bcc4c4" stroke-width="2.1"/>
<line x1="317.3" y1="304.1" x2="311.8" y2="307.9" stroke="#bcc4c4" stroke-width="2.1"/>
<line x1="316.4" y1="261.5" x2="316.2" y2="250.7" stroke="#bcc4c4" stroke-width="2.1"/>
<circle cx="371.8" cy="28.8" r="3.8" fill="url(#gOT)"/>
<line x1="370.2" y1="34.5" x2="371.8" y2="28.8" stroke="#e01010" stroke-width="2.0"/>
<circle cx="432.4" cy="12.8" r="3.8" fill="url(#gOT)"/>
<line x1="294.7" y1="93.7" x2="300.1" y2="94.9" stroke="#e01010" stroke-width="2.0"/>
<circle cx="427.3" cy="149.4" r="3.2" fill="url(#gSr)"/>
<line x1="366.2" y1="48.9" x2="370.2" y2="34.5" stroke="#9488ea" stroke-width="2.1"/>
<circle cx="260.2" cy="14.5" r="3.8" fill="url(#gOT)"/>
<line x1="367.1" y1="129.7" x2="364.0" y2="133.6" stroke="#9488ea" stroke-width="2.1"/>
<circle cx="341.2" cy="150.3" r="3.2" fill="url(#gSr)"/>
<line x1="393.1" y1="172.3" x2="384.4" y2="171.9" stroke="#e01010" stroke-width="2.0"/>
<line x1="402.3" y1="249.7" x2="402.2" y2="238.9" stroke="#e01010" stroke-width="2.0"/>
<line x1="415.0" y1="45.4" x2="414.4" y2="43.1" stroke="#e01010" stroke-width="2.0"/>
<circle cx="255.0" cy="151.2" r="3.2" fill="url(#gSr)"/>
<line x1="306.5" y1="173.2" x2="298.7" y2="172.8" stroke="#e01010" stroke-width="2.0"/>
<line x1="316.2" y1="250.7" x2="316.0" y2="239.8" stroke="#e01010" stroke-width="2.0"/>
<circle cx="300.1" cy="94.9" r="3.8" fill="url(#gOT)"/>
<circle cx="366.2" cy="48.9" r="2.5" fill="url(#gMn)"/>
<line x1="402.2" y1="217.0" x2="393.4" y2="216.2" stroke="#bcc4c4" stroke-width="2.1"/>
<line x1="265.4" y1="12.8" x2="260.2" y2="14.5" stroke="#e01010" stroke-width="2.0"/>
<circle cx="280.0" cy="49.8" r="2.5" fill="url(#gMn)"/>
<line x1="315.5" y1="218.0" x2="307.5" y2="217.1" stroke="#bcc4c4" stroke-width="2.1"/>
<line x1="362.4" y1="74.9" x2="360.7" y2="69.1" stroke="#e01010" stroke-width="2.0"/>
<circle cx="402.2" cy="238.9" r="4.1" fill="url(#gO)"/>
<line x1="402.3" y1="260.5" x2="411.2" y2="261.8" stroke="#bcc4c4" stroke-width="2.1"/>
<circle cx="316.0" cy="239.8" r="4.1" fill="url(#gO)"/>
<line x1="324.2" y1="93.2" x2="328.5" y2="94.7" stroke="#e01010" stroke-width="2.0"/>
<line x1="316.4" y1="261.5" x2="324.5" y2="262.8" stroke="#bcc4c4" stroke-width="2.1"/>
<circle cx="404.3" cy="12.8" r="3.8" fill="url(#gOT)"/>
<line x1="411.3" y1="304.9" x2="420.3" y2="306.7" stroke="#e01010" stroke-width="2.0"/>
<line x1="316.7" y1="45.3" x2="318.5" y2="44.9" stroke="#e01010" stroke-width="2.0"/>
<line x1="325.3" y1="305.9" x2="333.5" y2="307.7" stroke="#e01010" stroke-width="2.0"/>
<circle cx="360.7" cy="69.1" r="3.8" fill="url(#gOT)"/>
<line x1="366.2" y1="48.9" x2="380.4" y2="51.9" stroke="#9488ea" stroke-width="2.1"/>
<line x1="366.7" y1="89.6" x2="377.2" y2="85.3" stroke="#9488ea" stroke-width="2.1"/>
<circle cx="430.7" cy="108.9" r="2.8" fill="url(#gTb)"/>
<line x1="366.2" y1="48.9" x2="365.8" y2="7.5" stroke="#9488ea" stroke-width="1.6"/>
<line x1="280.0" y1="49.8" x2="275.0" y2="34.6" stroke="#9488ea" stroke-width="2.1"/>
<line x1="303.5" y1="93.3" x2="300.1" y2="94.9" stroke="#e01010" stroke-width="2.0"/>
<line x1="402.0" y1="172.8" x2="405.9" y2="171.7" stroke="#bcc4c4" stroke-width="2.1"/>
<line x1="366.7" y1="89.6" x2="356.5" y2="85.4" stroke="#9488ea" stroke-width="2.1"/>
<line x1="280.0" y1="49.8" x2="278.8" y2="8.4" stroke="#9488ea" stroke-width="1.6"/>
<line x1="363.0" y1="172.1" x2="358.3" y2="173.2" stroke="#e01010" stroke-width="2.0"/>
<line x1="314.5" y1="173.7" x2="320.1" y2="172.6" stroke="#bcc4c4" stroke-width="2.1"/>
<line x1="277.2" y1="173.0" x2="270.8" y2="174.2" stroke="#e01010" stroke-width="2.0"/>
<line x1="278.8" y1="8.4" x2="265.4" y2="12.8" stroke="#9488ea" stroke-width="2.1"/>
<circle cx="402.2" cy="217.0" r="2.8" fill="url(#gTi)"/>
<circle cx="358.8" cy="217.5" r="4.1" fill="url(#gO)"/>
<circle cx="315.5" cy="218.0" r="2.8" fill="url(#gTi)"/>
<circle cx="272.1" cy="218.4" r="4.1" fill="url(#gO)"/>
<line x1="402.3" y1="260.5" x2="398.4" y2="263.4" stroke="#bcc4c4" stroke-width="2.1"/>
<line x1="354.6" y1="263.9" x2="359.4" y2="261.0" stroke="#e01010" stroke-width="2.0"/>
<line x1="402.2" y1="217.0" x2="402.1" y2="206.1" stroke="#bcc4c4" stroke-width="2.1"/>
<line x1="316.4" y1="261.5" x2="310.8" y2="264.4" stroke="#bcc4c4" stroke-width="2.1"/>
<circle cx="414.4" cy="43.1" r="3.8" fill="url(#gOT)"/>
<line x1="380.4" y1="51.9" x2="386.0" y2="53.1" stroke="#e01010" stroke-width="2.0"/>
<line x1="315.5" y1="218.0" x2="315.3" y2="207.0" stroke="#bcc4c4" stroke-width="2.1"/>
<circle cx="420.3" cy="306.7" r="4.1" fill="url(#gO)"/>
<circle cx="333.5" cy="307.7" r="4.1" fill="url(#gO)"/>
<line x1="313.6" y1="130.6" x2="318.4" y2="126.8" stroke="#9488ea" stroke-width="2.1"/>
<circle cx="386.0" cy="53.1" r="3.8" fill="url(#gOT)"/>
<line x1="403.5" y1="10.0" x2="404.3" y2="12.8" stroke="#e01010" stroke-width="2.0"/>
<circle cx="365.8" cy="7.5" r="2.5" fill="url(#gMn)"/>
<line x1="402.1" y1="206.1" x2="402.1" y2="195.0" stroke="#e01010" stroke-width="2.0"/>
<line x1="281.1" y1="90.5" x2="274.9" y2="85.9" stroke="#9488ea" stroke-width="2.2"/>
<circle cx="278.8" cy="8.4" r="2.5" fill="url(#gMn)"/>
<line x1="315.3" y1="207.0" x2="315.0" y2="195.9" stroke="#e01010" stroke-width="2.0"/>
<line x1="432.4" y1="12.8" x2="442.8" y2="11.5" stroke="#d00808" stroke-width="2.1"/>
<line x1="402.0" y1="172.8" x2="393.1" y2="172.3" stroke="#bcc4c4" stroke-width="2.1"/>
<line x1="275.0" y1="34.6" x2="273.0" y2="28.6" stroke="#e01010" stroke-width="2.0"/>
<line x1="314.5" y1="173.7" x2="306.5" y2="173.2" stroke="#bcc4c4" stroke-width="2.1"/>
<line x1="274.8" y1="304.6" x2="267.5" y2="308.9" stroke="#d00808" stroke-width="2.1"/>
<circle cx="402.1" cy="195.0" r="4.1" fill="url(#gO)"/>
<line x1="402.2" y1="217.0" x2="411.2" y2="217.9" stroke="#bcc4c4" stroke-width="2.1"/>
<circle cx="315.0" cy="195.9" r="4.1" fill="url(#gO)"/>
<line x1="315.5" y1="218.0" x2="323.6" y2="218.9" stroke="#bcc4c4" stroke-width="2.1"/>
<line x1="278.8" y1="8.4" x2="278.3" y2="-12.6" stroke="#9488ea" stroke-width="1.7"/>
<line x1="411.2" y1="261.8" x2="420.3" y2="263.2" stroke="#e01010" stroke-width="2.0"/>
<line x1="410.9" y1="43.8" x2="414.4" y2="43.1" stroke="#e01010" stroke-width="2.0"/>
<line x1="401.9" y1="129.7" x2="411.0" y2="125.9" stroke="#9488ea" stroke-width="2.1"/>
<circle cx="273.0" cy="28.6" r="3.8" fill="url(#gOT)"/>
<line x1="290.7" y1="127.2" x2="294.1" y2="125.8" stroke="#e01010" stroke-width="2.0"/>
<line x1="324.5" y1="262.8" x2="332.7" y2="264.2" stroke="#e01010" stroke-width="2.0"/>
<line x1="278.8" y1="8.4" x2="292.7" y2="11.1" stroke="#9488ea" stroke-width="2.1"/>
<line x1="401.9" y1="129.7" x2="390.7" y2="133.1" stroke="#9488ea" stroke-width="2.1"/>
<circle cx="376.7" cy="285.5" r="3.2" fill="url(#gSr)"/>
<circle cx="336.9" cy="109.8" r="2.8" fill="url(#gTb)"/>
<line x1="280.0" y1="49.8" x2="288.6" y2="44.4" stroke="#9488ea" stroke-width="2.2"/>
<circle cx="343.6" cy="68.8" r="2.8" fill="url(#gTb)"/>
<circle cx="289.5" cy="286.5" r="3.2" fill="url(#gSr)"/>
<line x1="341.8" y1="309.5" x2="333.5" y2="307.7" stroke="#e01010" stroke-width="2.0"/>
<line x1="390.3" y1="51.0" x2="386.0" y2="53.1" stroke="#e01010" stroke-width="2.0"/>
<line x1="280.0" y1="49.8" x2="267.7" y2="51.7" stroke="#9488ea" stroke-width="2.2"/>
<line x1="270.2" y1="134.5" x2="265.3" y2="136.0" stroke="#e01010" stroke-width="2.0"/>
<circle cx="402.0" cy="172.8" r="2.9" fill="url(#gNb)"/>
<line x1="401.8" y1="88.0" x2="403.8" y2="92.6" stroke="#9488ea" stroke-width="2.1"/>
<circle cx="358.3" cy="173.2" r="4.1" fill="url(#gO)"/>
<circle cx="314.5" cy="173.7" r="2.9" fill="url(#gNb)"/>
<circle cx="270.8" cy="174.2" r="4.1" fill="url(#gO)"/>
<line x1="402.2" y1="217.0" x2="398.2" y2="219.1" stroke="#bcc4c4" stroke-width="2.2"/>
<line x1="292.7" y1="11.1" x2="298.1" y2="12.2" stroke="#e01010" stroke-width="2.0"/>
<line x1="354.0" y1="219.6" x2="358.8" y2="217.5" stroke="#e01010" stroke-width="2.0"/>
<line x1="402.0" y1="172.8" x2="402.0" y2="161.6" stroke="#bcc4c4" stroke-width="2.1"/>
<line x1="315.5" y1="218.0" x2="309.8" y2="220.1" stroke="#bcc4c4" stroke-width="2.2"/>
<line x1="314.5" y1="173.7" x2="314.3" y2="162.5" stroke="#bcc4c4" stroke-width="2.1"/>
<circle cx="294.1" cy="125.8" r="3.8" fill="url(#gOT)"/>
<line x1="366.2" y1="48.9" x2="363.0" y2="50.2" stroke="#9488ea" stroke-width="2.2"/>
<circle cx="420.3" cy="263.2" r="4.1" fill="url(#gO)"/>
<circle cx="332.7" cy="264.2" r="4.1" fill="url(#gO)"/>
<circle cx="298.1" cy="12.2" r="3.8" fill="url(#gOT)"/>
<line x1="398.6" y1="306.9" x2="394.6" y2="310.9" stroke="#e01010" stroke-width="2.0"/>
<line x1="299.6" y1="127.2" x2="294.1" y2="125.8" stroke="#e01010" stroke-width="2.0"/>
<line x1="350.3" y1="311.4" x2="355.2" y2="307.4" stroke="#bcc4c4" stroke-width="2.1"/>
<line x1="311.8" y1="307.9" x2="306.0" y2="311.8" stroke="#e01010" stroke-width="2.0"/>
<circle cx="265.3" cy="136.0" r="3.8" fill="url(#gOT)"/>
<line x1="402.0" y1="161.6" x2="402.0" y2="150.3" stroke="#e01010" stroke-width="2.0"/>
<line x1="420.3" y1="306.7" x2="430.6" y2="308.7" stroke="#d00808" stroke-width="2.1"/>
<line x1="314.3" y1="162.5" x2="314.1" y2="151.2" stroke="#e01010" stroke-width="2.0"/>
<line x1="273.5" y1="261.9" x2="266.1" y2="265.2" stroke="#d00808" stroke-width="2.1"/>
<line x1="312.7" y1="88.9" x2="324.2" y2="93.2" stroke="#9488ea" stroke-width="2.1"/>
<circle cx="402.0" cy="150.3" r="4.1" fill="url(#gO)"/>
<line x1="377.2" y1="85.3" x2="381.4" y2="83.5" stroke="#e01010" stroke-width="2.0"/>
<line x1="402.0" y1="172.8" x2="411.1" y2="173.2" stroke="#bcc4c4" stroke-width="2.2"/>
<circle cx="314.1" cy="151.2" r="4.1" fill="url(#gO)"/>
<circle cx="424.2" cy="67.6" r="2.9" fill="url(#gTb)"/>
<line x1="314.5" y1="173.7" x2="322.7" y2="174.2" stroke="#bcc4c4" stroke-width="2.2"/>
<circle cx="430.9" cy="26.2" r="2.9" fill="url(#gTb)"/>
<line x1="411.2" y1="217.9" x2="420.3" y2="218.9" stroke="#e01010" stroke-width="2.0"/>
<line x1="312.7" y1="88.9" x2="303.5" y2="93.3" stroke="#9488ea" stroke-width="2.1"/>
<line x1="323.6" y1="218.9" x2="331.9" y2="219.8" stroke="#e01010" stroke-width="2.0"/>
<line x1="313.6" y1="130.6" x2="299.6" y2="127.2" stroke="#9488ea" stroke-width="2.1"/>
<circle cx="376.3" cy="241.6" r="3.2" fill="url(#gSr)"/>
<line x1="301.6" y1="9.8" x2="298.1" y2="12.2" stroke="#e01010" stroke-width="2.0"/>
<line x1="401.9" y1="129.7" x2="402.0" y2="150.3" stroke="#9488ea" stroke-width="1.7"/>
<circle cx="288.3" cy="242.6" r="3.2" fill="url(#gSr)"/>
<line x1="341.1" y1="265.5" x2="332.7" y2="264.2" stroke="#e01010" stroke-width="2.0"/>
<line x1="313.6" y1="130.6" x2="314.1" y2="151.2" stroke="#9488ea" stroke-width="1.7"/>
<circle cx="319.4" cy="109.9" r="3.8" fill="url(#gOT)"/>
<line x1="317.8" y1="115.7" x2="319.4" y2="109.9" stroke="#e01010" stroke-width="2.0"/>
<line x1="364.0" y1="133.6" x2="362.7" y2="135.2" stroke="#e01010" stroke-width="2.0"/>
<line x1="350.3" y1="311.4" x2="341.8" y2="309.5" stroke="#bcc4c4" stroke-width="2.1"/>
<line x1="356.5" y1="85.4" x2="352.4" y2="83.7" stroke="#e01010" stroke-width="2.0"/>
<line x1="313.6" y1="130.6" x2="317.8" y2="115.7" stroke="#9488ea" stroke-width="2.1"/>
<circle cx="401.9" cy="129.7" r="2.6" fill="url(#gMn)"/>
<circle cx="313.6" cy="130.6" r="2.6" fill="url(#gMn)"/>
<circle cx="381.4" cy="83.5" r="3.8" fill="url(#gOT)"/>
<line x1="311.8" y1="46.5" x2="316.7" y2="45.3" stroke="#9488ea" stroke-width="2.1"/>
<line x1="402.0" y1="172.8" x2="398.1" y2="173.9" stroke="#bcc4c4" stroke-width="2.2"/>
<line x1="353.4" y1="174.4" x2="358.3" y2="173.2" stroke="#e01010" stroke-width="2.1"/>
<line x1="314.5" y1="173.7" x2="308.7" y2="174.9" stroke="#bcc4c4" stroke-width="2.2"/>
<line x1="387.1" y1="84.8" x2="381.4" y2="83.5" stroke="#e01010" stroke-width="2.0"/>
<circle cx="420.3" cy="218.9" r="4.1" fill="url(#gO)"/>
<line x1="278.8" y1="8.4" x2="272.5" y2="0.9" stroke="#9488ea" stroke-width="2.2"/>
<circle cx="331.9" cy="219.8" r="4.1" fill="url(#gO)"/>
<line x1="398.4" y1="263.4" x2="394.4" y2="266.5" stroke="#e01010" stroke-width="2.0"/>
<line x1="349.6" y1="267.0" x2="354.6" y2="263.9" stroke="#bcc4c4" stroke-width="2.1"/>
<line x1="310.8" y1="264.4" x2="304.9" y2="267.5" stroke="#e01010" stroke-width="2.0"/>
<line x1="401.9" y1="129.7" x2="397.7" y2="114.8" stroke="#9488ea" stroke-width="2.2"/>
<line x1="313.6" y1="130.6" x2="327.7" y2="127.0" stroke="#9488ea" stroke-width="2.2"/>
<circle cx="394.6" cy="310.9" r="4.1" fill="url(#gO)"/>
<line x1="420.3" y1="263.2" x2="430.7" y2="264.7" stroke="#d00808" stroke-width="2.2"/>
<line x1="401.9" y1="129.7" x2="401.8" y2="88.0" stroke="#9488ea" stroke-width="1.7"/>
<circle cx="350.3" cy="311.4" r="2.9" fill="url(#gTi)"/>
<circle cx="352.4" cy="83.7" r="3.8" fill="url(#gOT)"/>
<circle cx="306.0" cy="311.8" r="4.1" fill="url(#gO)"/>
<line x1="313.6" y1="130.6" x2="312.7" y2="88.9" stroke="#9488ea" stroke-width="1.7"/>
<line x1="401.6" y1="45.6" x2="410.9" y2="43.8" stroke="#9488ea" stroke-width="2.1"/>
<line x1="288.6" y1="44.4" x2="292.0" y2="42.3" stroke="#e01010" stroke-width="2.0"/>
<circle cx="362.7" cy="135.2" r="3.8" fill="url(#gOT)"/>
<line x1="350.3" y1="311.4" x2="350.1" y2="300.3" stroke="#bcc4c4" stroke-width="2.2"/>
<line x1="272.1" y1="218.4" x2="264.7" y2="220.8" stroke="#d00808" stroke-width="2.2"/>
<line x1="401.6" y1="45.6" x2="390.3" y2="51.0" stroke="#9488ea" stroke-width="2.1"/>
<circle cx="335.5" cy="26.4" r="2.9" fill="url(#gTb)"/>
<line x1="401.8" y1="88.0" x2="387.1" y2="84.8" stroke="#9488ea" stroke-width="2.2"/>
<line x1="267.7" y1="51.7" x2="262.7" y2="52.5" stroke="#e01010" stroke-width="2.0"/>
<line x1="411.1" y1="173.2" x2="420.4" y2="173.7" stroke="#e01010" stroke-width="2.0"/>
<circle cx="407.4" cy="67.2" r="3.8" fill="url(#gOT)"/>
<line x1="405.8" y1="73.0" x2="407.4" y2="67.2" stroke="#e01010" stroke-width="2.0"/>
<line x1="322.7" y1="174.2" x2="331.1" y2="174.6" stroke="#e01010" stroke-width="2.0"/>
<circle cx="375.9" cy="196.9" r="3.3" fill="url(#gSr)"/>
<circle cx="287.0" cy="197.8" r="3.3" fill="url(#gSr)"/>
<line x1="340.3" y1="220.8" x2="331.9" y2="219.8" stroke="#e01010" stroke-width="2.1"/>
<line x1="350.1" y1="300.3" x2="350.0" y2="289.3" stroke="#e01010" stroke-width="2.0"/>
<line x1="401.8" y1="88.0" x2="405.8" y2="73.0" stroke="#9488ea" stroke-width="2.2"/>
<line x1="349.6" y1="267.0" x2="341.1" y2="265.5" stroke="#bcc4c4" stroke-width="2.2"/>
<line x1="401.5" y1="2.5" x2="403.5" y2="10.0" stroke="#9488ea" stroke-width="2.1"/>
<circle cx="401.8" cy="88.0" r="2.6" fill="url(#gMn)"/>
<circle cx="350.0" cy="289.3" r="4.1" fill="url(#gO)"/>
<line x1="327.7" y1="127.0" x2="333.3" y2="125.5" stroke="#e01010" stroke-width="2.1"/>
<line x1="350.3" y1="311.4" x2="358.9" y2="313.2" stroke="#bcc4c4" stroke-width="2.2"/>
<circle cx="312.7" cy="88.9" r="2.6" fill="url(#gMn)"/>
<line x1="274.9" y1="85.9" x2="272.4" y2="84.1" stroke="#e01010" stroke-width="2.0"/>
<line x1="397.7" y1="114.8" x2="396.1" y2="109.0" stroke="#e01010" stroke-width="2.1"/>
<circle cx="292.0" cy="42.3" r="3.9" fill="url(#gOT)"/>
<line x1="358.6" y1="134.0" x2="362.7" y2="135.2" stroke="#e01010" stroke-width="2.1"/>
<line x1="350.9" y1="84.7" x2="352.4" y2="83.7" stroke="#e01010" stroke-width="2.1"/>
<circle cx="333.3" cy="125.5" r="3.9" fill="url(#gOT)"/>
<line x1="297.5" y1="43.5" x2="292.0" y2="42.3" stroke="#e01010" stroke-width="2.1"/>
<circle cx="396.1" cy="109.0" r="3.9" fill="url(#gOT)"/>
<line x1="401.9" y1="129.7" x2="413.6" y2="133.5" stroke="#9488ea" stroke-width="2.2"/>
<circle cx="262.7" cy="52.5" r="3.9" fill="url(#gOT)"/>
<circle cx="420.4" cy="173.7" r="4.1" fill="url(#gO)"/>
<circle cx="331.1" cy="174.6" r="4.2" fill="url(#gO)"/>
<line x1="401.8" y1="88.0" x2="416.6" y2="84.0" stroke="#9488ea" stroke-width="2.2"/>
<line x1="398.2" y1="219.1" x2="394.1" y2="221.2" stroke="#e01010" stroke-width="2.0"/>
<line x1="349.0" y1="221.7" x2="354.0" y2="219.6" stroke="#bcc4c4" stroke-width="2.2"/>
<line x1="401.8" y1="88.0" x2="401.6" y2="45.6" stroke="#9488ea" stroke-width="1.7"/>
<line x1="309.8" y1="220.1" x2="303.8" y2="222.2" stroke="#e01010" stroke-width="2.0"/>
<line x1="312.7" y1="88.9" x2="307.8" y2="73.6" stroke="#9488ea" stroke-width="2.2"/>
<line x1="401.9" y1="129.7" x2="392.3" y2="126.4" stroke="#9488ea" stroke-width="2.2"/>
<line x1="312.7" y1="88.9" x2="311.8" y2="46.5" stroke="#9488ea" stroke-width="1.7"/>
<circle cx="394.4" cy="266.5" r="4.2" fill="url(#gO)"/>
<line x1="420.3" y1="218.9" x2="430.8" y2="219.9" stroke="#d00808" stroke-width="2.2"/>
<circle cx="349.6" cy="267.0" r="2.9" fill="url(#gTi)"/>
<circle cx="304.9" cy="267.5" r="4.2" fill="url(#gO)"/>
<line x1="390.4" y1="314.9" x2="394.6" y2="310.9" stroke="#e01010" stroke-width="2.1"/>
<line x1="310.9" y1="3.3" x2="301.6" y2="9.8" stroke="#9488ea" stroke-width="2.2"/>
<line x1="350.3" y1="311.4" x2="345.1" y2="315.4" stroke="#bcc4c4" stroke-width="2.2"/>
<line x1="349.6" y1="267.0" x2="349.5" y2="255.7" stroke="#bcc4c4" stroke-width="2.2"/>
<line x1="270.8" y1="174.2" x2="263.2" y2="175.5" stroke="#d00808" stroke-width="2.2"/>
<line x1="311.8" y1="46.5" x2="297.5" y2="43.5" stroke="#9488ea" stroke-width="2.2"/>
<line x1="337.2" y1="127.0" x2="333.3" y2="125.5" stroke="#e01010" stroke-width="2.1"/>
<circle cx="317.7" cy="25.6" r="3.9" fill="url(#gOT)"/>
<line x1="316.1" y1="31.4" x2="317.7" y2="25.6" stroke="#e01010" stroke-width="2.1"/>
<line x1="363.0" y1="50.2" x2="361.7" y2="50.8" stroke="#e01010" stroke-width="2.1"/>
<circle cx="272.4" cy="84.1" r="3.9" fill="url(#gOT)"/>
<circle cx="375.5" cy="151.2" r="3.3" fill="url(#gSr)"/>
<line x1="311.8" y1="46.5" x2="316.1" y2="31.4" stroke="#9488ea" stroke-width="2.2"/>
<line x1="265.3" y1="136.0" x2="257.6" y2="136.5" stroke="#d00808" stroke-width="2.2"/>
<circle cx="285.8" cy="152.2" r="3.3" fill="url(#gSr)"/>
<line x1="339.6" y1="175.1" x2="331.1" y2="174.6" stroke="#e01010" stroke-width="2.1"/>
<line x1="349.5" y1="255.7" x2="349.3" y2="244.5" stroke="#e01010" stroke-width="2.1"/>
<line x1="416.6" y1="84.0" x2="422.5" y2="82.5" stroke="#e01010" stroke-width="2.1"/>
<circle cx="401.6" cy="45.6" r="2.6" fill="url(#gMn)"/>
<line x1="313.6" y1="130.6" x2="308.4" y2="127.4" stroke="#9488ea" stroke-width="2.2"/>
<circle cx="311.8" cy="46.5" r="2.6" fill="url(#gMn)"/>
<line x1="349.0" y1="221.7" x2="340.3" y2="220.8" stroke="#bcc4c4" stroke-width="2.2"/>
<line x1="307.8" y1="73.6" x2="305.9" y2="67.5" stroke="#e01010" stroke-width="2.1"/>
<circle cx="349.3" cy="244.5" r="4.2" fill="url(#gO)"/>
<line x1="349.6" y1="267.0" x2="358.4" y2="268.4" stroke="#bcc4c4" stroke-width="2.2"/>
<circle cx="422.5" cy="82.5" r="3.9" fill="url(#gOT)"/>
<line x1="358.9" y1="313.2" x2="367.8" y2="315.2" stroke="#e01010" stroke-width="2.1"/>
<circle cx="305.9" cy="67.5" r="3.9" fill="url(#gOT)"/>
<line x1="312.7" y1="88.9" x2="322.5" y2="91.8" stroke="#9488ea" stroke-width="2.2"/>
<circle cx="378.8" cy="109.0" r="2.9" fill="url(#gTb)"/>
<line x1="401.6" y1="45.6" x2="397.4" y2="29.8" stroke="#9488ea" stroke-width="2.2"/>
<line x1="311.8" y1="46.5" x2="326.2" y2="42.2" stroke="#9488ea" stroke-width="2.2"/>
<line x1="401.6" y1="45.6" x2="401.5" y2="2.5" stroke="#9488ea" stroke-width="1.7"/>
<line x1="312.7" y1="88.9" x2="300.8" y2="92.0" stroke="#9488ea" stroke-width="2.2"/>
<line x1="311.8" y1="46.5" x2="310.9" y2="3.3" stroke="#9488ea" stroke-width="1.7"/>
<line x1="398.1" y1="173.9" x2="393.9" y2="175.1" stroke="#e01010" stroke-width="2.1"/>
<line x1="348.3" y1="175.6" x2="353.4" y2="174.4" stroke="#bcc4c4" stroke-width="2.2"/>
<circle cx="361.7" cy="50.8" r="3.9" fill="url(#gOT)"/>
<line x1="308.7" y1="174.9" x2="302.7" y2="176.1" stroke="#e01010" stroke-width="2.1"/>
<circle cx="394.1" cy="221.2" r="4.2" fill="url(#gO)"/>
<line x1="420.4" y1="173.7" x2="431.0" y2="174.2" stroke="#d00808" stroke-width="2.2"/>
<circle cx="349.0" cy="221.7" r="2.9" fill="url(#gTi)"/>
<circle cx="303.8" cy="222.2" r="4.2" fill="url(#gO)"/>
<line x1="390.1" y1="269.6" x2="394.4" y2="266.5" stroke="#e01010" stroke-width="2.1"/>
<line x1="349.6" y1="267.0" x2="344.4" y2="270.1" stroke="#bcc4c4" stroke-width="2.2"/>
<line x1="349.0" y1="221.7" x2="348.8" y2="210.3" stroke="#bcc4c4" stroke-width="2.2"/>
<circle cx="367.8" cy="315.2" r="4.2" fill="url(#gO)"/>
<line x1="401.8" y1="88.0" x2="399.7" y2="90.7" stroke="#9488ea" stroke-width="2.2"/>
<line x1="326.2" y1="42.2" x2="331.8" y2="40.4" stroke="#e01010" stroke-width="2.1"/>
<line x1="348.8" y1="210.3" x2="348.6" y2="198.8" stroke="#e01010" stroke-width="2.1"/>
<line x1="397.4" y1="29.8" x2="395.7" y2="23.6" stroke="#e01010" stroke-width="2.1"/>
<line x1="413.6" y1="133.5" x2="418.3" y2="135.0" stroke="#e01010" stroke-width="2.1"/>
<line x1="357.6" y1="48.6" x2="361.7" y2="50.8" stroke="#e01010" stroke-width="2.1"/>
<line x1="348.3" y1="175.6" x2="339.6" y2="175.1" stroke="#bcc4c4" stroke-width="2.2"/>
<line x1="306.0" y1="311.8" x2="299.2" y2="316.4" stroke="#d00808" stroke-width="2.2"/>
<circle cx="331.8" cy="40.4" r="3.9" fill="url(#gOT)"/>
<circle cx="348.6" cy="198.8" r="4.2" fill="url(#gO)"/>
<line x1="349.0" y1="221.7" x2="357.8" y2="222.7" stroke="#bcc4c4" stroke-width="2.2"/>
<circle cx="395.7" cy="23.6" r="3.9" fill="url(#gOT)"/>
<line x1="347.7" y1="130.7" x2="358.6" y2="134.0" stroke="#9488ea" stroke-width="2.2"/>
<line x1="401.6" y1="45.6" x2="413.6" y2="47.5" stroke="#9488ea" stroke-width="2.2"/>
<line x1="358.4" y1="268.4" x2="367.3" y2="269.9" stroke="#e01010" stroke-width="2.1"/>
<circle cx="413.0" cy="292.1" r="3.3" fill="url(#gSr)"/>
<circle cx="322.1" cy="293.2" r="3.3" fill="url(#gSr)"/>
<line x1="376.8" y1="317.2" x2="367.8" y2="315.2" stroke="#e01010" stroke-width="2.1"/>
<circle cx="280.6" cy="110.0" r="2.9" fill="url(#gTb)"/>
<line x1="422.5" y1="82.5" x2="433.2" y2="81.9" stroke="#d00808" stroke-width="2.2"/>
<circle cx="287.5" cy="67.2" r="2.9" fill="url(#gTb)"/>
<line x1="347.7" y1="130.7" x2="337.2" y2="127.0" stroke="#9488ea" stroke-width="2.2"/>
<line x1="401.6" y1="45.6" x2="391.9" y2="40.0" stroke="#9488ea" stroke-width="2.2"/>
<circle cx="418.3" cy="135.0" r="3.9" fill="url(#gOT)"/>
<line x1="392.3" y1="126.4" x2="388.4" y2="125.1" stroke="#e01010" stroke-width="2.1"/>
<line x1="335.8" y1="41.1" x2="331.8" y2="40.4" stroke="#e01010" stroke-width="2.1"/>
<circle cx="393.9" cy="175.1" r="4.2" fill="url(#gO)"/>
<circle cx="348.3" cy="175.6" r="2.9" fill="url(#gTi)"/>
<circle cx="302.7" cy="176.1" r="4.2" fill="url(#gO)"/>
<line x1="389.9" y1="223.5" x2="394.1" y2="221.2" stroke="#e01010" stroke-width="2.1"/>
<line x1="349.0" y1="221.7" x2="343.7" y2="224.0" stroke="#bcc4c4" stroke-width="2.2"/>
<line x1="347.0" y1="87.3" x2="350.9" y2="84.7" stroke="#9488ea" stroke-width="2.2"/>
<line x1="348.3" y1="175.6" x2="348.1" y2="163.9" stroke="#bcc4c4" stroke-width="2.2"/>
<line x1="262.7" y1="52.5" x2="254.8" y2="51.0" stroke="#d00808" stroke-width="2.2"/>
<circle cx="367.3" cy="269.9" r="4.2" fill="url(#gO)"/>
<line x1="386.0" y1="319.2" x2="390.4" y2="314.9" stroke="#bcc4c4" stroke-width="2.2"/>
<line x1="311.8" y1="46.5" x2="306.4" y2="40.1" stroke="#9488ea" stroke-width="2.2"/>
<line x1="345.1" y1="315.4" x2="339.8" y2="319.7" stroke="#e01010" stroke-width="2.1"/>
<line x1="322.5" y1="91.8" x2="326.5" y2="93.0" stroke="#e01010" stroke-width="2.1"/>
<line x1="348.1" y1="163.9" x2="348.0" y2="152.2" stroke="#e01010" stroke-width="2.1"/>
<circle cx="388.4" cy="125.1" r="3.9" fill="url(#gOT)"/>
<line x1="304.9" y1="267.5" x2="298.0" y2="271.0" stroke="#d00808" stroke-width="2.2"/>
<circle cx="348.0" cy="152.2" r="4.2" fill="url(#gO)"/>
<line x1="348.3" y1="175.6" x2="357.2" y2="176.1" stroke="#bcc4c4" stroke-width="2.2"/>
<circle cx="371.1" cy="65.9" r="2.9" fill="url(#gTb)"/>
<circle cx="378.1" cy="22.7" r="2.9" fill="url(#gTb)"/>
<line x1="357.8" y1="222.7" x2="366.8" y2="223.7" stroke="#e01010" stroke-width="2.1"/>
<line x1="300.8" y1="92.0" x2="296.0" y2="93.2" stroke="#e01010" stroke-width="2.1"/>
<circle cx="412.9" cy="246.4" r="3.3" fill="url(#gSr)"/>
<line x1="272.4" y1="84.1" x2="264.7" y2="83.3" stroke="#d00808" stroke-width="2.2"/>
<circle cx="321.1" cy="247.4" r="3.3" fill="url(#gSr)"/>
<line x1="376.4" y1="271.4" x2="367.3" y2="269.9" stroke="#e01010" stroke-width="2.1"/>
<line x1="347.7" y1="130.7" x2="348.0" y2="152.2" stroke="#9488ea" stroke-width="1.7"/>
<line x1="386.0" y1="319.2" x2="376.8" y2="317.2" stroke="#bcc4c4" stroke-width="2.2"/>
<circle cx="326.5" cy="93.0" r="3.9" fill="url(#gOT)"/>
<line x1="332.2" y1="91.4" x2="326.5" y2="93.0" stroke="#e01010" stroke-width="2.1"/>
<circle cx="347.7" cy="130.7" r="2.6" fill="url(#gMn)"/>
<line x1="308.4" y1="127.4" x2="306.2" y2="126.0" stroke="#e01010" stroke-width="2.1"/>
<line x1="418.3" y1="135.0" x2="429.1" y2="135.1" stroke="#d00808" stroke-width="2.2"/>
<line x1="389.6" y1="176.4" x2="393.9" y2="175.1" stroke="#e01010" stroke-width="2.1"/>
<line x1="348.3" y1="175.6" x2="343.0" y2="176.9" stroke="#bcc4c4" stroke-width="2.2"/>
<line x1="387.4" y1="126.7" x2="388.4" y2="125.1" stroke="#e01010" stroke-width="2.1"/>
<circle cx="296.0" cy="93.2" r="3.9" fill="url(#gOT)"/>
<circle cx="366.8" cy="223.7" r="4.2" fill="url(#gO)"/>
<line x1="413.6" y1="47.5" x2="418.4" y2="48.3" stroke="#e01010" stroke-width="2.1"/>
<line x1="385.7" y1="273.0" x2="390.1" y2="269.6" stroke="#bcc4c4" stroke-width="2.2"/>
<line x1="344.4" y1="270.1" x2="339.0" y2="273.5" stroke="#e01010" stroke-width="2.1"/>
<circle cx="386.0" cy="319.2" r="2.9" fill="url(#gTi)"/>
<line x1="347.7" y1="130.7" x2="342.9" y2="115.2" stroke="#9488ea" stroke-width="2.2"/>
<circle cx="339.8" cy="319.7" r="4.2" fill="url(#gO)"/>
<line x1="346.4" y1="43.0" x2="357.6" y2="48.6" stroke="#9488ea" stroke-width="2.2"/>
<line x1="347.7" y1="130.7" x2="347.0" y2="87.3" stroke="#9488ea" stroke-width="1.7"/>
<line x1="386.0" y1="319.2" x2="385.9" y2="307.7" stroke="#bcc4c4" stroke-width="2.2"/>
<line x1="303.8" y1="222.2" x2="296.8" y2="224.7" stroke="#d00808" stroke-width="2.2"/>
<line x1="347.0" y1="87.3" x2="332.2" y2="91.4" stroke="#9488ea" stroke-width="2.2"/>
<circle cx="278.1" cy="22.9" r="2.9" fill="url(#gTb)"/>
<line x1="346.4" y1="43.0" x2="335.8" y2="41.1" stroke="#9488ea" stroke-width="2.2"/>
<line x1="357.2" y1="176.1" x2="366.3" y2="176.6" stroke="#e01010" stroke-width="2.1"/>
<circle cx="353.1" cy="65.5" r="3.9" fill="url(#gOT)"/>
<line x1="351.4" y1="71.6" x2="353.1" y2="65.5" stroke="#e01010" stroke-width="2.1"/>
<line x1="399.7" y1="90.7" x2="398.8" y2="91.8" stroke="#e01010" stroke-width="2.1"/>
<circle cx="412.9" cy="199.8" r="3.3" fill="url(#gSr)"/>
<circle cx="418.4" cy="48.3" r="3.9" fill="url(#gOT)"/>
<line x1="391.9" y1="40.0" x2="387.9" y2="37.7" stroke="#e01010" stroke-width="2.1"/>
<circle cx="320.2" cy="200.8" r="3.3" fill="url(#gSr)"/>
<line x1="376.0" y1="224.7" x2="366.8" y2="223.7" stroke="#e01010" stroke-width="2.1"/>
<circle cx="306.2" cy="126.0" r="3.9" fill="url(#gOT)"/>
<line x1="385.9" y1="307.7" x2="385.9" y2="296.2" stroke="#e01010" stroke-width="2.1"/>
<line x1="347.0" y1="87.3" x2="351.4" y2="71.6" stroke="#9488ea" stroke-width="2.2"/>
<line x1="385.7" y1="273.0" x2="376.4" y2="271.4" stroke="#bcc4c4" stroke-width="2.2"/>
<circle cx="385.9" cy="296.2" r="4.2" fill="url(#gO)"/>
<line x1="386.0" y1="319.2" x2="395.4" y2="321.2" stroke="#bcc4c4" stroke-width="2.2"/>
<circle cx="347.0" cy="87.3" r="2.6" fill="url(#gMn)"/>
<line x1="342.9" y1="115.2" x2="341.0" y2="109.1" stroke="#e01010" stroke-width="2.1"/>
<circle cx="341.0" cy="109.1" r="3.9" fill="url(#gOT)"/>
<line x1="347.0" y1="87.3" x2="362.2" y2="90.7" stroke="#9488ea" stroke-width="2.2"/>
<circle cx="366.3" cy="176.6" r="4.2" fill="url(#gO)"/>
<line x1="347.7" y1="130.7" x2="358.5" y2="127.1" stroke="#9488ea" stroke-width="2.2"/>
<line x1="385.4" y1="225.8" x2="389.9" y2="223.5" stroke="#bcc4c4" stroke-width="2.2"/>
<line x1="347.7" y1="130.7" x2="336.3" y2="135.0" stroke="#9488ea" stroke-width="2.2"/>
<line x1="343.7" y1="224.0" x2="338.2" y2="226.3" stroke="#e01010" stroke-width="2.1"/>
<circle cx="387.9" cy="37.7" r="3.9" fill="url(#gOT)"/>
<line x1="347.0" y1="87.3" x2="346.4" y2="43.0" stroke="#9488ea" stroke-width="1.7"/>
<circle cx="385.7" cy="273.0" r="3.0" fill="url(#gNb)"/>
<circle cx="398.8" cy="91.8" r="3.9" fill="url(#gOT)"/>
<circle cx="339.0" cy="273.5" r="4.2" fill="url(#gO)"/>
<line x1="386.0" y1="319.2" x2="381.5" y2="323.6" stroke="#bcc4c4" stroke-width="2.2"/>
<line x1="385.7" y1="273.0" x2="385.6" y2="261.3" stroke="#bcc4c4" stroke-width="2.2"/>
<line x1="302.7" y1="176.1" x2="295.6" y2="177.5" stroke="#d00808" stroke-width="2.2"/>
<line x1="362.2" y1="90.7" x2="368.2" y2="92.0" stroke="#e01010" stroke-width="2.1"/>
<circle cx="324.8" cy="4.6" r="3.9" fill="url(#gOT)"/>
<circle cx="412.8" cy="152.2" r="3.3" fill="url(#gSr)"/>
<circle cx="319.2" cy="153.2" r="3.3" fill="url(#gSr)"/>
<line x1="375.6" y1="177.1" x2="366.3" y2="176.6" stroke="#e01010" stroke-width="2.1"/>
<line x1="385.6" y1="261.3" x2="385.5" y2="249.5" stroke="#e01010" stroke-width="2.1"/>
<circle cx="368.2" cy="92.0" r="3.9" fill="url(#gOT)"/>
<circle cx="346.4" cy="43.0" r="2.6" fill="url(#gMn)"/>
<line x1="385.4" y1="225.8" x2="376.0" y2="224.7" stroke="#bcc4c4" stroke-width="2.2"/>
<line x1="306.4" y1="40.1" x2="304.2" y2="37.5" stroke="#e01010" stroke-width="2.1"/>
<circle cx="385.5" cy="249.5" r="4.2" fill="url(#gO)"/>
<line x1="394.9" y1="90.1" x2="398.8" y2="91.8" stroke="#e01010" stroke-width="2.1"/>
<line x1="385.7" y1="273.0" x2="395.2" y2="274.5" stroke="#bcc4c4" stroke-width="2.2"/>
<line x1="418.4" y1="48.3" x2="429.4" y2="47.3" stroke="#d00808" stroke-width="2.2"/>
<line x1="386.9" y1="38.1" x2="387.9" y2="37.7" stroke="#e01010" stroke-width="2.1"/>
<line x1="395.4" y1="321.2" x2="405.1" y2="323.3" stroke="#e01010" stroke-width="2.1"/>
<circle cx="293.8" cy="4.5" r="3.9" fill="url(#gOT)"/>
<circle cx="322.3" cy="109.2" r="2.9" fill="url(#gTb)"/>
<line x1="346.4" y1="43.0" x2="341.5" y2="26.4" stroke="#9488ea" stroke-width="2.2"/>
<line x1="372.6" y1="90.2" x2="368.2" y2="92.0" stroke="#e01010" stroke-width="2.1"/>
<line x1="346.4" y1="43.0" x2="345.8" y2="-2.1" stroke="#9488ea" stroke-width="1.7"/>
<line x1="385.1" y1="177.7" x2="389.6" y2="176.4" stroke="#bcc4c4" stroke-width="2.2"/>
<line x1="343.0" y1="176.9" x2="337.4" y2="178.2" stroke="#e01010" stroke-width="2.1"/>
<circle cx="385.4" cy="225.8" r="2.9" fill="url(#gTi)"/>
<circle cx="338.2" cy="226.3" r="4.2" fill="url(#gO)"/>
<line x1="385.7" y1="273.0" x2="381.1" y2="276.4" stroke="#bcc4c4" stroke-width="2.2"/>
<line x1="385.4" y1="225.8" x2="385.3" y2="213.9" stroke="#bcc4c4" stroke-width="2.2"/>
<circle cx="405.1" cy="323.3" r="4.2" fill="url(#gO)"/>
<circle cx="304.2" cy="37.5" r="3.9" fill="url(#gOT)"/>
<line x1="384.7" y1="130.9" x2="387.4" y2="126.7" stroke="#9488ea" stroke-width="2.2"/>
<line x1="296.0" y1="93.2" x2="288.7" y2="92.6" stroke="#d00808" stroke-width="2.2"/>
<line x1="347.0" y1="87.3" x2="342.8" y2="82.2" stroke="#9488ea" stroke-width="2.2"/>
<line x1="385.3" y1="213.9" x2="385.2" y2="201.9" stroke="#e01010" stroke-width="2.1"/>
<line x1="341.5" y1="26.4" x2="339.6" y2="19.9" stroke="#e01010" stroke-width="2.1"/>
<line x1="385.1" y1="177.7" x2="375.6" y2="177.1" stroke="#bcc4c4" stroke-width="2.2"/>
<line x1="339.8" y1="319.7" x2="333.5" y2="324.7" stroke="#d00808" stroke-width="2.2"/>
<circle cx="385.2" cy="201.9" r="4.2" fill="url(#gO)"/>
<line x1="385.4" y1="225.8" x2="395.0" y2="226.9" stroke="#bcc4c4" stroke-width="2.2"/>
<circle cx="339.6" cy="19.9" r="3.9" fill="url(#gOT)"/>
<line x1="358.5" y1="127.1" x2="362.9" y2="125.6" stroke="#e01010" stroke-width="2.1"/>
<line x1="395.2" y1="274.5" x2="404.9" y2="276.1" stroke="#e01010" stroke-width="2.1"/>
<circle cx="409.2" cy="108.2" r="2.9" fill="url(#gTb)"/>
<line x1="346.4" y1="43.0" x2="357.4" y2="37.0" stroke="#9488ea" stroke-width="2.2"/>
<circle cx="416.4" cy="63.6" r="2.9" fill="url(#gTb)"/>
<circle cx="357.5" cy="300.4" r="3.3" fill="url(#gSr)"/>
<line x1="346.4" y1="43.0" x2="334.8" y2="44.9" stroke="#9488ea" stroke-width="2.2"/>
<line x1="336.3" y1="135.0" x2="331.7" y2="136.7" stroke="#e01010" stroke-width="2.1"/>
<line x1="306.2" y1="126.0" x2="299.1" y2="126.2" stroke="#d00808" stroke-width="2.2"/>
<circle cx="385.1" cy="177.7" r="2.9" fill="url(#gTi)"/>
<circle cx="337.4" cy="178.2" r="4.2" fill="url(#gO)"/>
<line x1="385.4" y1="225.8" x2="380.7" y2="228.2" stroke="#bcc4c4" stroke-width="2.2"/>
<line x1="385.1" y1="177.7" x2="385.0" y2="165.5" stroke="#bcc4c4" stroke-width="2.2"/>
<circle cx="362.9" cy="125.6" r="3.9" fill="url(#gOT)"/>
<circle cx="404.9" cy="276.1" r="4.2" fill="url(#gO)"/>
<line x1="369.0" y1="127.1" x2="362.9" y2="125.6" stroke="#e01010" stroke-width="2.1"/>
<line x1="381.5" y1="323.6" x2="376.7" y2="328.2" stroke="#e01010" stroke-width="2.1"/>
<circle cx="331.7" cy="136.7" r="3.9" fill="url(#gOT)"/>
<line x1="385.0" y1="165.5" x2="384.9" y2="153.3" stroke="#e01010" stroke-width="2.1"/>
<line x1="405.1" y1="323.3" x2="416.1" y2="325.8" stroke="#d00808" stroke-width="2.2"/>
<line x1="339.0" y1="273.5" x2="332.7" y2="277.4" stroke="#d00808" stroke-width="2.2"/>
<line x1="384.4" y1="85.4" x2="394.9" y2="90.1" stroke="#9488ea" stroke-width="2.2"/>
<circle cx="384.9" cy="153.3" r="4.3" fill="url(#gO)"/>
<line x1="385.1" y1="177.7" x2="394.8" y2="178.2" stroke="#bcc4c4" stroke-width="2.2"/>
<line x1="384.4" y1="85.4" x2="372.6" y2="90.2" stroke="#9488ea" stroke-width="2.2"/>
<line x1="395.0" y1="226.9" x2="404.8" y2="228.0" stroke="#e01010" stroke-width="2.1"/>
<circle cx="313.3" cy="64.1" r="2.9" fill="url(#gTb)"/>
<line x1="384.7" y1="130.9" x2="369.0" y2="127.1" stroke="#9488ea" stroke-width="2.2"/>
<circle cx="320.6" cy="19.0" r="2.9" fill="url(#gTb)"/>
<circle cx="356.9" cy="252.7" r="3.3" fill="url(#gSr)"/>
<line x1="384.7" y1="130.9" x2="384.9" y2="153.3" stroke="#9488ea" stroke-width="1.7"/>
<circle cx="390.9" cy="108.3" r="4.0" fill="url(#gOT)"/>
<line x1="389.2" y1="114.6" x2="390.9" y2="108.3" stroke="#e01010" stroke-width="2.1"/>
<line x1="384.7" y1="130.9" x2="389.2" y2="114.6" stroke="#9488ea" stroke-width="2.2"/>
<circle cx="384.7" cy="130.9" r="2.6" fill="url(#gMn)"/>
<line x1="384.1" y1="39.1" x2="386.9" y2="38.1" stroke="#9488ea" stroke-width="2.2"/>
<line x1="385.1" y1="177.7" x2="380.3" y2="179.1" stroke="#bcc4c4" stroke-width="2.3"/>
<circle cx="404.8" cy="228.0" r="4.3" fill="url(#gO)"/>
<line x1="381.1" y1="276.4" x2="376.3" y2="280.0" stroke="#e01010" stroke-width="2.1"/>
<line x1="384.7" y1="130.9" x2="400.7" y2="126.8" stroke="#9488ea" stroke-width="2.3"/>
<circle cx="376.7" cy="328.2" r="4.3" fill="url(#gO)"/>
<line x1="404.9" y1="276.1" x2="416.1" y2="278.0" stroke="#d00808" stroke-width="2.2"/>
<line x1="384.7" y1="130.9" x2="384.4" y2="85.4" stroke="#9488ea" stroke-width="1.7"/>
<line x1="357.4" y1="37.0" x2="361.9" y2="34.6" stroke="#e01010" stroke-width="2.1"/>
<line x1="338.2" y1="226.3" x2="331.8" y2="229.1" stroke="#d00808" stroke-width="2.3"/>
<circle cx="409.0" cy="17.2" r="2.9" fill="url(#gTb)"/>
<line x1="334.8" y1="44.9" x2="330.1" y2="45.7" stroke="#e01010" stroke-width="2.1"/>
<line x1="304.2" y1="37.5" x2="296.9" y2="35.5" stroke="#d00808" stroke-width="2.3"/>
<line x1="394.8" y1="178.2" x2="404.7" y2="178.8" stroke="#e01010" stroke-width="2.1"/>
<circle cx="356.3" cy="204.0" r="3.4" fill="url(#gSr)"/>
<line x1="400.7" y1="126.8" x2="406.9" y2="125.3" stroke="#e01010" stroke-width="2.1"/>
<circle cx="384.4" cy="85.4" r="2.6" fill="url(#gMn)"/>
<line x1="342.8" y1="82.2" x2="341.0" y2="80.1" stroke="#e01010" stroke-width="2.1"/>
<circle cx="361.9" cy="34.6" r="4.0" fill="url(#gOT)"/>
<circle cx="406.9" cy="125.3" r="4.0" fill="url(#gOT)"/>
<line x1="368.1" y1="35.8" x2="361.9" y2="34.6" stroke="#e01010" stroke-width="2.1"/>
<circle cx="330.1" cy="45.7" r="4.0" fill="url(#gOT)"/>
<circle cx="404.7" cy="178.8" r="4.3" fill="url(#gO)"/>
<line x1="380.7" y1="228.2" x2="375.8" y2="230.8" stroke="#e01010" stroke-width="2.1"/>
<line x1="384.4" y1="85.4" x2="379.7" y2="68.6" stroke="#9488ea" stroke-width="2.3"/>
<line x1="384.4" y1="85.4" x2="384.1" y2="39.1" stroke="#9488ea" stroke-width="1.7"/>
<circle cx="376.3" cy="280.0" r="4.3" fill="url(#gO)"/>
<line x1="404.8" y1="228.0" x2="416.1" y2="229.2" stroke="#d00808" stroke-width="2.3"/>
<line x1="337.4" y1="178.2" x2="330.9" y2="179.7" stroke="#d00808" stroke-width="2.3"/>
<line x1="384.1" y1="39.1" x2="368.1" y2="35.8" stroke="#9488ea" stroke-width="2.3"/>
<circle cx="390.4" cy="16.3" r="4.0" fill="url(#gOT)"/>
<line x1="388.6" y1="22.7" x2="390.4" y2="16.3" stroke="#e01010" stroke-width="2.2"/>
<circle cx="341.0" cy="80.1" r="4.0" fill="url(#gOT)"/>
<line x1="384.1" y1="39.1" x2="388.6" y2="22.7" stroke="#9488ea" stroke-width="2.3"/>
<line x1="331.7" y1="136.7" x2="325.0" y2="137.2" stroke="#d00808" stroke-width="2.3"/>
<circle cx="355.7" cy="154.3" r="3.4" fill="url(#gSr)"/>
<line x1="384.7" y1="130.9" x2="381.8" y2="127.3" stroke="#9488ea" stroke-width="2.3"/>
<circle cx="384.1" cy="39.1" r="2.7" fill="url(#gMn)"/>
<line x1="379.7" y1="68.6" x2="377.8" y2="62.0" stroke="#e01010" stroke-width="2.2"/>
<circle cx="377.8" cy="62.0" r="4.0" fill="url(#gOT)"/>
<line x1="384.4" y1="85.4" x2="396.9" y2="88.5" stroke="#9488ea" stroke-width="2.3"/>
<line x1="384.1" y1="39.1" x2="400.4" y2="34.3" stroke="#9488ea" stroke-width="2.3"/>
<line x1="384.4" y1="85.4" x2="373.4" y2="88.6" stroke="#9488ea" stroke-width="2.3"/>
<line x1="384.1" y1="39.1" x2="383.8" y2="-8.1" stroke="#9488ea" stroke-width="1.8"/>
<line x1="406.9" y1="125.3" x2="418.3" y2="125.2" stroke="#d00808" stroke-width="2.3"/>
<line x1="380.3" y1="179.1" x2="375.4" y2="180.5" stroke="#e01010" stroke-width="2.1"/>
<circle cx="375.8" cy="230.8" r="4.3" fill="url(#gO)"/>
<line x1="404.7" y1="178.8" x2="416.0" y2="179.4" stroke="#d00808" stroke-width="2.3"/>
<line x1="400.4" y1="34.3" x2="406.7" y2="32.4" stroke="#e01010" stroke-width="2.2"/>
<line x1="376.7" y1="328.2" x2="371.1" y2="333.7" stroke="#d00808" stroke-width="2.3"/>
<circle cx="406.7" cy="32.4" r="4.0" fill="url(#gOT)"/>
<circle cx="396.3" cy="308.3" r="3.4" fill="url(#gSr)"/>
<circle cx="351.0" cy="108.3" r="3.0" fill="url(#gTb)"/>
<circle cx="358.6" cy="61.6" r="3.0" fill="url(#gTb)"/>
<circle cx="375.4" cy="180.5" r="4.3" fill="url(#gO)"/>
<line x1="330.1" y1="45.7" x2="323.2" y2="43.8" stroke="#d00808" stroke-width="2.3"/>
<line x1="384.1" y1="39.1" x2="381.1" y2="31.8" stroke="#9488ea" stroke-width="2.3"/>
<line x1="396.9" y1="88.5" x2="402.0" y2="89.7" stroke="#e01010" stroke-width="2.2"/>
<line x1="376.3" y1="280.0" x2="370.6" y2="284.3" stroke="#d00808" stroke-width="2.3"/>
<line x1="373.4" y1="88.6" x2="369.0" y2="89.9" stroke="#e01010" stroke-width="2.2"/>
<line x1="341.0" y1="80.1" x2="334.4" y2="79.1" stroke="#d00808" stroke-width="2.3"/>
<line x1="406.7" y1="32.4" x2="418.3" y2="31.1" stroke="#d00808" stroke-width="2.3"/>
<circle cx="396.1" cy="258.5" r="3.4" fill="url(#gSr)"/>
<circle cx="402.0" cy="89.7" r="4.0" fill="url(#gOT)"/>
<line x1="381.8" y1="127.3" x2="380.6" y2="125.8" stroke="#e01010" stroke-width="2.2"/>
<circle cx="369.0" cy="89.9" r="4.0" fill="url(#gOT)"/>
<line x1="375.8" y1="230.8" x2="370.1" y2="233.8" stroke="#d00808" stroke-width="2.3"/>
<circle cx="349.7" cy="13.0" r="3.0" fill="url(#gTb)"/>
<circle cx="395.8" cy="207.6" r="3.4" fill="url(#gSr)"/>
<circle cx="380.6" cy="125.8" r="4.0" fill="url(#gOT)"/>
<line x1="402.0" y1="89.7" x2="413.7" y2="89.2" stroke="#d00808" stroke-width="2.3"/>
<line x1="375.4" y1="180.5" x2="369.6" y2="182.2" stroke="#d00808" stroke-width="2.3"/>
<circle cx="395.6" cy="155.6" r="3.4" fill="url(#gSr)"/>
<line x1="381.1" y1="31.8" x2="379.8" y2="28.8" stroke="#e01010" stroke-width="2.2"/>
<circle cx="399.4" cy="107.3" r="3.0" fill="url(#gTb)"/>
<circle cx="379.8" cy="28.8" r="4.1" fill="url(#gOT)"/>
<line x1="369.0" y1="89.9" x2="362.9" y2="89.2" stroke="#d00808" stroke-width="2.3"/>
<line x1="380.6" y1="125.8" x2="374.8" y2="126.0" stroke="#d00808" stroke-width="2.3"/>
<circle cx="391.0" cy="57.8" r="3.0" fill="url(#gTb)"/>
<circle cx="399.1" cy="8.4" r="3.0" fill="url(#gTb)"/>
<line x1="379.8" y1="28.8" x2="373.9" y2="26.4" stroke="#d00808" stroke-width="2.4"/></g>
<polygon points="21.5,97.0 22.0,96.7 22.5,96.9 23.0,97.5 23.5,97.5 24.0,96.8 24.5,97.9 25.0,96.9 25.5,95.0 26.0,97.4 26.5,97.6 27.0,97.7 27.5,97.8 28.0,97.6 28.5,97.5 29.0,97.5 29.5,97.0 30.0,97.2 30.5,97.6 31.0,97.4 31.5,98.5 32.0,98.8 32.5,98.4 33.0,99.3 33.5,99.5 34.0,99.1 34.5,99.6 35.0,99.5 35.5,100.3 36.0,100.8 36.5,101.3 37.0,102.0 37.5,102.7 38.0,103.0 38.5,102.4 39.0,103.0 39.5,102.8 40.0,103.2 40.5,102.2 41.0,103.0 41.5,102.9 42.0,102.1 42.5,102.6 43.0,101.3 43.5,102.4 44.0,102.3 44.5,103.1 45.0,102.6 45.5,102.6 46.0,102.1 46.5,102.7 47.0,102.5 47.5,103.1 48.0,102.7 48.5,102.8 49.0,103.0 49.5,102.2 50.0,102.7 50.5,101.9 51.0,102.4 51.5,102.4 52.0,102.3 52.5,102.3 53.0,102.9 53.5,102.5 54.0,102.8 54.5,102.6 55.0,102.9 55.5,101.9 56.0,102.8 56.5,102.2 57.0,102.7 57.5,102.0 58.0,102.2 58.5,102.8 59.0,102.0 59.5,101.8 60.0,101.9 60.5,102.3 61.0,102.8 61.5,102.7 62.0,101.8 62.5,102.3 63.0,102.7 63.5,101.9 64.0,100.7 64.5,102.2 65.0,102.4 65.5,102.4 66.0,102.6 66.5,102.8 67.0,101.8 67.5,102.3 68.0,102.2 68.5,102.5 69.0,101.9 69.5,102.8 70.0,102.4 70.5,102.8 71.0,102.7 71.5,101.6 72.0,102.0 72.5,102.3 73.0,102.2 73.5,101.7 74.0,102.4 74.5,102.1 75.0,101.9 75.5,102.3 76.0,102.1 76.5,101.8 77.0,101.6 77.5,102.5 78.0,101.6 78.5,102.7 79.0,101.8 79.5,101.7 80.0,102.5 80.5,102.2 81.0,101.7 81.5,102.6 82.0,101.9 82.5,101.7 83.0,102.0 83.5,101.8 84.0,102.3 84.5,102.4 85.0,102.2 85.5,102.4 86.0,102.2 86.5,99.5 87.0,101.9 87.5,102.2 88.0,102.2 88.5,99.5 89.0,102.0 89.5,101.4 90.0,101.9 90.5,101.9 91.0,101.4 91.5,101.6 92.0,101.8 92.5,102.0 93.0,101.4 93.5,102.0 94.0,101.4 94.5,102.4 95.0,101.9 95.5,101.3 96.0,101.3 96.5,102.1 97.0,101.5 97.5,101.6 98.0,101.5 98.5,101.6 99.0,101.2 99.5,102.0 100.0,100.6 100.5,102.1 101.0,102.3 101.5,102.1 102.0,101.3 102.5,101.3 103.0,102.2 103.5,101.6 104.0,101.7 104.5,101.6 105.0,101.5 105.5,101.9 106.0,99.7 106.5,101.7 107.0,101.5 107.5,101.5 108.0,102.0 108.5,102.2 109.0,101.8 109.5,101.3 110.0,101.3 110.5,101.3 111.0,102.1 111.5,101.1 112.0,101.2 112.5,101.1 113.0,101.4 113.5,100.9 114.0,101.8 114.5,101.7 115.0,100.1 115.5,101.3 116.0,101.2 116.5,101.2 117.0,100.7 117.5,101.2 118.0,100.5 118.5,101.1 119.0,100.5 119.5,101.3 120.0,101.0 120.5,100.3 121.0,100.9 121.5,100.6 122.0,100.8 122.5,99.9 123.0,101.5 123.5,101.1 124.0,101.8 124.5,100.9 125.0,100.7 125.5,100.9 126.0,101.9 126.5,101.6 127.0,101.7 127.5,102.0 128.0,101.4 128.5,101.2 129.0,101.8 129.5,101.2 130.0,101.2 130.5,102.0 131.0,101.3 131.5,101.1 132.0,101.0 132.5,101.5 133.0,101.4 133.5,101.5 134.0,102.1 134.5,101.4 135.0,101.4 135.5,101.2 136.0,101.2 136.5,101.8 137.0,101.3 137.5,101.2 138.0,101.1 138.5,102.0 139.0,102.2 139.5,101.4 140.0,101.9 140.5,101.5 141.0,101.1 141.5,101.7 142.0,101.9 142.5,101.6 143.0,101.4 143.5,102.0 144.0,101.7 144.5,102.0 145.0,101.3 145.5,101.1 146.0,101.7 146.5,101.7 147.0,101.5 147.5,101.9 148.0,101.3 148.5,101.7 149.0,101.5 149.5,102.0 150.0,101.2 150.5,101.4 151.0,101.7 151.5,102.0 152.0,101.1 152.5,101.9 153.0,101.9 153.5,101.3 154.0,101.9 154.5,100.9 155.0,101.7 155.5,101.7 156.0,101.0 156.5,101.3 157.0,101.8 157.5,101.5 158.0,100.9 158.5,101.5 159.0,101.1 159.5,101.9 160.0,101.1 160.5,101.0 161.0,101.0 161.5,101.1 162.0,101.5 162.5,101.9 163.0,101.3 163.5,101.0 164.0,101.7 164.5,101.6 165.0,101.3 165.5,101.0 166.0,100.8 166.5,101.7 167.0,101.7 167.5,100.9 168.0,101.1 168.5,101.0 169.0,100.7 169.5,100.7 170.0,100.8 170.5,100.9 171.0,101.4 171.5,101.1 172.0,100.3 172.5,100.9 173.0,100.9 173.5,100.9 174.0,101.3 174.5,101.3 175.0,101.3 175.5,101.7 176.0,100.8 176.5,101.1 177.0,101.3 177.5,101.1 178.0,100.9 178.5,101.3 179.0,100.7 179.5,100.6 180.0,101.3 180.5,101.6 181.0,100.8 181.5,99.9 182.0,101.5 182.5,100.8 183.0,100.7 183.5,100.6 184.0,101.5 184.5,101.6 185.0,100.5 185.5,101.5 186.0,100.6 186.5,101.0 187.0,101.1 187.5,100.7 188.0,101.4 188.5,100.5 189.0,101.4 189.5,99.7 190.0,101.5 190.5,101.0 191.0,101.6 191.5,101.2 192.0,101.2 192.5,100.7 193.0,101.0 193.5,101.5 194.0,100.4 194.5,100.5 195.0,100.5 195.5,101.3 196.0,101.1 196.5,101.3 197.0,101.4 197.5,101.5 198.0,100.9 198.5,101.4 199.0,101.3 199.5,100.5 200.0,100.9 200.5,101.3 201.0,100.7 201.5,101.2 202.0,100.9 202.5,101.2 203.0,100.9 203.5,100.1 204.0,100.9 204.5,101.0 205.0,100.6 205.5,100.5 206.0,101.3 206.5,101.3 207.0,101.4 207.5,100.3 208.0,100.4 208.5,101.2 209.0,100.3 209.5,101.3 210.0,100.9 210.5,100.9 211.0,100.4 211.5,101.5 212.0,101.1 212.5,100.8 213.0,101.4 213.5,101.2 214.0,100.9 214.5,100.4 215.0,100.6 215.5,100.5 216.0,100.6 216.5,100.7 217.0,100.5 217.5,100.7 218.0,100.6 218.5,101.1 219.0,101.3 219.5,100.6 220.0,101.3 220.5,100.4 221.0,100.8 221.5,101.1 222.0,100.4 222.5,101.3 223.0,100.9 223.5,101.4 224.0,100.3 224.5,100.8 225.0,100.5 225.5,101.2 226.0,100.5 226.5,100.7 227.0,100.7 227.5,100.4 228.0,100.4 228.5,101.0 229.0,100.7 229.5,100.5 230.0,101.1 230.5,100.7 231.0,101.2 231.5,100.8 232.0,100.6 232.5,101.4 233.0,100.6 233.5,101.5 234.0,100.3 234.5,100.9 234.5,109.1 234.0,108.9 233.5,109.1 233.0,108.9 232.5,109.3 232.0,108.3 231.5,109.3 231.0,108.9 230.5,108.6 230.0,108.8 229.5,108.5 229.0,109.2 228.5,108.8 228.0,108.5 227.5,109.1 227.0,109.1 226.5,108.5 226.0,108.6 225.5,109.9 225.0,108.4 224.5,108.4 224.0,108.7 223.5,108.5 223.0,108.6 222.5,108.7 222.0,109.0 221.5,108.6 221.0,108.9 220.5,109.3 220.0,108.8 219.5,108.7 219.0,111.3 218.5,108.3 218.0,109.0 217.5,108.1 217.0,109.3 216.5,112.2 216.0,108.2 215.5,108.5 215.0,109.0 214.5,109.2 214.0,109.0 213.5,108.8 213.0,110.1 212.5,108.3 212.0,109.2 211.5,108.2 211.0,108.7 210.5,108.2 210.0,109.2 209.5,108.4 209.0,108.2 208.5,108.8 208.0,108.9 207.5,115.8 207.0,108.7 206.5,108.2 206.0,108.7 205.5,108.2 205.0,110.0 204.5,109.0 204.0,108.9 203.5,112.8 203.0,109.2 202.5,108.1 202.0,108.3 201.5,109.2 201.0,108.3 200.5,108.5 200.0,108.5 199.5,109.2 199.0,109.3 198.5,108.5 198.0,109.3 197.5,110.4 197.0,108.8 196.5,109.3 196.0,108.6 195.5,108.3 195.0,109.0 194.5,108.3 194.0,108.6 193.5,109.2 193.0,109.2 192.5,109.0 192.0,109.4 191.5,109.3 191.0,109.0 190.5,111.1 190.0,109.1 189.5,109.4 189.0,108.7 188.5,108.2 188.0,108.5 187.5,109.4 187.0,115.4 186.5,109.3 186.0,108.6 185.5,109.1 185.0,108.4 184.5,108.5 184.0,108.4 183.5,109.4 183.0,108.7 182.5,109.0 182.0,108.6 181.5,108.8 181.0,109.4 180.5,108.9 180.0,108.4 179.5,109.5 179.0,108.9 178.5,108.9 178.0,108.5 177.5,109.3 177.0,109.5 176.5,109.1 176.0,108.9 175.5,108.7 175.0,109.0 174.5,115.0 174.0,109.0 173.5,109.5 173.0,108.6 172.5,108.8 172.0,109.5 171.5,109.6 171.0,108.5 170.5,109.4 170.0,108.6 169.5,109.1 169.0,109.2 168.5,109.5 168.0,108.8 167.5,116.2 167.0,108.6 166.5,108.8 166.0,109.7 165.5,115.5 165.0,109.5 164.5,109.1 164.0,113.0 163.5,109.6 163.0,109.3 162.5,109.0 162.0,108.9 161.5,109.7 161.0,109.3 160.5,109.3 160.0,109.0 159.5,109.1 159.0,108.6 158.5,109.3 158.0,109.6 157.5,109.2 157.0,108.7 156.5,109.0 156.0,109.4 155.5,109.5 155.0,109.2 154.5,109.3 154.0,109.6 153.5,109.1 153.0,108.9 152.5,108.7 152.0,109.8 151.5,109.4 151.0,111.4 150.5,109.1 150.0,109.0 149.5,108.9 149.0,109.6 148.5,108.8 148.0,109.7 147.5,109.7 147.0,109.8 146.5,109.4 146.0,109.8 145.5,115.3 145.0,109.7 144.5,109.3 144.0,109.9 143.5,109.5 143.0,108.8 142.5,109.8 142.0,111.7 141.5,109.4 141.0,113.9 140.5,109.4 140.0,109.0 139.5,109.3 139.0,109.7 138.5,108.9 138.0,108.9 137.5,109.9 137.0,109.1 136.5,109.7 136.0,112.9 135.5,109.6 135.0,109.8 134.5,108.9 134.0,116.6 133.5,109.2 133.0,108.8 132.5,109.5 132.0,109.2 131.5,113.0 131.0,109.8 130.5,109.5 130.0,109.2 129.5,109.2 129.0,109.0 128.5,109.5 128.0,108.9 127.5,109.3 127.0,108.8 126.5,109.4 126.0,114.5 125.5,108.6 125.0,109.6 124.5,109.6 124.0,108.9 123.5,109.2 123.0,108.7 122.5,109.4 122.0,108.5 121.5,108.7 121.0,108.7 120.5,109.1 120.0,108.6 119.5,114.0 119.0,108.7 118.5,108.1 118.0,108.7 117.5,108.4 117.0,108.5 116.5,108.9 116.0,109.3 115.5,108.5 115.0,109.2 114.5,109.3 114.0,109.1 113.5,108.7 113.0,109.2 112.5,109.2 112.0,109.8 111.5,111.9 111.0,109.6 110.5,109.5 110.0,109.0 109.5,109.5 109.0,109.8 108.5,109.8 108.0,109.0 107.5,109.2 107.0,109.6 106.5,111.3 106.0,109.0 105.5,109.2 105.0,109.1 104.5,108.9 104.0,110.1 103.5,109.3 103.0,115.7 102.5,110.1 102.0,109.1 101.5,109.1 101.0,109.8 100.5,110.0 100.0,109.6 99.5,109.5 99.0,110.1 98.5,109.4 98.0,109.9 97.5,109.3 97.0,110.1 96.5,109.6 96.0,109.5 95.5,109.4 95.0,109.9 94.5,109.3 94.0,109.6 93.5,109.6 93.0,109.8 92.5,109.3 92.0,109.3 91.5,109.4 91.0,109.1 90.5,109.3 90.0,110.2 89.5,110.1 89.0,109.3 88.5,109.3 88.0,109.5 87.5,109.8 87.0,112.2 86.5,109.8 86.0,109.9 85.5,114.0 85.0,110.2 84.5,109.5 84.0,110.4 83.5,109.4 83.0,110.2 82.5,110.3 82.0,110.4 81.5,110.4 81.0,110.1 80.5,109.4 80.0,110.0 79.5,109.6 79.0,109.4 78.5,109.7 78.0,109.8 77.5,110.0 77.0,110.3 76.5,109.4 76.0,110.4 75.5,110.1 75.0,109.8 74.5,110.2 74.0,109.7 73.5,110.3 73.0,109.7 72.5,110.4 72.0,110.0 71.5,110.0 71.0,114.5 70.5,110.5 70.0,109.6 69.5,110.2 69.0,109.8 68.5,110.1 68.0,109.9 67.5,110.1 67.0,109.5 66.5,109.8 66.0,109.6 65.5,110.3 65.0,113.9 64.5,109.6 64.0,110.2 63.5,110.7 63.0,110.1 62.5,109.8 62.0,110.4 61.5,109.6 61.0,110.5 60.5,109.8 60.0,110.3 59.5,110.5 59.0,110.3 58.5,110.6 58.0,110.1 57.5,109.8 57.0,109.8 56.5,110.8 56.0,110.8 55.5,110.2 55.0,110.3 54.5,110.3 54.0,109.7 53.5,110.4 53.0,110.9 52.5,109.7 52.0,109.8 51.5,110.3 51.0,110.8 50.5,110.1 50.0,110.1 49.5,110.8 49.0,110.8 48.5,110.4 48.0,110.6 47.5,110.0 47.0,110.3 46.5,109.8 46.0,110.4 45.5,116.4 45.0,110.3 44.5,110.8 44.0,110.1 43.5,117.8 43.0,110.8 42.5,109.8 42.0,110.0 41.5,110.3 41.0,110.7 40.5,110.8 40.0,110.6 39.5,110.0 39.0,109.9 38.5,110.9 38.0,109.8 37.5,110.0 37.0,109.7 36.5,109.5 36.0,109.2 35.5,108.3 35.0,112.7 34.5,106.9 34.0,107.0 33.5,106.8 33.0,106.7 32.5,111.0 32.0,105.7 31.5,105.8 31.0,105.6 30.5,106.1 30.0,105.0 29.5,104.9 29.0,105.5 28.5,104.9 28.0,104.7 27.5,108.5 27.0,104.7 26.5,105.0 26.0,104.7 25.5,105.3 25.0,105.6 24.5,108.5 24.0,104.8 23.5,104.5 23.0,105.3 22.5,104.6 22.0,104.9 21.5,105.4" fill="#ff1010" stroke="#ff1010" stroke-width="0.4" stroke-linejoin="round"/>
<polygon points="30.6,99.4 30.6,97.2 30.7,96.3 30.8,94.9 30.9,92.8 31.0,89.9 31.1,86.1 31.2,81.3 31.3,76.0 31.4,70.4 31.5,65.0 31.6,60.6 31.7,57.7 31.8,56.7 31.9,57.7 32.0,60.6 32.1,64.9 32.2,70.2 32.3,75.7 32.4,81.0 32.5,85.6 32.6,89.2 32.7,92.0 32.8,93.8 32.9,94.9 33.0,95.5 33.1,95.6 33.2,95.4 33.3,95.0 33.4,94.5 33.5,93.9 33.6,93.2 33.7,92.5 33.8,91.7 33.9,90.9 34.0,90.1 34.1,89.3 34.2,88.5 34.3,87.7 34.4,87.0 34.5,86.3 34.6,85.7 34.7,85.2 34.8,84.8 34.9,84.4 35.0,84.2 35.1,84.1 35.2,84.1 35.3,84.3 35.4,84.6 35.5,85.0 35.6,85.5 35.7,86.1 35.8,86.8 35.9,87.6 36.0,88.4 36.1,89.3 36.2,90.3 36.3,91.2 36.4,92.2 36.5,93.1 36.6,94.1 36.7,95.0 36.8,95.8 36.9,96.7 37.0,97.4 37.1,98.2 37.2,98.8 37.3,99.5 37.4,100.0 37.5,100.5 37.6,101.0 37.7,101.4 37.8,101.7 37.9,102.1 38.0,102.3 38.0,104.2" fill="#ff1010" stroke="#ff1010" stroke-width="0.9" stroke-linejoin="round"/>
<polygon points="114.6,102.8 114.6,100.6 114.7,99.8 114.8,98.5 114.9,96.5 115.0,93.8 115.1,90.1 115.2,85.5 115.3,79.8 115.4,73.3 115.5,66.3 115.6,59.3 115.7,52.9 115.8,47.7 115.9,44.4 116.0,43.2 116.1,44.4 116.2,47.7 116.3,52.8 116.4,59.1 116.5,66.1 116.6,73.1 116.7,79.5 116.8,85.2 116.9,89.8 117.0,93.5 117.1,96.2 117.2,98.1 117.3,99.3 117.4,100.1 117.4,102.3" fill="#ff1010" stroke="#ff1010" stroke-width="0.9" stroke-linejoin="round"/>
<polygon points="121.3,102.5 121.3,100.6 121.4,100.5 121.5,100.3 121.6,100.0 121.7,99.8 121.8,99.4 121.9,99.1 122.0,98.7 122.1,98.2 122.2,97.8 122.3,97.2 122.4,96.6 122.5,96.0 122.6,95.3 122.7,94.6 122.8,93.8 122.9,93.0 123.0,92.2 123.1,91.4 123.2,90.5 123.3,89.6 123.4,88.8 123.5,88.0 123.6,87.2 123.7,86.5 123.8,85.8 123.9,85.2 124.0,84.6 124.1,84.2 124.2,83.8 124.3,83.5 124.4,83.4 124.5,83.4 124.6,83.4 124.7,83.6 124.8,83.9 124.9,84.2 125.0,84.7 125.1,85.3 125.2,85.9 125.3,86.6 125.4,87.4 125.5,88.2 125.6,89.0 125.7,89.9 125.8,90.8 125.9,91.6 126.0,92.5 126.1,93.3 126.2,94.2 126.3,94.9 126.4,95.7 126.5,96.4 126.6,97.0 126.7,97.7 126.8,98.2 126.9,98.7 127.0,99.2 127.1,99.6 127.2,100.0 127.3,100.3 127.4,100.6 127.5,100.9 127.6,101.1 127.7,101.3 127.7,103.2" fill="#ff1010" stroke="#ff1010" stroke-width="0.9" stroke-linejoin="round"/>
<polygon points="208.1,102.5 208.1,100.6 208.2,99.8 208.3,98.5 208.4,96.4 208.5,93.4 208.6,89.1 208.7,83.6 208.8,76.8 208.9,69.1 209.0,61.1 209.1,53.5 209.2,47.1 209.3,43.0 209.4,41.5 209.5,43.0 209.6,47.1 209.7,53.5 209.8,61.1 209.9,69.1 210.0,76.8 210.1,83.6 210.2,89.1 210.3,93.4 210.4,96.4 210.5,98.4 210.6,99.7 210.7,100.5 210.7,102.5" fill="#ff1010" stroke="#ff1010" stroke-width="0.9" stroke-linejoin="round"/>
<polygon points="212.1,102.5 212.1,100.7 212.2,100.6 212.3,100.4 212.4,100.3 212.5,100.1 212.6,100.0 212.7,99.8 212.8,99.6 212.9,99.4 213.0,99.2 213.1,99.0 213.2,98.8 213.3,98.6 213.4,98.4 213.5,98.2 213.6,98.0 213.7,97.8 213.8,97.6 213.9,97.5 214.0,97.3 214.1,97.2 214.2,97.1 214.3,97.1 214.4,97.0 214.5,97.0 214.6,97.0 214.7,97.1 214.8,97.1 214.9,97.2 215.0,97.3 215.1,97.5 215.2,97.6 215.3,97.8 215.4,98.0 215.5,98.2 215.6,98.4 215.7,98.6 215.8,98.8 215.9,99.0 216.0,99.2 216.1,99.4 216.2,99.6 216.3,99.8 216.4,100.0 216.5,100.1 216.6,100.3 216.7,100.4 216.8,100.6 216.9,100.7 216.9,102.5" fill="#ff1010" stroke="#ff1010" stroke-width="0.9" stroke-linejoin="round"/>
<polygon points="21.5,127.1 22.0,127.6 22.5,126.6 23.0,126.9 23.5,127.3 24.0,126.7 24.5,126.7 25.0,127.3 25.5,126.7 26.0,126.6 26.5,127.0 27.0,127.3 27.5,126.6 28.0,126.6 28.5,127.3 29.0,127.6 29.5,125.4 30.0,126.9 30.5,127.5 31.0,125.4 31.5,127.7 32.0,127.1 32.5,127.9 33.0,128.2 33.5,128.5 34.0,128.3 34.5,128.3 35.0,129.9 35.5,130.4 36.0,130.5 36.5,132.4 37.0,132.8 37.5,133.0 38.0,134.6 38.5,133.6 39.0,133.6 39.5,134.4 40.0,133.8 40.5,133.9 41.0,133.7 41.5,134.1 42.0,134.0 42.5,134.1 43.0,133.2 43.5,134.1 44.0,133.2 44.5,131.2 45.0,133.8 45.5,133.3 46.0,133.5 46.5,133.8 47.0,133.6 47.5,132.9 48.0,133.6 48.5,133.3 49.0,132.8 49.5,133.5 50.0,132.9 50.5,133.7 51.0,132.9 51.5,132.8 52.0,132.7 52.5,132.5 53.0,132.8 53.5,132.5 54.0,133.3 54.5,132.9 55.0,133.3 55.5,133.4 56.0,132.9 56.5,132.6 57.0,132.5 57.5,133.3 58.0,132.2 58.5,133.0 59.0,132.9 59.5,132.2 60.0,132.1 60.5,132.3 61.0,132.8 61.5,132.6 62.0,131.1 62.5,132.7 63.0,132.2 63.5,132.2 64.0,132.6 64.5,132.1 65.0,132.7 65.5,132.2 66.0,132.4 66.5,132.7 67.0,131.6 67.5,132.4 68.0,132.5 68.5,133.0 69.0,131.9 69.5,131.9 70.0,133.1 70.5,132.0 71.0,132.5 71.5,132.9 72.0,132.1 72.5,132.6 73.0,132.2 73.5,132.1 74.0,132.4 74.5,133.0 75.0,132.1 75.5,132.2 76.0,132.0 76.5,132.7 77.0,132.1 77.5,132.0 78.0,132.6 78.5,132.5 79.0,132.6 79.5,132.2 80.0,132.7 80.5,132.6 81.0,132.9 81.5,132.1 82.0,132.5 82.5,132.3 83.0,132.6 83.5,132.5 84.0,132.1 84.5,132.4 85.0,132.2 85.5,132.4 86.0,132.3 86.5,131.9 87.0,132.6 87.5,132.3 88.0,130.8 88.5,132.8 89.0,131.8 89.5,132.3 90.0,132.6 90.5,132.0 91.0,131.9 91.5,132.1 92.0,131.8 92.5,132.8 93.0,132.2 93.5,132.0 94.0,131.8 94.5,132.1 95.0,132.1 95.5,132.4 96.0,132.2 96.5,132.2 97.0,130.6 97.5,131.8 98.0,131.9 98.5,131.7 99.0,132.7 99.5,131.9 100.0,132.3 100.5,131.9 101.0,132.5 101.5,132.2 102.0,131.8 102.5,130.9 103.0,132.4 103.5,132.2 104.0,131.8 104.5,132.4 105.0,131.8 105.5,131.9 106.0,132.4 106.5,132.1 107.0,132.0 107.5,131.7 108.0,131.7 108.5,132.4 109.0,131.8 109.5,132.0 110.0,132.3 110.5,131.8 111.0,131.6 111.5,132.1 112.0,131.6 112.5,132.4 113.0,132.3 113.5,131.4 114.0,131.8 114.5,130.8 115.0,131.4 115.5,131.7 116.0,130.8 116.5,130.7 117.0,131.3 117.5,131.0 118.0,130.2 118.5,130.2 119.0,130.3 119.5,130.8 120.0,131.1 120.5,131.0 121.0,131.4 121.5,131.1 122.0,131.5 122.5,131.7 123.0,131.5 123.5,131.9 124.0,131.5 124.5,130.6 125.0,131.5 125.5,131.2 126.0,131.3 126.5,131.7 127.0,131.5 127.5,132.1 128.0,131.7 128.5,132.4 129.0,132.1 129.5,131.6 130.0,132.1 130.5,132.2 131.0,131.9 131.5,132.5 132.0,131.9 132.5,132.9 133.0,132.6 133.5,132.7 134.0,132.6 134.5,131.8 135.0,133.0 135.5,132.7 136.0,132.3 136.5,132.2 137.0,132.1 137.5,132.6 138.0,132.9 138.5,132.1 139.0,133.0 139.5,133.1 140.0,132.9 140.5,132.6 141.0,132.1 141.5,132.3 142.0,132.5 142.5,132.6 143.0,132.4 143.5,132.4 144.0,132.8 144.5,133.1 145.0,133.0 145.5,132.3 146.0,132.4 146.5,132.2 147.0,133.1 147.5,132.1 148.0,132.7 148.5,132.1 149.0,132.5 149.5,132.5 150.0,132.2 150.5,132.4 151.0,132.4 151.5,133.0 152.0,132.5 152.5,132.8 153.0,133.1 153.5,133.0 154.0,132.6 154.5,132.9 155.0,132.3 155.5,133.1 156.0,133.2 156.5,132.0 157.0,132.8 157.5,132.6 158.0,132.9 158.5,132.9 159.0,132.7 159.5,132.3 160.0,131.7 160.5,132.2 161.0,132.0 161.5,132.5 162.0,131.1 162.5,132.9 163.0,133.0 163.5,132.8 164.0,132.2 164.5,133.2 165.0,132.3 165.5,132.4 166.0,133.2 166.5,133.1 167.0,132.3 167.5,132.4 168.0,132.8 168.5,132.2 169.0,132.9 169.5,132.7 170.0,133.1 170.5,132.4 171.0,133.1 171.5,133.0 172.0,132.3 172.5,132.6 173.0,132.4 173.5,132.3 174.0,131.3 174.5,133.0 175.0,132.4 175.5,133.1 176.0,132.9 176.5,132.7 177.0,133.1 177.5,133.1 178.0,132.4 178.5,132.3 179.0,132.8 179.5,132.7 180.0,133.0 180.5,131.2 181.0,132.5 181.5,132.1 182.0,133.2 182.5,132.1 183.0,132.0 183.5,132.8 184.0,132.3 184.5,132.2 185.0,132.4 185.5,132.9 186.0,132.5 186.5,132.1 187.0,133.1 187.5,132.6 188.0,133.2 188.5,132.2 189.0,132.3 189.5,133.1 190.0,130.8 190.5,132.4 191.0,133.0 191.5,132.6 192.0,132.4 192.5,132.8 193.0,132.1 193.5,132.0 194.0,132.4 194.5,132.6 195.0,133.1 195.5,133.1 196.0,132.2 196.5,132.3 197.0,132.2 197.5,132.5 198.0,132.5 198.5,131.7 199.0,132.3 199.5,132.8 200.0,132.6 200.5,132.6 201.0,132.4 201.5,132.9 202.0,133.2 202.5,133.1 203.0,133.0 203.5,132.2 204.0,132.3 204.5,132.3 205.0,132.7 205.5,133.1 206.0,132.6 206.5,132.2 207.0,132.6 207.5,132.4 208.0,132.8 208.5,133.0 209.0,132.4 209.5,132.6 210.0,132.8 210.5,132.9 211.0,132.4 211.5,132.8 212.0,132.5 212.5,132.9 213.0,132.3 213.5,132.8 214.0,132.6 214.5,132.1 215.0,132.3 215.5,132.3 216.0,132.8 216.5,132.2 217.0,132.7 217.5,132.0 218.0,132.1 218.5,132.4 219.0,132.2 219.5,132.5 220.0,132.3 220.5,133.1 221.0,132.0 221.5,132.2 222.0,133.0 222.5,132.9 223.0,132.5 223.5,132.3 224.0,133.0 224.5,132.0 225.0,132.8 225.5,132.0 226.0,130.3 226.5,132.6 227.0,132.8 227.5,133.1 228.0,133.1 228.5,132.4 229.0,132.3 229.5,132.1 230.0,132.8 230.5,132.1 231.0,132.8 231.5,132.1 232.0,132.1 232.5,133.0 233.0,132.2 233.5,132.4 234.0,132.4 234.5,132.2 234.5,140.5 234.0,140.1 233.5,140.3 233.0,144.3 232.5,140.1 232.0,140.5 231.5,140.9 231.0,140.5 230.5,140.1 230.0,139.8 229.5,140.3 229.0,140.8 228.5,140.5 228.0,140.6 227.5,141.0 227.0,140.6 226.5,140.4 226.0,140.7 225.5,140.3 225.0,139.9 224.5,140.7 224.0,140.8 223.5,140.2 223.0,140.7 222.5,140.3 222.0,142.1 221.5,147.4 221.0,140.4 220.5,140.3 220.0,139.9 219.5,140.3 219.0,140.0 218.5,140.1 218.0,140.6 217.5,140.3 217.0,140.4 216.5,140.3 216.0,140.4 215.5,140.3 215.0,140.3 214.5,142.5 214.0,139.9 213.5,140.9 213.0,140.2 212.5,140.0 212.0,143.7 211.5,140.6 211.0,141.0 210.5,140.3 210.0,140.3 209.5,140.1 209.0,140.5 208.5,139.9 208.0,140.5 207.5,140.5 207.0,140.9 206.5,140.6 206.0,140.3 205.5,140.9 205.0,140.1 204.5,140.9 204.0,140.9 203.5,140.7 203.0,140.8 202.5,140.0 202.0,141.0 201.5,140.3 201.0,145.3 200.5,140.4 200.0,139.8 199.5,140.2 199.0,140.4 198.5,145.9 198.0,142.3 197.5,140.5 197.0,139.9 196.5,140.2 196.0,140.5 195.5,140.2 195.0,140.1 194.5,139.8 194.0,144.6 193.5,140.1 193.0,140.2 192.5,140.6 192.0,140.6 191.5,140.0 191.0,140.9 190.5,139.9 190.0,140.4 189.5,139.9 189.0,140.4 188.5,139.8 188.0,140.9 187.5,143.2 187.0,144.2 186.5,140.8 186.0,140.4 185.5,140.7 185.0,139.9 184.5,140.4 184.0,140.9 183.5,143.2 183.0,145.9 182.5,140.0 182.0,140.4 181.5,141.0 181.0,139.9 180.5,141.0 180.0,140.7 179.5,140.6 179.0,140.4 178.5,140.7 178.0,139.9 177.5,140.6 177.0,141.0 176.5,139.9 176.0,140.4 175.5,140.3 175.0,140.2 174.5,140.4 174.0,139.8 173.5,139.8 173.0,140.8 172.5,140.3 172.0,147.2 171.5,140.6 171.0,140.9 170.5,139.8 170.0,140.8 169.5,140.0 169.0,140.5 168.5,140.7 168.0,140.2 167.5,139.9 167.0,140.1 166.5,140.2 166.0,140.4 165.5,140.5 165.0,143.7 164.5,140.5 164.0,140.6 163.5,140.9 163.0,140.8 162.5,141.0 162.0,140.4 161.5,140.0 161.0,140.8 160.5,140.3 160.0,146.1 159.5,139.9 159.0,140.3 158.5,140.0 158.0,140.3 157.5,140.7 157.0,140.3 156.5,140.6 156.0,140.8 155.5,139.9 155.0,140.7 154.5,140.2 154.0,140.3 153.5,140.6 153.0,141.0 152.5,142.3 152.0,140.3 151.5,139.9 151.0,140.5 150.5,140.8 150.0,140.9 149.5,140.4 149.0,140.3 148.5,146.8 148.0,140.7 147.5,142.8 147.0,140.9 146.5,140.1 146.0,140.6 145.5,140.8 145.0,139.9 144.5,144.1 144.0,140.6 143.5,140.0 143.0,140.2 142.5,139.9 142.0,140.9 141.5,140.2 141.0,140.1 140.5,139.8 140.0,140.6 139.5,140.5 139.0,140.1 138.5,140.3 138.0,140.5 137.5,140.0 137.0,139.9 136.5,140.4 136.0,139.9 135.5,139.7 135.0,140.3 134.5,140.5 134.0,142.4 133.5,139.9 133.0,140.5 132.5,139.8 132.0,140.0 131.5,139.5 131.0,139.9 130.5,139.6 130.0,139.4 129.5,140.1 129.0,139.7 128.5,140.3 128.0,139.8 127.5,139.4 127.0,146.7 126.5,142.5 126.0,140.1 125.5,140.0 125.0,139.7 124.5,139.5 124.0,139.4 123.5,139.3 123.0,139.4 122.5,139.4 122.0,138.9 121.5,138.9 121.0,138.9 120.5,138.4 120.0,138.4 119.5,139.2 119.0,139.1 118.5,138.6 118.0,138.1 117.5,138.0 117.0,138.7 116.5,145.0 116.0,141.3 115.5,139.0 115.0,139.0 114.5,139.6 114.0,139.6 113.5,139.4 113.0,140.1 112.5,139.6 112.0,140.4 111.5,140.1 111.0,140.2 110.5,139.8 110.0,142.7 109.5,139.4 109.0,139.6 108.5,139.7 108.0,139.7 107.5,139.8 107.0,139.8 106.5,140.0 106.0,139.5 105.5,140.5 105.0,140.1 104.5,139.6 104.0,142.2 103.5,140.3 103.0,140.5 102.5,140.5 102.0,140.4 101.5,139.9 101.0,139.9 100.5,140.2 100.0,139.4 99.5,144.7 99.0,140.4 98.5,140.2 98.0,139.7 97.5,139.5 97.0,139.5 96.5,142.1 96.0,140.5 95.5,139.8 95.0,140.3 94.5,140.4 94.0,139.6 93.5,140.2 93.0,140.6 92.5,140.5 92.0,140.0 91.5,140.5 91.0,139.9 90.5,139.7 90.0,140.4 89.5,140.1 89.0,140.3 88.5,140.1 88.0,140.2 87.5,140.3 87.0,140.5 86.5,140.2 86.0,140.6 85.5,140.1 85.0,140.0 84.5,139.9 84.0,140.3 83.5,140.4 83.0,139.8 82.5,139.9 82.0,140.3 81.5,140.6 81.0,146.5 80.5,140.4 80.0,142.5 79.5,139.9 79.0,140.0 78.5,140.4 78.0,139.7 77.5,140.8 77.0,139.6 76.5,139.7 76.0,139.8 75.5,140.8 75.0,140.6 74.5,139.9 74.0,140.2 73.5,139.9 73.0,140.0 72.5,140.1 72.0,140.2 71.5,140.7 71.0,140.2 70.5,140.8 70.0,140.3 69.5,140.2 69.0,140.8 68.5,140.6 68.0,140.7 67.5,139.8 67.0,140.5 66.5,140.3 66.0,139.9 65.5,140.8 65.0,140.6 64.5,140.4 64.0,140.8 63.5,140.6 63.0,140.9 62.5,140.6 62.0,140.8 61.5,140.3 61.0,146.7 60.5,140.8 60.0,140.1 59.5,146.0 59.0,144.4 58.5,140.9 58.0,147.0 57.5,147.1 57.0,140.6 56.5,140.3 56.0,141.0 55.5,140.4 55.0,140.2 54.5,141.1 54.0,140.9 53.5,147.5 53.0,141.1 52.5,141.2 52.0,141.1 51.5,141.2 51.0,140.5 50.5,140.5 50.0,141.3 49.5,144.6 49.0,140.9 48.5,140.7 48.0,143.5 47.5,140.7 47.0,141.3 46.5,140.8 46.0,141.4 45.5,141.2 45.0,148.2 44.5,142.0 44.0,141.9 43.5,141.6 43.0,141.6 42.5,141.2 42.0,141.3 41.5,142.0 41.0,142.3 40.5,142.2 40.0,142.9 39.5,145.5 39.0,147.3 38.5,141.3 38.0,141.6 37.5,144.4 37.0,140.0 36.5,139.8 36.0,139.3 35.5,138.3 35.0,136.9 34.5,136.4 34.0,136.4 33.5,135.2 33.0,135.2 32.5,135.3 32.0,135.9 31.5,135.3 31.0,135.0 30.5,134.8 30.0,135.1 29.5,134.9 29.0,135.2 28.5,134.3 28.0,135.5 27.5,136.6 27.0,134.3 26.5,134.9 26.0,135.0 25.5,134.8 25.0,134.8 24.5,134.7 24.0,134.6 23.5,134.3 23.0,134.6 22.5,134.9 22.0,142.4 21.5,134.7" fill="#2040ff" stroke="#2040ff" stroke-width="0.4" stroke-linejoin="round"/>
<polygon points="30.6,128.9 30.6,126.8 30.7,126.1 30.8,124.8 30.9,123.0 31.0,120.5 31.1,117.2 31.2,113.2 31.3,108.6 31.4,103.8 31.5,99.2 31.6,95.4 31.7,92.9 31.8,92.1 31.9,92.9 32.0,95.4 32.1,99.2 32.2,103.7 32.3,108.5 32.4,113.1 32.5,117.1 32.6,120.3 32.7,122.8 32.8,124.5 32.9,125.6 33.0,126.2 33.1,126.4 33.2,126.5 33.3,126.4 33.4,126.2 33.5,125.9 33.6,125.6 33.7,125.3 33.8,124.9 33.9,124.6 34.0,124.2 34.1,123.9 34.2,123.7 34.3,123.4 34.4,123.2 34.5,123.0 34.6,122.8 34.7,122.7 34.8,122.6 34.9,122.5 35.0,122.5 35.1,122.6 35.2,122.7 35.3,122.9 35.4,123.1 35.5,123.4 35.6,123.8 35.7,124.2 35.8,124.6 35.9,125.1 36.0,125.6 36.1,126.1 36.2,126.7 36.3,127.2 36.4,127.8 36.5,128.3 36.6,128.9 36.7,129.4 36.8,129.9 36.9,130.4 37.0,130.9 37.1,131.4 37.2,131.8 37.3,132.2 37.4,132.5 37.5,132.9 37.6,133.2 37.6,135.1" fill="#2040ff" stroke="#2040ff" stroke-width="0.9" stroke-linejoin="round"/>
<polygon points="114.5,133.1 114.5,131.3 114.6,130.6 114.7,129.5 114.8,127.9 114.9,125.5 115.0,122.1 115.1,117.5 115.2,111.7 115.3,104.6 115.4,96.5 115.5,87.7 115.6,79.0 115.7,71.1 115.8,64.6 115.9,60.5 116.0,59.0 116.1,60.4 116.2,64.5 116.3,70.9 116.4,78.8 116.5,87.5 116.6,96.2 116.7,104.2 116.8,111.3 116.9,117.1 117.0,121.6 117.1,125.0 117.2,127.3 117.3,128.9 117.4,129.9 117.5,130.5 117.5,132.3" fill="#2040ff" stroke="#2040ff" stroke-width="0.9" stroke-linejoin="round"/>
<polygon points="121.6,132.7 121.6,130.9 121.7,130.8 121.8,130.6 121.9,130.4 122.0,130.2 122.1,130.0 122.2,129.8 122.3,129.5 122.4,129.2 122.5,128.8 122.6,128.5 122.7,128.1 122.8,127.7 122.9,127.3 123.0,126.9 123.1,126.4 123.2,126.0 123.3,125.5 123.4,125.1 123.5,124.7 123.6,124.2 123.7,123.9 123.8,123.5 123.9,123.2 124.0,122.9 124.1,122.7 124.2,122.5 124.3,122.4 124.4,122.3 124.5,122.3 124.6,122.3 124.7,122.4 124.8,122.6 124.9,122.8 125.0,123.1 125.1,123.4 125.2,123.7 125.3,124.1 125.4,124.5 125.5,125.0 125.6,125.4 125.7,125.9 125.8,126.4 125.9,126.8 126.0,127.3 126.1,127.8 126.2,128.2 126.3,128.6 126.4,129.1 126.5,129.4 126.6,129.8 126.7,130.1 126.8,130.5 126.9,130.7 127.0,131.0 127.1,131.2 127.2,131.4 127.3,131.6 127.4,131.8 127.4,133.6" fill="#2040ff" stroke="#2040ff" stroke-width="0.9" stroke-linejoin="round"/>
<polygon points="208.2,134.2 208.2,131.9 208.3,130.9 208.4,129.4 208.5,127.1 208.6,123.9 208.7,119.8 208.8,114.7 208.9,108.9 209.0,102.9 209.1,97.2 209.2,92.4 209.3,89.3 209.4,88.2 209.5,89.3 209.6,92.4 209.7,97.2 209.8,102.9 209.9,108.9 210.0,114.7 210.1,119.8 210.2,123.9 210.3,127.1 210.4,129.4 210.5,130.9 210.6,131.9 210.6,134.2" fill="#2040ff" stroke="#2040ff" stroke-width="0.9" stroke-linejoin="round"/>
<polygon points="212.4,134.2 212.4,132.4 212.5,132.3 212.6,132.2 212.7,132.0 212.8,131.9 212.9,131.8 213.0,131.7 213.1,131.5 213.2,131.4 213.3,131.2 213.4,131.1 213.5,131.0 213.6,130.8 213.7,130.7 213.8,130.6 213.9,130.5 214.0,130.4 214.1,130.3 214.2,130.3 214.3,130.2 214.4,130.2 214.5,130.2 214.6,130.2 214.7,130.2 214.8,130.3 214.9,130.3 215.0,130.4 215.1,130.5 215.2,130.6 215.3,130.7 215.4,130.8 215.5,131.0 215.6,131.1 215.7,131.2 215.8,131.4 215.9,131.5 216.0,131.7 216.1,131.8 216.2,131.9 216.3,132.0 216.4,132.2 216.5,132.3 216.6,132.4 216.6,134.2" fill="#2040ff" stroke="#2040ff" stroke-width="0.9" stroke-linejoin="round"/>
<line x1="31.8" y1="92" x2="31.8" y2="100" stroke="#8030c0" stroke-width="1.6"/>
<line x1="116" y1="61" x2="116" y2="100" stroke="#8030c0" stroke-width="2"/>
<rect x="18.9" y="0.7" width="217" height="147.8" fill="none" stroke="#000" stroke-width="1.7"/>
<line x1="57.4" y1="148.5" x2="57.4" y2="146.3" stroke="#000" stroke-width="1"/>
<line x1="93.2" y1="148.5" x2="93.2" y2="145.3" stroke="#000" stroke-width="1"/>
<line x1="129.0" y1="148.5" x2="129.0" y2="146.3" stroke="#000" stroke-width="1"/>
<line x1="164.8" y1="148.5" x2="164.8" y2="145.3" stroke="#000" stroke-width="1"/>
<line x1="200.6" y1="148.5" x2="200.6" y2="146.3" stroke="#000" stroke-width="1"/>
<line x1="19.7" y1="8.0" x2="21.7" y2="8.0" stroke="#000" stroke-width="0.9"/>
<line x1="19.7" y1="17.5" x2="21.7" y2="17.5" stroke="#000" stroke-width="0.9"/>
<line x1="19.7" y1="27.0" x2="21.7" y2="27.0" stroke="#000" stroke-width="0.9"/>
<line x1="19.7" y1="36.5" x2="21.7" y2="36.5" stroke="#000" stroke-width="0.9"/>
<line x1="19.7" y1="46.0" x2="21.7" y2="46.0" stroke="#000" stroke-width="0.9"/>
<line x1="19.7" y1="55.5" x2="21.7" y2="55.5" stroke="#000" stroke-width="0.9"/>
<line x1="19.7" y1="65.0" x2="21.7" y2="65.0" stroke="#000" stroke-width="0.9"/>
<line x1="19.7" y1="74.5" x2="21.7" y2="74.5" stroke="#000" stroke-width="0.9"/>
<line x1="19.7" y1="84.0" x2="21.7" y2="84.0" stroke="#000" stroke-width="0.9"/>
<line x1="19.7" y1="93.5" x2="21.7" y2="93.5" stroke="#000" stroke-width="0.9"/>
<line x1="19.7" y1="103.0" x2="21.7" y2="103.0" stroke="#000" stroke-width="0.9"/>
<line x1="19.7" y1="112.5" x2="21.7" y2="112.5" stroke="#000" stroke-width="0.9"/>
<line x1="19.7" y1="122.0" x2="21.7" y2="122.0" stroke="#000" stroke-width="0.9"/>
<line x1="19.7" y1="131.5" x2="21.7" y2="131.5" stroke="#000" stroke-width="0.9"/>
<line x1="19.7" y1="141.0" x2="21.7" y2="141.0" stroke="#000" stroke-width="0.9"/>
<text x="21.4" y="160.9" class="tl" text-anchor="middle">20</text>
<text x="92.5" y="160.9" class="tl" text-anchor="middle">40</text>
<text x="164.1" y="160.9" class="tl" text-anchor="middle">60</text>
<text x="235.4" y="160.9" class="tl" text-anchor="middle">80</text>
<text x="106" y="169.4" class="tl">2θ (deg)</text>
<text transform="translate(8.8,78) rotate(-90)" class="ax" text-anchor="middle">Int (a.u.)</text>
<text x="24" y="17.2" class="lab" textLength="16.6" lengthAdjust="spacingAndGlyphs">(a)</text>
<text transform="translate(28.2,88.3) rotate(-90)" class="pk" fill="#000" stroke="#000" stroke-width="0.3" textLength="41.6" lengthAdjust="spacingAndGlyphs">NSTO(001)</text>
<text transform="translate(45.6,84.3) rotate(-90)" class="pk" fill="#000" stroke="#000" stroke-width="0.3" textLength="36.3" lengthAdjust="spacingAndGlyphs">TMO(002)</text>
<text transform="translate(109.4,86.4) rotate(-90)" class="pk" fill="#000" stroke="#000" stroke-width="0.3" textLength="40.5" lengthAdjust="spacingAndGlyphs">NSTO(002)</text>
<text transform="translate(127.2,82.3) rotate(-90)" class="pk" fill="#000" stroke="#000" stroke-width="0.3" textLength="36.6" lengthAdjust="spacingAndGlyphs">TMO(004)</text>
<text transform="translate(201.6,124.1) rotate(-90)" class="pk" fill="#000" stroke="#000" stroke-width="0.3" textLength="40.2" lengthAdjust="spacingAndGlyphs">NSTO(003)</text>
<text transform="translate(215.6,106.3) rotate(-90)" class="pk" fill="#000" stroke="#000" stroke-width="0.3" textLength="34.5" lengthAdjust="spacingAndGlyphs">TMO(006)</text>
<text x="52.3" y="93.5" class="tg" textLength="42.3" lengthAdjust="spacingAndGlyphs" fill="#ff1010">T<tspan class="sub" dy="2.6">G</tspan><tspan dy="-2.6">=780 </tspan><tspan dy="-1.6" font-size="7px">°</tspan><tspan dy="1.6">C</tspan></text>
<text x="52.3" y="126.7" class="tg" textLength="42.3" lengthAdjust="spacingAndGlyphs" fill="#2040ff">T<tspan class="sub" dy="2.6">G</tspan><tspan dy="-2.6">=700 </tspan><tspan dy="-1.6" font-size="7px">°</tspan><tspan dy="1.6">C</tspan></text>
<rect x="144.4" y="1.6" width="91" height="57.3" fill="#fff"/>
<polygon points="144.4,45.4 144.7,44.9 145.0,45.0 145.3,44.4 145.6,45.8 145.9,45.6 146.2,45.7 146.5,44.9 146.8,45.2 147.1,44.1 147.4,45.7 147.7,44.8 148.0,44.9 148.3,43.4 148.6,43.5 148.9,44.4 149.2,45.1 149.5,45.4 149.8,43.9 150.2,45.2 150.5,44.3 150.8,44.8 151.1,44.3 151.4,43.7 151.7,43.3 152.0,42.8 152.3,43.4 152.6,42.6 152.9,43.7 153.2,43.8 153.5,44.9 153.8,44.0 154.1,43.9 154.4,43.7 154.7,43.9 155.0,43.9 155.3,44.1 155.6,42.4 155.9,43.9 156.3,43.1 156.6,42.8 156.9,44.0 157.2,44.0 157.5,43.1 157.8,43.1 158.1,41.9 158.4,43.4 158.7,42.3 159.0,42.0 159.3,43.2 159.6,43.5 159.9,41.7 160.2,42.2 160.5,41.8 160.8,42.6 161.1,40.9 161.4,41.7 161.7,43.2 162.0,42.2 162.4,42.1 162.7,41.0 163.0,40.8 163.3,41.5 163.6,41.2 163.9,41.3 164.2,42.0 164.5,41.5 164.8,41.0 165.1,40.5 165.4,40.8 165.7,40.3 166.0,41.0 166.3,41.2 166.6,40.5 166.9,39.3 167.2,39.8 167.5,39.3 167.8,40.0 168.1,38.9 168.5,39.5 168.8,39.7 169.1,39.2 169.4,38.8 169.7,37.4 170.0,38.5 170.3,38.5 170.6,38.3 170.9,37.7 171.2,36.9 171.5,37.2 171.8,37.5 172.1,36.5 172.4,35.9 172.7,36.6 173.0,36.9 173.3,34.8 173.6,35.2 173.9,35.7 174.2,35.6 174.6,34.6 174.9,34.9 175.2,34.1 175.5,33.9 175.8,33.0 176.1,33.3 176.4,33.6 176.7,32.1 177.0,33.1 177.3,32.4 177.6,31.6 177.9,31.4 178.2,30.5 178.5,29.9 178.8,30.3 179.1,29.3 179.4,28.4 179.7,28.1 180.0,27.1 180.3,26.3 180.7,27.1 181.0,25.2 181.3,25.6 181.6,26.6 181.9,23.2 182.2,22.0 182.5,22.8 182.8,22.0 183.1,20.4 183.4,18.9 183.7,17.5 184.0,15.2 184.3,15.9 184.6,13.0 184.9,10.3 185.2,8.1 185.5,6.2 185.8,5.2 186.1,4.3 186.4,3.7 186.8,2.8 187.1,4.4 187.4,5.1 187.7,7.0 188.0,7.8 188.3,9.9 188.6,11.6 188.9,14.8 189.2,15.0 189.5,17.1 189.8,19.1 190.1,18.9 190.4,20.6 190.7,21.1 191.0,23.0 191.3,20.9 191.6,23.6 191.9,23.0 192.2,24.1 192.5,25.7 192.9,24.5 193.2,26.1 193.5,25.9 193.8,27.4 194.1,27.4 194.4,27.6 194.7,27.2 195.0,27.6 195.3,28.4 195.6,28.4 195.9,28.0 196.2,29.4 196.5,28.7 196.8,29.4 197.1,29.8 197.4,30.7 197.7,30.1 198.0,30.3 198.3,30.5 198.6,31.3 199.0,31.3 199.3,31.7 199.6,31.5 199.9,31.5 200.2,30.6 200.5,32.1 200.8,32.1 201.1,33.0 201.4,33.1 201.7,32.3 202.0,33.3 202.3,33.4 202.6,34.3 202.9,33.9 203.2,32.9 203.5,34.8 203.8,33.8 204.1,36.2 204.4,34.7 204.7,33.7 205.1,35.5 205.4,36.2 205.7,34.3 206.0,36.4 206.3,35.3 206.6,37.1 206.9,36.2 207.2,35.8 207.5,36.1 207.8,37.6 208.1,38.2 208.4,37.6 208.7,37.3 209.0,36.3 209.3,37.2 209.6,37.6 209.9,37.4 210.2,37.4 210.5,36.4 210.8,38.0 211.2,37.7 211.5,39.8 211.8,38.4 212.1,38.6 212.4,38.7 212.7,37.3 213.0,37.7 213.3,37.6 213.6,39.1 213.9,39.7 214.2,38.7 214.5,39.2 214.8,39.9 215.1,39.3 215.4,39.8 215.7,39.7 216.0,39.1 216.3,40.2 216.6,39.9 216.9,39.9 217.2,39.7 217.6,41.3 217.9,39.9 218.2,40.8 218.5,40.9 218.8,41.6 219.1,41.5 219.4,40.8 219.7,41.7 220.0,40.4 220.3,41.0 220.6,42.0 220.9,42.1 221.2,42.2 221.5,42.1 221.8,42.1 222.1,41.3 222.4,41.7 222.7,41.6 223.0,41.5 223.3,41.3 223.7,42.6 224.0,41.6 224.3,41.6 224.6,41.6 224.9,43.0 225.2,41.0 225.5,42.6 225.8,41.1 226.1,42.1 226.4,43.3 226.7,41.4 227.0,42.8 227.3,42.3 227.6,40.7 227.9,42.9 228.2,42.2 228.5,42.3 228.8,42.9 229.1,42.1 229.4,42.1 229.8,42.4 230.1,42.9 230.4,44.1 230.7,41.5 231.0,43.9 231.3,43.5 231.6,41.9 231.9,42.1 232.2,43.4 232.5,42.7 232.8,43.1 233.1,43.3 233.4,42.8 233.7,42.0 234.0,41.4 234.3,43.8 234.6,43.3 234.9,44.1 235.2,43.9 235.5,43.1 235.5,46.1 235.2,47.8 234.9,47.2 234.6,46.1 234.3,47.3 234.0,44.8 233.7,46.0 233.4,46.4 233.1,47.5 232.8,47.2 232.5,46.0 232.2,47.7 231.9,45.9 231.6,45.2 231.3,47.6 231.0,47.5 230.7,45.1 230.4,48.1 230.1,45.6 229.8,45.8 229.4,45.2 229.1,45.2 228.8,46.4 228.5,45.2 228.2,46.4 227.9,45.7 227.6,45.3 227.3,46.3 227.0,45.7 226.7,45.3 226.4,46.5 226.1,45.1 225.8,44.5 225.5,46.3 225.2,44.8 224.9,45.7 224.6,44.2 224.3,45.9 224.0,44.8 223.7,46.0 223.3,44.9 223.0,45.3 222.7,44.6 222.4,45.1 222.1,45.5 221.8,44.9 221.5,46.7 221.2,45.1 220.9,45.5 220.6,45.7 220.3,44.5 220.0,44.3 219.7,44.5 219.4,44.2 219.1,45.7 218.8,44.2 218.5,43.9 218.2,44.2 217.9,43.1 217.6,44.3 217.2,43.5 216.9,43.6 216.6,44.6 216.3,43.7 216.0,42.8 215.7,43.0 215.4,43.0 215.1,43.9 214.8,43.4 214.5,42.8 214.2,41.5 213.9,43.5 213.6,43.3 213.3,40.9 213.0,41.5 212.7,41.3 212.4,42.9 212.1,42.2 211.8,42.0 211.5,43.6 211.2,42.2 210.8,42.2 210.5,39.3 210.2,40.7 209.9,40.4 209.6,40.3 209.3,39.9 209.0,40.9 208.7,41.6 208.4,42.0 208.1,42.2 207.8,40.0 207.5,40.6 207.2,38.3 206.9,38.9 206.6,40.2 206.3,39.1 206.0,39.8 205.7,38.3 205.4,39.8 205.1,38.7 204.7,38.1 204.4,38.0 204.1,39.9 203.8,37.9 203.5,39.1 203.2,36.8 202.9,36.5 202.6,38.7 202.3,37.7 202.0,36.2 201.7,36.0 201.4,36.2 201.1,36.6 200.8,35.4 200.5,36.1 200.2,33.5 199.9,36.2 199.6,35.4 199.3,36.0 199.0,35.3 198.6,35.5 198.3,33.9 198.0,33.8 197.7,33.1 197.4,34.4 197.1,33.0 196.8,34.1 196.5,32.0 196.2,32.5 195.9,32.7 195.6,31.5 195.3,32.4 195.0,31.1 194.7,30.8 194.4,31.8 194.1,31.1 193.8,31.2 193.5,29.6 193.2,30.0 192.9,28.9 192.5,29.1 192.2,27.9 191.9,26.2 191.6,26.5 191.3,25.0 191.0,26.0 190.7,25.1 190.4,23.9 190.1,22.2 189.8,22.5 189.5,21.0 189.2,18.4 188.9,18.3 188.6,15.3 188.3,14.3 188.0,11.4 187.7,10.8 187.4,8.1 187.1,7.6 186.8,5.9 186.4,7.5 186.1,7.3 185.8,9.2 185.5,10.7 185.2,11.7 184.9,13.7 184.6,15.7 184.3,19.6 184.0,19.2 183.7,22.0 183.4,22.5 183.1,24.0 182.8,25.5 182.5,25.6 182.2,25.9 181.9,27.4 181.6,29.9 181.3,28.7 181.0,28.5 180.7,31.5 180.3,30.5 180.0,31.3 179.7,32.0 179.4,32.0 179.1,33.0 178.8,33.3 178.5,33.8 178.2,34.9 177.9,34.4 177.6,35.0 177.3,35.9 177.0,36.9 176.7,36.0 176.4,37.4 176.1,37.2 175.8,35.8 175.5,37.9 175.2,37.8 174.9,38.4 174.6,38.5 174.2,39.3 173.9,38.3 173.6,38.5 173.3,38.7 173.0,40.0 172.7,39.2 172.4,40.3 172.1,41.2 171.8,40.8 171.5,41.8 171.2,40.2 170.9,41.6 170.6,41.0 170.3,42.5 170.0,42.1 169.7,40.4 169.4,41.7 169.1,43.3 168.8,43.6 168.5,43.5 168.1,42.3 167.8,43.0 167.5,42.9 167.2,42.3 166.9,43.8 166.6,43.7 166.3,45.0 166.0,44.6 165.7,43.2 165.4,43.6 165.1,43.5 164.8,45.0 164.5,45.8 164.2,45.4 163.9,44.5 163.6,44.9 163.3,45.3 163.0,44.6 162.7,45.2 162.4,45.2 162.0,46.0 161.7,46.9 161.4,45.6 161.1,44.6 160.8,46.9 160.5,45.4 160.2,46.2 159.9,45.6 159.6,47.1 159.3,45.9 159.0,44.6 158.7,46.2 158.4,46.5 158.1,45.0 157.8,47.0 157.5,46.5 157.2,47.4 156.9,47.5 156.6,46.4 156.3,47.3 155.9,46.7 155.6,46.4 155.3,46.8 155.0,47.3 154.7,47.3 154.4,47.2 154.1,46.7 153.8,47.1 153.5,47.7 153.2,47.2 152.9,47.5 152.6,46.6 152.3,46.9 152.0,46.9 151.7,47.9 151.4,47.6 151.1,48.3 150.8,48.6 150.5,47.3 150.2,48.7 149.8,46.6 149.5,48.2 149.2,48.6 148.9,48.0 148.6,46.5 148.3,47.1 148.0,48.1 147.7,49.0 147.4,48.4 147.1,48.1 146.8,48.0 146.5,48.5 146.2,50.0 145.9,48.4 145.6,49.0 145.3,48.5 145.0,48.9 144.7,48.7 144.4,49.0" fill="#2040ff" stroke="#2040ff" stroke-width="0.3"/>
<polyline points="144.4,57.3 144.7,57.3 145.0,57.3 145.3,57.3 145.6,57.3 145.9,57.3 146.2,57.3 146.5,57.3 146.8,57.3 147.1,57.3 147.4,57.2 147.7,57.2 148.0,57.2 148.3,57.2 148.6,57.2 148.9,57.2 149.2,57.2 149.5,57.2 149.8,57.2 150.2,57.2 150.5,57.1 150.8,57.1 151.1,57.1 151.4,57.1 151.7,57.1 152.0,57.1 152.3,57.1 152.6,57.1 152.9,57.1 153.2,57.0 153.5,57.0 153.8,57.0 154.1,57.0 154.4,57.0 154.7,57.0 155.0,56.9 155.3,56.9 155.6,56.9 155.9,56.9 156.3,56.9 156.6,56.9 156.9,56.8 157.2,56.8 157.5,56.8 157.8,56.8 158.1,56.8 158.4,56.7 158.7,56.7 159.0,56.7 159.3,56.7 159.6,56.6 159.9,56.6 160.2,56.6 160.5,56.5 160.8,56.5 161.1,56.5 161.4,56.5 161.7,56.4 162.0,56.4 162.4,56.4 162.7,56.3 163.0,56.3 163.3,56.2 163.6,56.2 163.9,56.2 164.2,56.1 164.5,56.1 164.8,56.0 165.1,56.0 165.4,55.9 165.7,55.9 166.0,55.8 166.3,55.8 166.6,55.7 166.9,55.6 167.2,55.6 167.5,55.5 167.8,55.4 168.1,55.3 168.5,55.3 168.8,55.2 169.1,55.1 169.4,55.0 169.7,54.9 170.0,54.8 170.3,54.7 170.6,54.6 170.9,54.5 171.2,54.3 171.5,54.2 171.8,54.1 172.1,53.9 172.4,53.8 172.7,53.6 173.0,53.4 173.3,53.2 173.6,53.0 173.9,52.8 174.2,52.6 174.6,52.4 174.9,52.1 175.2,51.8 175.5,51.5 175.8,51.2 176.1,50.9 176.4,50.5 176.7,50.1 177.0,49.7 177.3,49.2 177.6,48.7 177.9,48.2 178.2,47.6 178.5,47.0 178.8,46.3 179.1,45.6 179.4,44.8 179.7,43.9 180.0,43.0 180.3,41.9 180.7,40.8 181.0,39.5 181.3,38.1 181.6,36.7 181.9,35.0 182.2,33.3 182.5,31.4 182.8,29.3 183.1,27.1 183.4,24.7 183.7,22.3 184.0,19.7 184.3,17.1 184.6,14.6 184.9,12.1 185.2,9.8 185.5,7.9 185.8,6.3 186.1,5.2 186.4,5.1 186.8,5.1 187.1,5.4 187.4,6.6 187.7,8.2 188.0,10.3 188.3,12.6 188.6,15.1 188.9,17.7 189.2,20.3 189.5,22.8 189.8,25.2 190.1,27.6 190.4,29.7 190.7,31.8 191.0,33.6 191.3,35.4 191.6,37.0 191.9,38.4 192.2,39.8 192.5,41.0 192.9,42.1 193.2,43.2 193.5,44.1 193.8,45.0 194.1,45.7 194.4,46.5 194.7,47.1 195.0,47.8 195.3,48.3 195.6,48.9 195.9,49.3 196.2,49.8 196.5,50.2 196.8,50.6 197.1,50.9 197.4,51.3 197.7,51.6 198.0,51.9 198.3,52.2 198.6,52.4 199.0,52.6 199.3,52.9 199.6,53.1 199.9,53.3 200.2,53.5 200.5,53.6 200.8,53.8 201.1,53.9 201.4,54.1 201.7,54.2 202.0,54.4 202.3,54.5 202.6,54.6 202.9,54.7 203.2,54.8 203.5,54.9 203.8,55.0 204.1,55.1 204.4,55.2 204.7,55.3 205.1,55.4 205.4,55.4 205.7,55.5 206.0,55.6 206.3,55.6 206.6,55.7 206.9,55.8 207.2,55.8 207.5,55.9 207.8,55.9 208.1,56.0 208.4,56.0 208.7,56.1 209.0,56.1 209.3,56.2 209.6,56.2 209.9,56.3 210.2,56.3 210.5,56.3 210.8,56.4 211.2,56.4 211.5,56.4 211.8,56.5 212.1,56.5 212.4,56.5 212.7,56.6 213.0,56.6 213.3,56.6 213.6,56.6 213.9,56.7 214.2,56.7 214.5,56.7 214.8,56.7 215.1,56.8 215.4,56.8 215.7,56.8 216.0,56.8 216.3,56.8 216.6,56.9 216.9,56.9 217.2,56.9 217.6,56.9 217.9,56.9 218.2,56.9 218.5,57.0 218.8,57.0 219.1,57.0 219.4,57.0 219.7,57.0 220.0,57.0 220.3,57.1 220.6,57.1 220.9,57.1 221.2,57.1 221.5,57.1 221.8,57.1 222.1,57.1 222.4,57.1 222.7,57.2 223.0,57.2 223.3,57.2 223.7,57.2 224.0,57.2 224.3,57.2 224.6,57.2 224.9,57.2 225.2,57.2 225.5,57.2 225.8,57.2 226.1,57.3 226.4,57.3 226.7,57.3 227.0,57.3 227.3,57.3 227.6,57.3 227.9,57.3 228.2,57.3 228.5,57.3 228.8,57.3 229.1,57.3 229.4,57.3 229.8,57.3 230.1,57.4 230.4,57.4 230.7,57.4 231.0,57.4 231.3,57.4 231.6,57.4 231.9,57.4 232.2,57.4 232.5,57.4 232.8,57.4 233.1,57.4 233.4,57.4 233.7,57.4 234.0,57.4 234.3,57.4 234.6,57.4 234.9,57.4 235.2,57.4 235.5,57.5" fill="none" stroke="#ff1010" stroke-width="1.3" stroke-linejoin="round" />
<line x1="144.4" y1="3.2" x2="144.4" y2="59.6" stroke="#000" stroke-width="1.3"/>
<line x1="143.8" y1="58.9" x2="236" y2="58.9" stroke="#000" stroke-width="1.3"/>
<line x1="144.4" y1="58.9" x2="146.6" y2="58.9" stroke="#000" stroke-width="0.9"/>
<text x="143.0" y="61.3" class="il" text-anchor="end" textLength="9.6" lengthAdjust="spacingAndGlyphs">0.0</text>
<line x1="144.4" y1="31.8" x2="146.6" y2="31.8" stroke="#000" stroke-width="0.9"/>
<text x="143.0" y="34.1" class="il" text-anchor="end" textLength="9.6" lengthAdjust="spacingAndGlyphs">0.5</text>
<line x1="144.4" y1="4.6" x2="146.6" y2="4.6" stroke="#000" stroke-width="0.9"/>
<text x="143.0" y="7.0" class="il" text-anchor="end" textLength="9.6" lengthAdjust="spacingAndGlyphs">1.0</text>
<line x1="144.4" y1="45.3" x2="145.8" y2="45.3" stroke="#000" stroke-width="0.8"/>
<line x1="144.4" y1="18.2" x2="145.8" y2="18.2" stroke="#000" stroke-width="0.8"/>
<line x1="157.0" y1="58.9" x2="157.0" y2="56.6" stroke="#000" stroke-width="0.9"/>
<text x="150.0" y="66.6" class="il" textLength="14.3" lengthAdjust="spacingAndGlyphs">23.8</text>
<line x1="188.6" y1="58.9" x2="188.6" y2="56.6" stroke="#000" stroke-width="0.9"/>
<text x="181.6" y="66.6" class="il" textLength="14.3" lengthAdjust="spacingAndGlyphs">24.5</text>
<line x1="220.2" y1="58.9" x2="220.2" y2="56.6" stroke="#000" stroke-width="0.9"/>
<text x="213.2" y="66.6" class="il" textLength="14.3" lengthAdjust="spacingAndGlyphs">25.2</text>
<line x1="172.8" y1="58.9" x2="172.8" y2="57.6" stroke="#000" stroke-width="0.8"/>
<line x1="204.4" y1="58.9" x2="204.4" y2="57.6" stroke="#000" stroke-width="0.8"/>
<text x="169" y="75.7" class="ia">2θ (deg)</text>
<text transform="translate(129.3,43.2) rotate(-90)" class="ia" textLength="43" lengthAdjust="spacingAndGlyphs">Int (a.u.)</text>
<line x1="46.8" y1="181" x2="46.8" y2="329.6" stroke="#000" stroke-width="1.1"/>
<line x1="98.1" y1="181" x2="98.1" y2="329.6" stroke="#000" stroke-width="1.1"/>
<line x1="149.7" y1="181" x2="149.7" y2="329.6" stroke="#000" stroke-width="1.1"/>
<line x1="201.3" y1="181" x2="201.3" y2="329.6" stroke="#000" stroke-width="1.1"/>
<polygon points="23.2,237.1 23.7,236.3 24.2,236.7 24.7,236.8 25.2,237.2 25.7,236.7 26.2,237.0 26.7,236.8 27.2,235.6 27.7,237.4 28.2,236.4 28.7,236.6 29.2,236.3 29.7,235.6 30.2,237.1 30.7,237.3 31.2,237.1 31.7,237.1 32.2,235.6 32.7,237.2 33.2,237.1 33.7,236.4 34.2,236.9 34.7,236.4 35.2,237.4 35.7,237.3 36.2,236.3 36.7,237.4 37.2,237.4 37.7,236.8 38.2,237.1 38.7,237.2 39.2,236.7 39.7,236.7 40.2,237.3 40.7,236.8 41.2,236.9 41.7,236.4 42.2,237.4 42.7,237.2 43.2,236.8 43.7,237.5 44.2,236.4 44.7,236.2 45.2,237.1 45.7,236.5 46.2,237.2 46.7,236.3 47.2,237.2 47.7,237.5 48.2,237.4 48.7,236.3 49.2,237.5 49.7,236.2 50.2,236.7 50.7,236.8 51.2,236.7 51.7,237.0 52.2,236.3 52.7,236.6 53.2,236.9 53.7,237.1 54.2,237.3 54.7,237.1 55.2,237.0 55.7,237.4 56.2,236.3 56.7,237.2 57.2,236.8 57.7,237.4 58.2,236.8 58.7,236.7 59.2,237.4 59.7,236.2 60.2,237.3 60.7,237.2 61.2,236.5 61.7,237.1 62.2,236.4 62.7,237.2 63.2,237.1 63.7,236.6 64.2,236.4 64.7,236.4 65.2,237.1 65.7,236.8 66.2,237.0 66.7,236.6 67.2,237.2 67.7,236.4 68.2,236.6 68.7,237.3 69.2,237.1 69.7,237.1 70.2,236.3 70.7,236.9 71.2,236.7 71.7,236.3 72.2,237.0 72.7,234.7 73.2,237.1 73.7,237.5 74.2,237.4 74.7,236.6 75.2,237.0 75.7,236.4 76.2,236.8 76.7,236.6 77.2,237.0 77.7,236.7 78.2,236.6 78.7,237.0 79.2,236.9 79.7,236.4 80.2,236.3 80.7,237.0 81.2,237.4 81.7,236.4 82.2,236.9 82.7,236.2 83.2,236.5 83.7,237.0 84.2,236.4 84.7,236.8 85.2,236.6 85.7,236.3 86.2,236.7 86.7,236.3 87.2,237.0 87.7,237.0 88.2,234.8 88.7,235.5 89.2,236.6 89.7,236.8 90.2,236.5 90.7,236.4 91.2,236.8 91.7,236.3 92.2,236.5 92.7,236.4 93.2,237.5 93.7,237.5 94.2,236.7 94.7,237.1 95.2,236.4 95.7,237.0 96.2,236.5 96.7,237.2 97.2,236.7 97.7,236.3 98.2,236.4 98.7,237.0 99.2,236.9 99.7,236.8 100.2,237.1 100.7,236.9 101.2,236.2 101.7,236.4 102.2,237.1 102.7,236.6 103.2,236.3 103.7,237.0 104.2,236.4 104.7,236.5 105.2,236.3 105.7,237.4 106.2,236.3 106.7,236.2 107.2,237.2 107.7,236.7 108.2,237.4 108.7,236.7 109.2,236.6 109.7,236.5 110.2,236.4 110.7,237.1 111.2,237.3 111.7,236.4 112.2,237.5 112.7,237.2 113.2,236.4 113.7,236.5 114.2,236.9 114.7,236.4 115.2,236.6 115.7,236.4 116.2,236.5 116.7,236.4 117.2,237.1 117.7,237.0 118.2,236.7 118.7,236.7 119.2,236.5 119.7,236.4 120.2,237.1 120.7,237.3 121.2,236.5 121.7,236.6 122.2,237.1 122.7,237.4 123.2,237.5 123.7,237.2 124.2,237.1 124.7,237.2 125.2,237.4 125.7,237.3 126.2,237.0 126.7,237.4 127.2,237.2 127.7,236.9 128.2,236.4 128.7,236.4 129.2,237.0 129.7,237.3 130.2,237.2 130.7,236.6 131.2,237.0 131.7,236.8 132.2,236.5 132.7,236.6 133.2,236.4 133.7,237.4 134.2,237.1 134.7,237.5 135.2,236.8 135.7,236.7 136.2,237.2 136.7,237.4 137.2,236.9 137.7,237.3 138.2,235.4 138.7,237.0 139.2,236.3 139.7,237.0 140.2,236.6 140.7,237.0 141.2,237.0 141.7,237.3 142.2,237.3 142.7,236.5 143.2,236.9 143.7,237.1 144.2,236.2 144.7,236.4 145.2,236.5 145.7,236.9 146.2,236.8 146.7,237.3 147.2,236.9 147.7,237.1 148.2,236.4 148.7,237.4 149.2,236.2 149.7,237.2 150.2,237.1 150.7,237.4 151.2,236.3 151.7,236.4 152.2,236.6 152.7,236.8 153.2,237.0 153.7,236.7 154.2,237.1 154.7,236.3 155.2,235.4 155.7,236.4 156.2,237.2 156.7,236.7 157.2,236.9 157.7,236.8 158.2,235.4 158.7,236.7 159.2,237.4 159.7,237.4 160.2,236.2 160.7,237.2 161.2,237.0 161.7,237.2 162.2,236.7 162.7,236.2 163.2,237.0 163.7,237.1 164.2,237.0 164.7,237.5 165.2,237.4 165.7,237.4 166.2,237.1 166.7,236.2 167.2,237.3 167.7,235.8 168.2,237.2 168.7,237.5 169.2,236.4 169.7,235.6 170.2,237.3 170.7,236.4 171.2,235.7 171.7,237.2 172.2,236.3 172.7,237.2 173.2,236.4 173.7,236.4 174.2,236.8 174.7,237.1 175.2,237.1 175.7,236.3 176.2,236.3 176.7,237.3 177.2,236.6 177.7,237.3 178.2,237.1 178.7,237.4 179.2,236.7 179.7,236.6 180.2,235.7 180.7,236.5 181.2,237.0 181.7,237.3 182.2,237.5 182.7,236.9 183.2,236.3 183.7,236.9 184.2,236.7 184.7,234.6 185.2,236.4 185.7,236.5 186.2,236.7 186.7,237.2 187.2,236.5 187.7,237.0 188.2,236.6 188.7,237.2 189.2,236.3 189.7,237.3 190.2,236.5 190.7,236.3 191.2,237.3 191.7,236.4 192.2,236.7 192.7,236.7 193.2,237.2 193.7,237.1 194.2,237.2 194.7,236.9 195.2,236.7 195.7,236.6 196.2,234.9 196.7,237.0 197.2,237.1 197.7,236.5 198.2,236.2 198.7,237.2 199.2,237.0 199.7,237.1 200.2,236.2 200.7,237.5 201.2,236.3 201.7,236.5 202.2,237.1 202.7,236.0 203.2,237.0 203.7,236.7 204.2,236.9 204.7,236.3 205.2,236.9 205.7,235.2 206.2,236.8 206.7,237.0 207.2,236.2 207.7,235.7 208.2,235.3 208.7,236.2 209.2,236.4 209.7,236.7 210.2,236.7 210.7,236.3 211.2,236.9 211.7,236.4 212.2,236.5 212.7,236.4 213.2,236.9 213.7,236.7 214.2,237.4 214.7,237.4 215.2,237.4 215.7,236.5 216.2,237.0 216.7,236.3 217.2,237.4 217.7,237.3 218.2,236.4 218.7,237.0 219.2,237.2 219.7,236.5 220.2,237.2 220.7,236.2 221.2,237.1 221.7,236.4 222.2,236.9 222.7,236.3 223.2,237.1 223.7,236.3 224.2,237.1 224.7,236.9 225.2,236.7 225.7,236.8 226.2,236.6 226.7,236.6 227.2,237.2 227.7,236.9 228.2,236.6 228.7,236.7 229.2,236.8 229.7,236.9 230.2,236.3 230.2,247.8 229.7,243.9 229.2,243.1 228.7,243.8 228.2,243.1 227.7,244.0 227.2,243.1 226.7,243.0 226.2,243.5 225.7,249.2 225.2,243.8 224.7,244.2 224.2,243.8 223.7,250.2 223.2,244.0 222.7,243.3 222.2,244.0 221.7,243.6 221.2,244.0 220.7,249.7 220.2,243.2 219.7,251.2 219.2,243.4 218.7,243.5 218.2,243.5 217.7,244.0 217.2,249.2 216.7,244.2 216.2,243.0 215.7,243.9 215.2,243.4 214.7,246.4 214.2,243.8 213.7,245.6 213.2,243.9 212.7,243.6 212.2,243.8 211.7,244.0 211.2,243.5 210.7,243.9 210.2,243.2 209.7,242.9 209.2,243.4 208.7,248.5 208.2,243.8 207.7,244.1 207.2,244.0 206.7,243.5 206.2,250.4 205.7,244.2 205.2,249.1 204.7,243.8 204.2,246.5 203.7,243.6 203.2,243.4 202.7,243.8 202.2,243.1 201.7,243.5 201.2,244.2 200.7,243.2 200.2,243.0 199.7,243.1 199.2,243.9 198.7,243.0 198.2,242.9 197.7,243.4 197.2,250.5 196.7,243.5 196.2,243.4 195.7,243.5 195.2,242.9 194.7,243.8 194.2,242.9 193.7,244.1 193.2,243.2 192.7,244.1 192.2,244.1 191.7,243.3 191.2,243.0 190.7,243.4 190.2,243.5 189.7,243.4 189.2,244.1 188.7,243.6 188.2,243.2 187.7,243.2 187.2,244.0 186.7,243.0 186.2,243.9 185.7,242.9 185.2,243.4 184.7,243.6 184.2,243.6 183.7,243.4 183.2,243.4 182.7,244.0 182.2,243.3 181.7,243.4 181.2,243.2 180.7,243.2 180.2,244.1 179.7,246.1 179.2,243.7 178.7,243.4 178.2,245.2 177.7,243.7 177.2,243.5 176.7,244.2 176.2,243.0 175.7,243.3 175.2,249.9 174.7,243.7 174.2,242.9 173.7,243.7 173.2,243.9 172.7,243.0 172.2,243.1 171.7,247.8 171.2,244.1 170.7,243.3 170.2,243.0 169.7,243.1 169.2,243.1 168.7,244.2 168.2,244.0 167.7,243.9 167.2,243.2 166.7,244.0 166.2,243.2 165.7,247.3 165.2,243.6 164.7,242.9 164.2,244.0 163.7,243.4 163.2,243.7 162.7,251.1 162.2,243.2 161.7,248.2 161.2,243.8 160.7,243.4 160.2,243.6 159.7,243.7 159.2,243.4 158.7,243.2 158.2,243.1 157.7,243.4 157.2,243.3 156.7,243.2 156.2,244.1 155.7,243.1 155.2,243.3 154.7,243.3 154.2,246.0 153.7,243.3 153.2,243.5 152.7,243.3 152.2,243.9 151.7,243.1 151.2,243.7 150.7,248.1 150.2,246.2 149.7,249.3 149.2,250.4 148.7,246.7 148.2,243.1 147.7,243.1 147.2,249.1 146.7,243.1 146.2,243.1 145.7,243.9 145.2,244.2 144.7,243.6 144.2,243.1 143.7,243.3 143.2,243.3 142.7,243.7 142.2,243.9 141.7,243.2 141.2,250.1 140.7,243.9 140.2,243.7 139.7,243.6 139.2,244.0 138.7,244.1 138.2,243.1 137.7,248.5 137.2,243.1 136.7,243.5 136.2,243.7 135.7,243.8 135.2,243.9 134.7,251.2 134.2,246.5 133.7,243.1 133.2,242.9 132.7,243.2 132.2,249.5 131.7,243.0 131.2,243.3 130.7,243.3 130.2,250.8 129.7,243.0 129.2,243.9 128.7,243.7 128.2,243.1 127.7,243.0 127.2,244.0 126.7,243.7 126.2,243.8 125.7,250.6 125.2,243.5 124.7,243.3 124.2,251.2 123.7,244.0 123.2,246.2 122.7,249.8 122.2,244.1 121.7,243.6 121.2,243.9 120.7,248.6 120.2,243.7 119.7,243.7 119.2,243.4 118.7,243.6 118.2,242.9 117.7,243.9 117.2,243.0 116.7,243.2 116.2,248.9 115.7,243.3 115.2,245.1 114.7,243.6 114.2,243.2 113.7,243.6 113.2,250.2 112.7,244.1 112.2,245.8 111.7,243.1 111.2,244.1 110.7,243.1 110.2,243.5 109.7,244.2 109.2,243.3 108.7,244.0 108.2,243.4 107.7,242.9 107.2,243.8 106.7,243.0 106.2,243.8 105.7,248.3 105.2,251.0 104.7,244.9 104.2,246.5 103.7,243.9 103.2,243.4 102.7,243.9 102.2,244.1 101.7,243.0 101.2,244.2 100.7,243.1 100.2,250.6 99.7,243.6 99.2,244.0 98.7,244.0 98.2,243.9 97.7,243.4 97.2,243.3 96.7,243.6 96.2,243.6 95.7,243.4 95.2,243.8 94.7,243.1 94.2,249.6 93.7,249.7 93.2,245.4 92.7,243.8 92.2,243.0 91.7,243.5 91.2,243.1 90.7,247.6 90.2,243.3 89.7,243.0 89.2,243.1 88.7,243.0 88.2,243.9 87.7,244.1 87.2,249.2 86.7,249.9 86.2,244.1 85.7,243.6 85.2,249.8 84.7,247.0 84.2,243.2 83.7,243.3 83.2,250.0 82.7,243.4 82.2,243.8 81.7,243.5 81.2,244.1 80.7,244.2 80.2,243.3 79.7,244.8 79.2,244.0 78.7,243.0 78.2,244.0 77.7,244.1 77.2,243.1 76.7,243.1 76.2,246.9 75.7,243.2 75.2,243.5 74.7,242.9 74.2,243.8 73.7,246.8 73.2,244.0 72.7,243.6 72.2,243.0 71.7,243.7 71.2,243.1 70.7,243.1 70.2,243.2 69.7,247.5 69.2,243.6 68.7,243.2 68.2,243.4 67.7,243.1 67.2,243.8 66.7,243.7 66.2,243.0 65.7,248.7 65.2,244.2 64.7,243.3 64.2,242.9 63.7,245.6 63.2,251.1 62.7,243.0 62.2,251.3 61.7,244.8 61.2,243.3 60.7,243.2 60.2,243.5 59.7,243.7 59.2,243.2 58.7,248.3 58.2,244.1 57.7,248.2 57.2,243.9 56.7,243.6 56.2,243.5 55.7,243.4 55.2,243.3 54.7,243.2 54.2,243.3 53.7,243.5 53.2,245.1 52.7,243.9 52.2,243.4 51.7,244.0 51.2,249.2 50.7,244.0 50.2,250.6 49.7,244.2 49.2,248.5 48.7,243.4 48.2,243.5 47.7,243.0 47.2,245.9 46.7,243.0 46.2,244.0 45.7,243.6 45.2,243.9 44.7,243.6 44.2,248.5 43.7,243.6 43.2,243.3 42.7,244.0 42.2,244.1 41.7,243.9 41.2,243.6 40.7,243.7 40.2,251.0 39.7,243.8 39.2,244.2 38.7,246.9 38.2,243.4 37.7,243.5 37.2,244.1 36.7,248.2 36.2,243.2 35.7,243.4 35.2,243.3 34.7,248.1 34.2,243.9 33.7,243.9 33.2,243.8 32.7,243.7 32.2,248.8 31.7,249.0 31.2,251.2 30.7,248.0 30.2,249.8 29.7,243.9 29.2,244.0 28.7,243.3 28.2,243.4 27.7,243.4 27.2,243.1 26.7,243.2 26.2,243.3 25.7,249.7 25.2,244.0 24.7,243.2 24.2,243.8 23.7,247.0 23.2,243.4" fill="#000" stroke="#000" stroke-width="0.4" stroke-linejoin="round"/>
<polygon points="23.2,235.7 23.7,236.0 24.2,235.8 24.7,235.6 25.2,235.9 25.7,235.7 26.2,235.6 26.7,235.9 27.2,235.6 27.7,235.9 28.2,235.5 28.7,235.8 29.2,235.7 29.7,235.5 30.2,235.6 30.7,235.8 31.2,235.9 31.7,235.7 32.2,235.7 32.7,236.0 33.2,235.8 33.7,235.5 34.2,235.7 34.7,235.9 35.2,235.7 35.7,234.3 36.2,235.5 36.7,235.8 37.2,236.0 37.7,235.9 38.2,235.9 38.7,235.5 39.2,235.8 39.7,235.8 40.2,235.5 40.7,235.9 41.2,235.7 41.7,235.5 42.2,235.5 42.7,235.9 43.2,235.8 43.7,235.9 44.2,235.7 44.7,235.9 45.2,235.9 45.7,235.9 46.2,235.9 46.7,235.6 47.2,235.9 47.7,235.8 48.2,235.9 48.7,235.8 49.2,235.8 49.7,235.8 50.2,235.6 50.7,235.9 51.2,235.0 51.7,235.8 52.2,236.0 52.7,235.9 53.2,235.5 53.7,236.0 54.2,235.9 54.7,235.6 55.2,236.0 55.7,235.9 56.2,235.9 56.7,235.6 57.2,235.9 57.7,235.5 58.2,235.9 58.7,235.7 59.2,235.6 59.7,235.7 60.2,235.7 60.7,235.8 61.2,235.9 61.7,235.5 62.2,235.8 62.7,235.7 63.2,235.1 63.7,235.5 64.2,235.9 64.7,235.9 65.2,235.6 65.7,235.7 66.2,235.7 66.7,235.7 67.2,235.6 67.7,235.6 68.2,235.6 68.7,236.0 69.2,235.6 69.7,236.0 70.2,235.6 70.7,236.0 71.2,235.6 71.7,234.4 72.2,236.0 72.7,235.6 73.2,235.7 73.7,235.9 74.2,235.6 74.7,235.7 75.2,235.8 75.7,235.5 76.2,235.9 76.7,235.3 77.2,235.6 77.7,235.9 78.2,235.6 78.7,235.9 79.2,235.6 79.7,235.8 80.2,235.7 80.7,235.7 81.2,235.8 81.7,235.7 82.2,235.7 82.7,235.9 83.2,235.5 83.7,235.6 84.2,235.9 84.7,235.9 85.2,235.8 85.7,235.6 86.2,235.7 86.7,235.8 87.2,235.6 87.7,235.9 88.2,235.6 88.7,235.6 89.2,235.9 89.7,235.7 90.2,235.7 90.7,235.5 91.2,235.9 91.7,235.8 92.2,235.5 92.7,235.9 93.2,235.6 93.7,235.8 94.2,235.8 94.7,235.5 95.2,235.8 95.7,235.9 96.2,235.9 96.7,235.7 97.2,235.7 97.7,235.9 98.2,235.8 98.7,235.9 99.2,235.6 99.7,235.8 100.2,235.7 100.7,233.9 101.2,235.9 101.7,235.5 102.2,235.8 102.7,235.7 103.2,235.9 103.7,235.7 104.2,235.6 104.7,235.7 105.2,235.6 105.7,235.8 106.2,236.0 106.7,235.5 107.2,235.7 107.7,235.7 108.2,235.7 108.7,236.0 109.2,235.9 109.7,236.0 110.2,235.7 110.7,235.6 111.2,235.7 111.7,235.6 112.2,235.8 112.7,236.0 113.2,235.8 113.7,235.9 114.2,235.8 114.7,235.9 115.2,235.9 115.7,235.7 116.2,235.7 116.7,235.6 117.2,235.5 117.7,235.9 118.2,235.5 118.7,235.6 119.2,235.7 119.7,234.5 120.2,235.7 120.7,236.0 121.2,235.9 121.7,235.8 122.2,235.7 122.7,235.7 123.2,235.7 123.7,236.0 124.2,235.9 124.7,235.7 125.2,235.7 125.7,235.8 126.2,235.9 126.7,235.8 127.2,235.6 127.7,235.6 128.2,234.9 128.7,235.5 129.2,236.0 129.7,235.9 130.2,235.8 130.7,235.6 131.2,235.7 131.7,235.7 132.2,234.1 132.7,235.8 133.2,235.9 133.7,235.8 134.2,235.7 134.7,235.9 135.2,236.0 135.7,235.6 136.2,235.5 136.7,235.5 137.2,235.8 137.7,235.8 138.2,235.6 138.7,235.5 139.2,235.8 139.7,235.5 140.2,235.7 140.7,235.9 141.2,235.8 141.7,236.0 142.2,235.8 142.7,235.7 143.2,235.6 143.7,235.8 144.2,235.7 144.7,235.7 145.2,235.7 145.7,235.7 146.2,235.8 146.7,235.7 147.2,235.8 147.7,235.5 148.2,234.0 148.7,235.6 149.2,235.6 149.7,236.0 150.2,235.6 150.7,234.9 151.2,235.7 151.7,234.9 152.2,234.6 152.7,235.8 153.2,235.7 153.7,235.9 154.2,236.0 154.7,235.7 155.2,235.5 155.7,234.3 156.2,235.5 156.7,235.8 157.2,235.7 157.7,235.9 158.2,235.7 158.7,235.8 159.2,235.6 159.7,235.9 160.2,235.8 160.7,235.7 161.2,235.9 161.7,235.5 162.2,235.7 162.7,235.5 163.2,235.9 163.7,235.6 164.2,235.9 164.7,236.0 165.2,235.8 165.7,235.8 166.2,235.7 166.7,235.8 167.2,235.9 167.7,235.7 168.2,235.9 168.7,235.9 169.2,235.6 169.7,235.7 170.2,235.6 170.7,233.6 171.2,235.6 171.7,235.2 172.2,235.5 172.7,235.7 173.2,235.7 173.7,235.3 174.2,235.8 174.7,235.7 175.2,236.0 175.7,235.6 176.2,235.8 176.7,235.7 177.2,235.6 177.7,235.7 178.2,236.0 178.7,235.7 179.2,235.8 179.7,235.6 180.2,235.6 180.7,235.7 181.2,235.6 181.7,235.9 182.2,235.6 182.7,235.5 183.2,235.5 183.7,235.6 184.2,235.8 184.7,235.5 185.2,235.7 185.7,235.9 186.2,235.7 186.7,235.6 187.2,235.7 187.7,235.6 188.2,236.0 188.7,235.5 189.2,235.5 189.7,235.7 190.2,235.5 190.7,235.9 191.2,235.8 191.7,235.9 192.2,235.7 192.7,235.5 193.2,235.5 193.7,236.0 194.2,235.6 194.7,234.8 195.2,235.9 195.7,235.6 196.2,235.7 196.7,236.0 197.2,235.8 197.7,235.7 198.2,235.6 198.7,235.9 199.2,234.7 199.7,236.0 200.2,235.5 200.7,236.0 201.2,235.5 201.7,235.7 202.2,235.6 202.7,234.0 203.2,235.7 203.7,235.8 204.2,235.9 204.7,235.9 205.2,236.0 205.7,235.9 206.2,235.7 206.7,235.7 207.2,235.7 207.7,235.7 208.2,235.5 208.7,235.6 209.2,235.9 209.7,235.7 210.2,235.5 210.7,235.9 211.2,235.6 211.7,235.7 212.2,235.7 212.7,235.7 213.2,235.6 213.7,235.8 214.2,235.5 214.7,235.7 215.2,235.8 215.7,235.7 216.2,235.7 216.7,235.5 217.2,235.7 217.7,235.7 218.2,235.8 218.7,234.3 219.2,235.9 219.7,235.7 220.2,235.6 220.7,235.7 221.2,235.9 221.7,236.0 222.2,235.6 222.7,235.9 223.2,235.7 223.7,235.5 224.2,235.5 224.7,235.7 225.2,235.5 225.7,235.8 226.2,235.5 226.7,235.7 227.2,236.0 227.7,235.6 228.2,235.9 228.7,233.9 229.2,236.0 229.7,235.6 230.2,235.9 230.2,237.0 229.7,236.6 229.2,236.7 228.7,237.0 228.2,237.0 227.7,237.0 227.2,236.8 226.7,236.9 226.2,237.1 225.7,236.6 225.2,236.9 224.7,236.6 224.2,236.9 223.7,237.1 223.2,236.7 222.7,237.0 222.2,236.9 221.7,236.8 221.2,237.1 220.7,236.7 220.2,236.8 219.7,237.1 219.2,236.6 218.7,237.0 218.2,237.1 217.7,236.8 217.2,236.9 216.7,237.0 216.2,236.7 215.7,236.8 215.2,237.1 214.7,236.8 214.2,236.7 213.7,236.8 213.2,237.1 212.7,237.1 212.2,236.8 211.7,236.7 211.2,236.8 210.7,236.7 210.2,237.1 209.7,236.8 209.2,237.1 208.7,236.9 208.2,236.9 207.7,236.9 207.2,237.0 206.7,236.6 206.2,236.8 205.7,236.9 205.2,236.9 204.7,236.6 204.2,236.8 203.7,236.6 203.2,237.1 202.7,236.9 202.2,236.7 201.7,236.7 201.2,236.9 200.7,236.7 200.2,236.7 199.7,237.0 199.2,236.7 198.7,236.9 198.2,237.0 197.7,237.0 197.2,237.0 196.7,236.8 196.2,236.9 195.7,236.9 195.2,236.7 194.7,236.8 194.2,236.9 193.7,236.8 193.2,236.8 192.7,237.1 192.2,236.8 191.7,237.0 191.2,236.6 190.7,237.0 190.2,237.1 189.7,236.7 189.2,236.6 188.7,236.8 188.2,236.8 187.7,236.6 187.2,236.6 186.7,237.0 186.2,236.6 185.7,237.0 185.2,236.7 184.7,236.8 184.2,237.1 183.7,237.1 183.2,236.7 182.7,236.7 182.2,236.8 181.7,237.0 181.2,236.6 180.7,236.9 180.2,236.9 179.7,236.7 179.2,236.9 178.7,236.7 178.2,237.0 177.7,236.8 177.2,236.7 176.7,236.8 176.2,236.9 175.7,236.6 175.2,237.0 174.7,236.8 174.2,236.8 173.7,236.9 173.2,236.7 172.7,236.9 172.2,236.6 171.7,236.7 171.2,236.8 170.7,236.9 170.2,236.7 169.7,237.1 169.2,236.9 168.7,236.9 168.2,236.8 167.7,237.0 167.2,236.8 166.7,236.6 166.2,236.9 165.7,236.8 165.2,236.9 164.7,237.0 164.2,236.8 163.7,237.0 163.2,237.0 162.7,237.1 162.2,237.1 161.7,236.7 161.2,236.7 160.7,236.9 160.2,237.0 159.7,237.0 159.2,236.7 158.7,236.9 158.2,236.8 157.7,236.8 157.2,236.9 156.7,237.0 156.2,237.0 155.7,236.6 155.2,236.6 154.7,236.7 154.2,237.0 153.7,237.0 153.2,236.7 152.7,236.8 152.2,236.6 151.7,237.1 151.2,236.7 150.7,236.9 150.2,236.6 149.7,236.6 149.2,236.7 148.7,236.8 148.2,237.0 147.7,236.7 147.2,236.6 146.7,237.0 146.2,236.6 145.7,236.7 145.2,236.7 144.7,237.0 144.2,237.0 143.7,236.8 143.2,237.0 142.7,237.1 142.2,236.8 141.7,236.9 141.2,236.7 140.7,236.9 140.2,237.0 139.7,237.1 139.2,237.0 138.7,236.6 138.2,237.0 137.7,237.0 137.2,236.7 136.7,236.7 136.2,236.9 135.7,236.8 135.2,237.0 134.7,236.7 134.2,236.9 133.7,236.9 133.2,236.8 132.7,236.9 132.2,237.0 131.7,237.0 131.2,237.1 130.7,237.1 130.2,236.6 129.7,237.0 129.2,236.6 128.7,236.9 128.2,236.8 127.7,236.8 127.2,237.1 126.7,236.9 126.2,236.8 125.7,236.9 125.2,237.0 124.7,236.7 124.2,237.1 123.7,236.9 123.2,236.6 122.7,237.1 122.2,236.9 121.7,236.8 121.2,236.7 120.7,237.1 120.2,236.9 119.7,236.9 119.2,237.0 118.7,236.7 118.2,236.9 117.7,236.6 117.2,236.6 116.7,236.9 116.2,236.7 115.7,236.8 115.2,236.9 114.7,237.0 114.2,237.1 113.7,236.9 113.2,236.8 112.7,236.8 112.2,236.8 111.7,236.6 111.2,236.7 110.7,236.7 110.2,236.8 109.7,237.0 109.2,236.8 108.7,236.9 108.2,236.7 107.7,237.0 107.2,237.1 106.7,236.9 106.2,236.7 105.7,236.7 105.2,236.7 104.7,237.0 104.2,236.8 103.7,237.0 103.2,237.0 102.7,237.1 102.2,237.0 101.7,236.8 101.2,236.8 100.7,237.0 100.2,236.8 99.7,236.7 99.2,237.1 98.7,236.9 98.2,237.0 97.7,237.1 97.2,236.7 96.7,236.7 96.2,236.9 95.7,236.9 95.2,236.7 94.7,236.6 94.2,236.9 93.7,237.0 93.2,236.6 92.7,237.1 92.2,236.7 91.7,236.7 91.2,236.8 90.7,236.7 90.2,236.7 89.7,237.1 89.2,236.7 88.7,236.8 88.2,237.0 87.7,236.9 87.2,236.6 86.7,236.7 86.2,236.9 85.7,236.7 85.2,236.9 84.7,236.6 84.2,236.7 83.7,237.1 83.2,236.8 82.7,236.7 82.2,236.9 81.7,237.0 81.2,236.7 80.7,236.6 80.2,236.6 79.7,237.0 79.2,236.6 78.7,236.6 78.2,236.9 77.7,236.7 77.2,237.0 76.7,237.1 76.2,237.0 75.7,236.8 75.2,236.7 74.7,237.1 74.2,236.8 73.7,236.9 73.2,237.1 72.7,236.7 72.2,236.7 71.7,236.8 71.2,236.6 70.7,236.7 70.2,236.9 69.7,236.8 69.2,236.9 68.7,236.8 68.2,236.9 67.7,237.1 67.2,237.0 66.7,236.8 66.2,236.8 65.7,236.8 65.2,237.1 64.7,237.0 64.2,237.0 63.7,236.8 63.2,236.8 62.7,237.0 62.2,237.1 61.7,237.1 61.2,236.9 60.7,236.8 60.2,236.9 59.7,236.9 59.2,236.7 58.7,236.6 58.2,236.7 57.7,237.0 57.2,236.7 56.7,236.9 56.2,237.0 55.7,236.7 55.2,237.0 54.7,236.8 54.2,236.9 53.7,237.1 53.2,236.9 52.7,236.9 52.2,236.8 51.7,236.8 51.2,236.7 50.7,236.9 50.2,236.7 49.7,237.0 49.2,236.9 48.7,237.0 48.2,236.7 47.7,236.8 47.2,236.9 46.7,236.7 46.2,236.6 45.7,236.7 45.2,236.8 44.7,236.7 44.2,236.8 43.7,237.0 43.2,236.8 42.7,236.7 42.2,236.9 41.7,237.1 41.2,236.9 40.7,236.9 40.2,237.1 39.7,236.6 39.2,237.0 38.7,237.1 38.2,236.9 37.7,236.6 37.2,236.9 36.7,236.7 36.2,237.1 35.7,236.9 35.2,236.9 34.7,236.7 34.2,237.1 33.7,236.9 33.2,236.8 32.7,236.9 32.2,236.7 31.7,237.0 31.2,237.1 30.7,236.7 30.2,236.8 29.7,236.7 29.2,236.8 28.7,236.9 28.2,237.0 27.7,236.9 27.2,236.9 26.7,236.9 26.2,237.0 25.7,236.6 25.2,236.6 24.7,236.6 24.2,237.1 23.7,236.8 23.2,236.8" fill="#ff1010" stroke="#ff1010" stroke-width="0.4" stroke-linejoin="round"/>
<polygon points="72.3,237.0 72.3,234.9 72.4,234.1 72.5,233.0 72.6,231.7 72.7,230.3 72.8,229.0 72.9,228.0 73.0,227.7 73.1,228.0 73.2,229.0 73.3,230.3 73.4,231.7 73.5,233.0 73.6,234.1 73.7,234.9 73.7,237.0" fill="#ff1010" stroke="#ff1010" stroke-width="1.0" stroke-linejoin="round"/>
<polygon points="124.0,237.0 124.0,234.9 124.1,234.0 124.2,232.6 124.3,230.7 124.4,228.4 124.5,225.9 124.6,223.6 124.7,222.0 124.8,221.4 124.9,222.0 125.0,223.6 125.1,225.9 125.2,228.4 125.3,230.7 125.4,232.6 125.5,234.0 125.6,234.9 125.6,237.0" fill="#ff1010" stroke="#ff1010" stroke-width="1.0" stroke-linejoin="round"/>
<polygon points="174.5,237.0 174.5,235.1 174.6,234.3 174.7,233.1 174.8,231.4 174.9,229.3 175.0,227.1 175.1,225.1 175.2,223.7 175.3,223.2 175.4,223.7 175.5,225.1 175.6,227.1 175.7,229.3 175.8,231.4 175.9,233.1 176.0,234.3 176.1,235.1 176.1,237.0" fill="#ff1010" stroke="#ff1010" stroke-width="1.0" stroke-linejoin="round"/>
<polygon points="226.0,237.0 226.0,235.1 226.1,234.4 226.2,233.2 226.3,231.7 226.4,229.8 226.5,227.7 226.6,225.8 226.7,224.5 226.8,224.0 226.9,224.5 227.0,225.8 227.1,227.7 227.2,229.8 227.3,231.7 227.4,233.2 227.5,234.4 227.6,235.1 227.6,237.0" fill="#ff1010" stroke="#ff1010" stroke-width="1.0" stroke-linejoin="round"/>
<polygon points="23.2,307.5 23.7,307.8 24.2,308.7 24.7,308.3 25.2,307.8 25.7,308.6 26.2,307.6 26.7,307.5 27.2,307.7 27.7,307.6 28.2,307.9 28.7,307.6 29.2,308.1 29.7,308.2 30.2,307.8 30.7,308.1 31.2,308.3 31.7,307.4 32.2,308.1 32.7,308.2 33.2,307.7 33.7,307.7 34.2,307.7 34.7,307.6 35.2,308.2 35.7,308.2 36.2,307.6 36.7,308.5 37.2,307.8 37.7,308.0 38.2,307.8 38.7,307.8 39.2,307.8 39.7,308.4 40.2,308.7 40.7,307.0 41.2,307.5 41.7,308.0 42.2,307.8 42.7,308.6 43.2,308.1 43.7,307.9 44.2,306.2 44.7,308.4 45.2,308.6 45.7,307.5 46.2,307.6 46.7,308.5 47.2,307.6 47.7,307.6 48.2,308.5 48.7,307.7 49.2,308.2 49.7,308.3 50.2,308.5 50.7,307.9 51.2,306.6 51.7,308.0 52.2,308.6 52.7,307.7 53.2,308.3 53.7,308.4 54.2,306.4 54.7,308.5 55.2,307.5 55.7,307.9 56.2,307.7 56.7,308.3 57.2,308.1 57.7,308.4 58.2,307.0 58.7,308.2 59.2,307.7 59.7,308.0 60.2,307.6 60.7,308.6 61.2,308.3 61.7,308.7 62.2,307.5 62.7,308.6 63.2,308.0 63.7,306.8 64.2,308.4 64.7,307.4 65.2,307.4 65.7,308.4 66.2,308.5 66.7,307.9 67.2,308.0 67.7,307.9 68.2,307.9 68.7,307.5 69.2,307.7 69.7,308.3 70.2,307.7 70.7,308.1 71.2,307.4 71.7,306.9 72.2,308.7 72.7,307.5 73.2,308.3 73.7,307.6 74.2,307.9 74.7,307.7 75.2,307.7 75.7,307.5 76.2,307.6 76.7,307.9 77.2,308.3 77.7,308.1 78.2,308.3 78.7,307.0 79.2,308.1 79.7,308.1 80.2,308.3 80.7,308.3 81.2,308.3 81.7,308.5 82.2,307.9 82.7,308.6 83.2,308.4 83.7,308.5 84.2,307.8 84.7,308.3 85.2,308.6 85.7,307.6 86.2,308.1 86.7,307.7 87.2,308.3 87.7,308.2 88.2,308.0 88.7,308.6 89.2,307.4 89.7,308.5 90.2,307.5 90.7,307.8 91.2,307.7 91.7,308.4 92.2,307.5 92.7,308.0 93.2,306.3 93.7,308.4 94.2,308.5 94.7,306.6 95.2,307.4 95.7,308.2 96.2,307.8 96.7,307.8 97.2,307.3 97.7,308.1 98.2,308.0 98.7,308.2 99.2,307.7 99.7,308.2 100.2,308.0 100.7,308.5 101.2,307.4 101.7,308.6 102.2,307.8 102.7,307.8 103.2,308.3 103.7,307.4 104.2,308.7 104.7,308.3 105.2,308.3 105.7,307.9 106.2,307.9 106.7,307.8 107.2,307.6 107.7,308.7 108.2,308.0 108.7,308.2 109.2,307.2 109.7,308.0 110.2,308.2 110.7,308.7 111.2,308.3 111.7,308.1 112.2,308.3 112.7,308.2 113.2,306.8 113.7,308.3 114.2,307.6 114.7,308.2 115.2,308.1 115.7,308.1 116.2,307.5 116.7,306.6 117.2,307.4 117.7,308.7 118.2,307.5 118.7,308.4 119.2,307.5 119.7,308.6 120.2,307.6 120.7,307.9 121.2,307.8 121.7,308.2 122.2,308.2 122.7,308.5 123.2,308.5 123.7,307.9 124.2,308.3 124.7,308.7 125.2,308.5 125.7,308.5 126.2,308.4 126.7,308.1 127.2,307.5 127.7,307.9 128.2,307.7 128.7,308.6 129.2,307.8 129.7,307.6 130.2,307.4 130.7,307.8 131.2,307.9 131.7,307.4 132.2,308.5 132.7,307.7 133.2,307.8 133.7,307.8 134.2,308.2 134.7,308.6 135.2,308.5 135.7,307.8 136.2,308.3 136.7,307.5 137.2,308.5 137.7,307.6 138.2,308.1 138.7,308.3 139.2,308.4 139.7,306.9 140.2,308.2 140.7,308.4 141.2,308.4 141.7,307.4 142.2,308.2 142.7,307.9 143.2,307.8 143.7,308.3 144.2,307.5 144.7,308.3 145.2,308.5 145.7,307.1 146.2,308.4 146.7,308.6 147.2,307.9 147.7,308.0 148.2,308.7 148.7,307.5 149.2,307.8 149.7,308.0 150.2,307.5 150.7,308.0 151.2,308.5 151.7,307.7 152.2,307.5 152.7,308.6 153.2,306.6 153.7,308.4 154.2,307.5 154.7,308.0 155.2,307.7 155.7,308.4 156.2,307.9 156.7,307.8 157.2,307.7 157.7,308.6 158.2,308.1 158.7,308.5 159.2,308.5 159.7,308.5 160.2,308.5 160.7,307.5 161.2,308.0 161.7,308.4 162.2,308.1 162.7,308.6 163.2,308.4 163.7,307.9 164.2,307.8 164.7,307.9 165.2,307.4 165.7,307.4 166.2,307.6 166.7,308.1 167.2,307.7 167.7,308.4 168.2,307.6 168.7,307.3 169.2,307.4 169.7,308.7 170.2,307.7 170.7,308.0 171.2,307.6 171.7,308.0 172.2,307.6 172.7,307.8 173.2,307.9 173.7,307.5 174.2,307.5 174.7,307.5 175.2,308.0 175.7,307.8 176.2,307.8 176.7,308.2 177.2,308.0 177.7,307.4 178.2,308.1 178.7,307.5 179.2,308.7 179.7,308.0 180.2,307.8 180.7,307.5 181.2,308.6 181.7,307.7 182.2,307.7 182.7,308.2 183.2,308.6 183.7,307.6 184.2,307.7 184.7,307.6 185.2,307.6 185.7,308.4 186.2,307.9 186.7,308.1 187.2,308.2 187.7,308.2 188.2,307.8 188.7,307.4 189.2,308.1 189.7,308.2 190.2,307.9 190.7,307.9 191.2,308.2 191.7,307.9 192.2,307.8 192.7,307.7 193.2,308.5 193.7,306.5 194.2,308.2 194.7,307.6 195.2,307.9 195.7,307.6 196.2,307.6 196.7,308.4 197.2,308.6 197.7,307.7 198.2,308.6 198.7,307.5 199.2,307.8 199.7,306.5 200.2,307.8 200.7,308.5 201.2,307.9 201.7,307.5 202.2,308.7 202.7,306.9 203.2,308.3 203.7,308.2 204.2,307.5 204.7,307.7 205.2,308.2 205.7,307.4 206.2,308.7 206.7,307.8 207.2,308.0 207.7,306.3 208.2,308.7 208.7,308.3 209.2,308.1 209.7,308.6 210.2,307.9 210.7,307.6 211.2,306.8 211.7,308.5 212.2,308.0 212.7,307.4 213.2,308.6 213.7,307.8 214.2,308.3 214.7,307.5 215.2,307.9 215.7,307.5 216.2,308.6 216.7,307.9 217.2,308.2 217.7,308.6 218.2,308.2 218.7,307.7 219.2,307.9 219.7,307.9 220.2,308.3 220.7,308.0 221.2,308.1 221.7,307.5 222.2,307.6 222.7,308.1 223.2,308.0 223.7,308.3 224.2,308.0 224.7,308.5 225.2,307.4 225.7,308.2 226.2,308.7 226.7,308.3 227.2,307.5 227.7,308.3 228.2,308.2 228.7,305.8 229.2,307.7 229.7,308.2 230.2,308.5 230.2,317.5 229.7,317.2 229.2,322.0 228.7,317.5 228.2,316.7 227.7,316.6 227.2,319.5 226.7,317.2 226.2,321.6 225.7,317.7 225.2,317.6 224.7,316.7 224.2,316.7 223.7,316.8 223.2,316.6 222.7,321.8 222.2,317.1 221.7,317.4 221.2,316.6 220.7,317.3 220.2,317.6 219.7,321.0 219.2,320.0 218.7,316.8 218.2,317.6 217.7,316.9 217.2,317.0 216.7,317.6 216.2,317.5 215.7,317.2 215.2,317.2 214.7,317.2 214.2,319.8 213.7,316.6 213.2,317.6 212.7,317.0 212.2,317.0 211.7,317.6 211.2,317.8 210.7,317.0 210.2,319.7 209.7,317.7 209.2,317.4 208.7,317.0 208.2,317.1 207.7,317.6 207.2,319.1 206.7,317.3 206.2,316.5 205.7,317.0 205.2,317.0 204.7,317.3 204.2,316.9 203.7,317.1 203.2,317.2 202.7,317.0 202.2,321.1 201.7,322.3 201.2,317.7 200.7,317.7 200.2,316.6 199.7,322.2 199.2,316.8 198.7,317.2 198.2,323.1 197.7,317.5 197.2,320.7 196.7,322.1 196.2,317.2 195.7,319.9 195.2,316.7 194.7,317.4 194.2,316.6 193.7,317.0 193.2,316.7 192.7,316.7 192.2,316.7 191.7,317.7 191.2,317.1 190.7,320.1 190.2,317.4 189.7,320.0 189.2,317.7 188.7,317.7 188.2,317.1 187.7,316.7 187.2,317.1 186.7,316.7 186.2,321.8 185.7,316.9 185.2,316.9 184.7,317.7 184.2,316.9 183.7,317.2 183.2,319.4 182.7,317.8 182.2,317.5 181.7,317.7 181.2,320.3 180.7,317.7 180.2,316.8 179.7,317.6 179.2,317.7 178.7,320.7 178.2,317.0 177.7,316.6 177.2,317.3 176.7,316.6 176.2,316.9 175.7,317.1 175.2,322.2 174.7,317.5 174.2,317.5 173.7,317.3 173.2,321.5 172.7,316.7 172.2,319.7 171.7,323.3 171.2,320.3 170.7,317.1 170.2,316.7 169.7,317.4 169.2,317.2 168.7,320.6 168.2,317.8 167.7,321.6 167.2,317.5 166.7,322.4 166.2,317.7 165.7,317.7 165.2,317.5 164.7,316.9 164.2,317.3 163.7,316.6 163.2,322.8 162.7,316.6 162.2,321.3 161.7,316.9 161.2,318.5 160.7,317.2 160.2,321.0 159.7,317.7 159.2,319.5 158.7,317.4 158.2,317.8 157.7,316.7 157.2,316.5 156.7,323.1 156.2,317.7 155.7,317.3 155.2,317.6 154.7,317.6 154.2,317.6 153.7,317.4 153.2,317.7 152.7,317.6 152.2,317.3 151.7,317.0 151.2,316.6 150.7,317.0 150.2,317.7 149.7,319.3 149.2,317.1 148.7,317.2 148.2,317.7 147.7,317.6 147.2,320.3 146.7,317.4 146.2,317.0 145.7,316.8 145.2,317.2 144.7,317.7 144.2,317.2 143.7,317.8 143.2,317.4 142.7,317.6 142.2,316.6 141.7,317.0 141.2,319.6 140.7,316.7 140.2,317.6 139.7,318.9 139.2,316.6 138.7,317.0 138.2,317.1 137.7,317.4 137.2,317.6 136.7,317.5 136.2,317.5 135.7,317.5 135.2,321.2 134.7,316.9 134.2,318.4 133.7,316.8 133.2,316.5 132.7,316.6 132.2,316.5 131.7,319.2 131.2,317.6 130.7,317.3 130.2,317.8 129.7,321.1 129.2,316.9 128.7,320.9 128.2,316.6 127.7,317.3 127.2,317.6 126.7,317.2 126.2,317.3 125.7,317.7 125.2,317.2 124.7,317.6 124.2,319.6 123.7,317.4 123.2,320.1 122.7,317.3 122.2,317.5 121.7,316.7 121.2,316.7 120.7,317.6 120.2,319.9 119.7,317.7 119.2,316.8 118.7,316.7 118.2,316.9 117.7,317.6 117.2,317.2 116.7,316.7 116.2,317.5 115.7,316.6 115.2,316.8 114.7,316.6 114.2,317.5 113.7,317.0 113.2,316.8 112.7,321.3 112.2,316.9 111.7,316.7 111.2,317.7 110.7,316.8 110.2,317.6 109.7,317.0 109.2,317.4 108.7,316.6 108.2,316.6 107.7,316.7 107.2,316.8 106.7,317.1 106.2,317.8 105.7,317.1 105.2,317.7 104.7,317.2 104.2,322.7 103.7,317.0 103.2,319.4 102.7,322.2 102.2,316.6 101.7,317.0 101.2,317.2 100.7,316.9 100.2,317.4 99.7,316.6 99.2,320.0 98.7,316.8 98.2,317.7 97.7,317.4 97.2,316.9 96.7,317.1 96.2,317.2 95.7,322.4 95.2,316.8 94.7,317.1 94.2,317.5 93.7,317.4 93.2,316.5 92.7,317.6 92.2,317.4 91.7,317.7 91.2,316.8 90.7,321.9 90.2,316.5 89.7,317.1 89.2,317.1 88.7,316.8 88.2,317.4 87.7,317.6 87.2,317.6 86.7,317.6 86.2,318.5 85.7,317.5 85.2,317.7 84.7,319.4 84.2,321.9 83.7,316.5 83.2,321.9 82.7,317.1 82.2,316.9 81.7,316.9 81.2,316.9 80.7,316.6 80.2,317.1 79.7,317.1 79.2,320.8 78.7,316.5 78.2,317.2 77.7,316.6 77.2,317.2 76.7,323.1 76.2,317.1 75.7,317.3 75.2,317.0 74.7,317.5 74.2,317.6 73.7,316.9 73.2,317.5 72.7,318.5 72.2,320.2 71.7,317.6 71.2,317.7 70.7,317.3 70.2,316.6 69.7,317.5 69.2,317.4 68.7,317.2 68.2,317.7 67.7,317.3 67.2,317.2 66.7,317.0 66.2,317.5 65.7,322.7 65.2,316.6 64.7,316.9 64.2,317.3 63.7,317.1 63.2,316.8 62.7,317.4 62.2,317.3 61.7,317.6 61.2,319.6 60.7,316.8 60.2,317.7 59.7,317.3 59.2,322.1 58.7,317.5 58.2,317.7 57.7,318.7 57.2,317.8 56.7,317.0 56.2,317.4 55.7,316.6 55.2,316.7 54.7,321.9 54.2,317.6 53.7,317.7 53.2,317.3 52.7,317.3 52.2,316.9 51.7,318.7 51.2,316.7 50.7,317.4 50.2,316.8 49.7,317.7 49.2,317.5 48.7,317.4 48.2,317.5 47.7,317.6 47.2,317.4 46.7,317.7 46.2,323.1 45.7,316.7 45.2,317.3 44.7,316.6 44.2,317.6 43.7,316.9 43.2,317.2 42.7,319.2 42.2,317.1 41.7,316.9 41.2,317.4 40.7,316.6 40.2,317.3 39.7,317.3 39.2,317.0 38.7,317.7 38.2,317.7 37.7,317.4 37.2,317.4 36.7,316.5 36.2,317.1 35.7,317.2 35.2,322.4 34.7,317.2 34.2,317.4 33.7,316.7 33.2,317.2 32.7,316.9 32.2,320.1 31.7,317.2 31.2,316.5 30.7,322.1 30.2,320.2 29.7,317.5 29.2,316.6 28.7,317.7 28.2,317.0 27.7,322.9 27.2,317.7 26.7,317.7 26.2,317.0 25.7,317.4 25.2,316.8 24.7,316.8 24.2,321.3 23.7,316.6 23.2,317.2" fill="#000" stroke="#000" stroke-width="0.4" stroke-linejoin="round"/>
<polygon points="23.2,306.7 23.7,307.0 24.2,307.1 24.7,306.8 25.2,306.9 25.7,306.8 26.2,306.9 26.7,306.8 27.2,307.2 27.7,306.9 28.2,306.9 28.7,306.8 29.2,307.1 29.7,306.9 30.2,307.1 30.7,306.8 31.2,307.2 31.7,307.1 32.2,306.7 32.7,304.9 33.2,307.1 33.7,307.0 34.2,307.0 34.7,307.1 35.2,307.1 35.7,304.7 36.2,307.1 36.7,306.8 37.2,306.8 37.7,306.8 38.2,307.0 38.7,307.1 39.2,306.9 39.7,306.7 40.2,307.0 40.7,307.1 41.2,306.9 41.7,307.1 42.2,307.0 42.7,306.8 43.2,307.1 43.7,306.5 44.2,306.9 44.7,307.1 45.2,307.1 45.7,306.7 46.2,306.8 46.7,306.8 47.2,306.9 47.7,306.9 48.2,307.1 48.7,306.0 49.2,307.1 49.7,306.9 50.2,305.1 50.7,307.1 51.2,307.2 51.7,306.9 52.2,307.1 52.7,307.2 53.2,307.1 53.7,306.8 54.2,306.9 54.7,306.9 55.2,307.1 55.7,307.0 56.2,307.2 56.7,307.0 57.2,307.0 57.7,307.2 58.2,306.9 58.7,307.0 59.2,307.2 59.7,307.1 60.2,307.0 60.7,306.8 61.2,307.2 61.7,306.9 62.2,307.1 62.7,307.0 63.2,306.7 63.7,306.9 64.2,307.1 64.7,307.0 65.2,306.7 65.7,306.2 66.2,307.0 66.7,306.9 67.2,307.0 67.7,307.1 68.2,306.7 68.7,307.1 69.2,307.1 69.7,306.1 70.2,306.7 70.7,306.7 71.2,306.9 71.7,306.9 72.2,306.9 72.7,307.0 73.2,306.8 73.7,306.9 74.2,306.8 74.7,305.2 75.2,306.9 75.7,306.9 76.2,306.8 76.7,306.8 77.2,306.9 77.7,307.0 78.2,307.1 78.7,307.1 79.2,306.8 79.7,307.0 80.2,307.2 80.7,306.9 81.2,306.8 81.7,306.7 82.2,306.7 82.7,306.8 83.2,307.1 83.7,306.9 84.2,306.8 84.7,306.9 85.2,307.0 85.7,307.2 86.2,306.8 86.7,306.8 87.2,306.8 87.7,306.4 88.2,307.1 88.7,306.8 89.2,306.9 89.7,306.9 90.2,307.2 90.7,307.1 91.2,306.8 91.7,306.8 92.2,307.0 92.7,306.8 93.2,305.7 93.7,306.9 94.2,307.0 94.7,306.9 95.2,307.1 95.7,307.0 96.2,307.0 96.7,306.9 97.2,307.1 97.7,305.0 98.2,307.1 98.7,306.7 99.2,307.1 99.7,307.1 100.2,307.1 100.7,306.9 101.2,307.0 101.7,306.9 102.2,307.1 102.7,307.0 103.2,306.9 103.7,306.7 104.2,305.5 104.7,306.9 105.2,307.0 105.7,307.1 106.2,306.9 106.7,306.9 107.2,307.0 107.7,306.8 108.2,307.0 108.7,306.8 109.2,307.1 109.7,307.0 110.2,306.7 110.7,306.9 111.2,306.7 111.7,307.2 112.2,306.7 112.7,307.2 113.2,306.8 113.7,306.9 114.2,307.1 114.7,307.0 115.2,307.0 115.7,306.9 116.2,307.0 116.7,307.2 117.2,306.7 117.7,307.0 118.2,306.8 118.7,306.7 119.2,306.7 119.7,307.1 120.2,306.8 120.7,306.9 121.2,306.9 121.7,307.1 122.2,307.1 122.7,306.9 123.2,306.7 123.7,307.0 124.2,306.7 124.7,306.3 125.2,307.2 125.7,306.7 126.2,307.1 126.7,307.1 127.2,306.9 127.7,306.7 128.2,307.1 128.7,307.1 129.2,307.2 129.7,307.2 130.2,307.0 130.7,306.9 131.2,306.9 131.7,307.2 132.2,307.0 132.7,307.0 133.2,306.7 133.7,307.0 134.2,306.9 134.7,307.0 135.2,306.8 135.7,306.9 136.2,306.7 136.7,306.9 137.2,307.0 137.7,307.0 138.2,306.8 138.7,307.0 139.2,306.7 139.7,307.0 140.2,306.7 140.7,306.5 141.2,306.8 141.7,307.0 142.2,307.1 142.7,306.9 143.2,307.2 143.7,307.1 144.2,306.8 144.7,306.9 145.2,307.0 145.7,307.1 146.2,307.1 146.7,307.1 147.2,307.0 147.7,307.2 148.2,307.1 148.7,307.0 149.2,306.8 149.7,306.8 150.2,306.7 150.7,307.1 151.2,307.1 151.7,306.8 152.2,306.9 152.7,307.1 153.2,307.0 153.7,306.7 154.2,306.8 154.7,306.7 155.2,307.0 155.7,307.1 156.2,306.9 156.7,307.1 157.2,307.1 157.7,307.2 158.2,307.1 158.7,307.1 159.2,307.1 159.7,306.9 160.2,306.9 160.7,307.2 161.2,306.8 161.7,306.8 162.2,305.6 162.7,307.1 163.2,306.8 163.7,306.9 164.2,306.8 164.7,306.7 165.2,307.2 165.7,306.8 166.2,306.8 166.7,306.9 167.2,307.0 167.7,306.9 168.2,307.1 168.7,306.8 169.2,306.9 169.7,306.9 170.2,306.3 170.7,307.1 171.2,307.2 171.7,307.1 172.2,307.2 172.7,306.8 173.2,307.1 173.7,307.0 174.2,306.9 174.7,307.1 175.2,306.7 175.7,306.7 176.2,307.0 176.7,306.9 177.2,305.3 177.7,306.7 178.2,306.9 178.7,307.0 179.2,307.2 179.7,306.9 180.2,306.9 180.7,306.9 181.2,307.0 181.7,305.9 182.2,305.9 182.7,307.0 183.2,307.1 183.7,307.2 184.2,306.8 184.7,307.0 185.2,306.8 185.7,307.0 186.2,307.0 186.7,306.8 187.2,307.0 187.7,306.7 188.2,306.9 188.7,306.7 189.2,307.1 189.7,307.2 190.2,307.2 190.7,306.8 191.2,307.0 191.7,306.8 192.2,306.9 192.7,306.7 193.2,305.1 193.7,307.0 194.2,307.1 194.7,307.0 195.2,307.0 195.7,307.0 196.2,306.8 196.7,306.8 197.2,306.8 197.7,307.1 198.2,307.1 198.7,306.9 199.2,306.8 199.7,306.8 200.2,306.7 200.7,307.0 201.2,307.2 201.7,307.0 202.2,307.0 202.7,307.1 203.2,306.9 203.7,306.9 204.2,306.9 204.7,306.8 205.2,306.9 205.7,306.8 206.2,306.8 206.7,306.9 207.2,306.9 207.7,307.0 208.2,307.0 208.7,305.2 209.2,306.9 209.7,307.0 210.2,306.9 210.7,306.9 211.2,307.1 211.7,306.8 212.2,307.0 212.7,306.7 213.2,306.8 213.7,307.1 214.2,307.1 214.7,306.9 215.2,307.1 215.7,306.8 216.2,306.9 216.7,306.7 217.2,307.0 217.7,306.9 218.2,306.9 218.7,306.9 219.2,306.7 219.7,307.0 220.2,307.1 220.7,306.8 221.2,307.1 221.7,306.9 222.2,306.7 222.7,306.8 223.2,306.9 223.7,307.2 224.2,306.7 224.7,307.0 225.2,307.1 225.7,307.2 226.2,305.4 226.7,307.2 227.2,306.9 227.7,307.0 228.2,307.1 228.7,306.8 229.2,307.2 229.7,307.0 230.2,306.8 230.2,308.1 229.7,308.3 229.2,308.2 228.7,308.2 228.2,307.8 227.7,307.9 227.2,308.1 226.7,308.1 226.2,308.0 225.7,308.1 225.2,307.8 224.7,308.0 224.2,308.0 223.7,308.2 223.2,308.2 222.7,308.1 222.2,307.9 221.7,307.9 221.2,308.1 220.7,308.2 220.2,308.1 219.7,308.0 219.2,308.0 218.7,308.0 218.2,308.0 217.7,308.3 217.2,308.1 216.7,308.1 216.2,307.9 215.7,307.9 215.2,307.9 214.7,308.0 214.2,308.1 213.7,307.9 213.2,308.3 212.7,308.3 212.2,307.9 211.7,308.2 211.2,308.2 210.7,307.8 210.2,308.2 209.7,307.9 209.2,308.1 208.7,308.2 208.2,307.9 207.7,307.9 207.2,308.1 206.7,308.1 206.2,307.8 205.7,307.9 205.2,308.0 204.7,308.2 204.2,307.9 203.7,308.0 203.2,308.1 202.7,308.1 202.2,308.0 201.7,308.2 201.2,307.8 200.7,308.0 200.2,307.9 199.7,308.2 199.2,308.0 198.7,308.2 198.2,308.0 197.7,308.0 197.2,307.9 196.7,307.9 196.2,307.8 195.7,307.9 195.2,308.0 194.7,308.0 194.2,308.3 193.7,307.9 193.2,308.2 192.7,308.1 192.2,308.0 191.7,308.0 191.2,308.0 190.7,308.1 190.2,308.2 189.7,307.8 189.2,307.9 188.7,308.3 188.2,308.1 187.7,308.0 187.2,307.8 186.7,308.0 186.2,308.2 185.7,308.0 185.2,307.8 184.7,308.2 184.2,308.0 183.7,308.3 183.2,308.0 182.7,308.0 182.2,307.9 181.7,308.0 181.2,307.9 180.7,308.0 180.2,308.1 179.7,308.3 179.2,308.1 178.7,307.9 178.2,307.9 177.7,307.9 177.2,308.1 176.7,308.2 176.2,308.2 175.7,308.3 175.2,308.1 174.7,308.2 174.2,308.1 173.7,308.0 173.2,308.3 172.7,308.0 172.2,308.2 171.7,307.9 171.2,308.0 170.7,308.2 170.2,307.9 169.7,308.0 169.2,307.9 168.7,308.1 168.2,308.1 167.7,308.1 167.2,308.3 166.7,307.9 166.2,308.3 165.7,308.0 165.2,308.2 164.7,308.0 164.2,307.9 163.7,308.3 163.2,308.3 162.7,308.0 162.2,308.0 161.7,308.3 161.2,307.8 160.7,308.2 160.2,308.0 159.7,307.9 159.2,308.2 158.7,308.0 158.2,308.3 157.7,308.2 157.2,307.9 156.7,308.0 156.2,307.9 155.7,308.0 155.2,307.9 154.7,308.3 154.2,308.0 153.7,307.9 153.2,307.9 152.7,308.1 152.2,307.9 151.7,307.9 151.2,307.8 150.7,307.9 150.2,308.1 149.7,307.8 149.2,308.0 148.7,308.1 148.2,308.1 147.7,308.2 147.2,308.0 146.7,308.2 146.2,308.0 145.7,307.8 145.2,307.9 144.7,307.9 144.2,308.2 143.7,308.0 143.2,308.1 142.7,308.0 142.2,308.2 141.7,308.0 141.2,308.3 140.7,308.0 140.2,308.1 139.7,307.8 139.2,308.0 138.7,307.9 138.2,308.1 137.7,308.3 137.2,308.3 136.7,308.0 136.2,308.1 135.7,307.9 135.2,307.9 134.7,307.8 134.2,307.9 133.7,308.0 133.2,308.1 132.7,308.1 132.2,308.3 131.7,308.0 131.2,307.9 130.7,307.8 130.2,308.3 129.7,308.0 129.2,308.1 128.7,308.2 128.2,308.3 127.7,307.8 127.2,307.9 126.7,308.2 126.2,308.3 125.7,308.2 125.2,308.1 124.7,308.1 124.2,308.1 123.7,308.3 123.2,308.0 122.7,308.2 122.2,308.3 121.7,307.9 121.2,308.1 120.7,307.9 120.2,308.1 119.7,308.0 119.2,308.1 118.7,308.1 118.2,307.9 117.7,307.8 117.2,308.1 116.7,308.2 116.2,308.0 115.7,308.1 115.2,308.2 114.7,308.2 114.2,307.9 113.7,307.9 113.2,307.8 112.7,307.8 112.2,308.2 111.7,307.9 111.2,307.8 110.7,308.2 110.2,308.2 109.7,307.9 109.2,308.1 108.7,308.0 108.2,308.3 107.7,307.8 107.2,307.9 106.7,308.0 106.2,307.9 105.7,307.9 105.2,308.1 104.7,308.2 104.2,308.2 103.7,308.2 103.2,307.8 102.7,308.2 102.2,308.3 101.7,308.2 101.2,307.9 100.7,307.9 100.2,307.9 99.7,307.9 99.2,308.0 98.7,308.2 98.2,308.0 97.7,308.2 97.2,308.0 96.7,308.3 96.2,307.9 95.7,308.2 95.2,307.9 94.7,307.8 94.2,308.0 93.7,308.0 93.2,308.3 92.7,308.2 92.2,308.2 91.7,307.9 91.2,308.2 90.7,308.2 90.2,307.9 89.7,308.0 89.2,308.2 88.7,308.2 88.2,308.1 87.7,307.8 87.2,308.0 86.7,308.3 86.2,308.2 85.7,308.1 85.2,307.9 84.7,307.9 84.2,307.9 83.7,308.2 83.2,308.1 82.7,307.8 82.2,308.1 81.7,307.8 81.2,308.0 80.7,308.3 80.2,307.9 79.7,308.2 79.2,308.1 78.7,308.2 78.2,308.0 77.7,308.3 77.2,307.9 76.7,308.3 76.2,308.0 75.7,308.1 75.2,308.0 74.7,308.3 74.2,308.1 73.7,308.3 73.2,307.9 72.7,308.0 72.2,308.3 71.7,308.0 71.2,308.0 70.7,308.0 70.2,307.9 69.7,307.9 69.2,307.8 68.7,308.0 68.2,308.1 67.7,307.9 67.2,308.2 66.7,308.1 66.2,307.9 65.7,307.9 65.2,308.2 64.7,308.0 64.2,308.0 63.7,308.2 63.2,307.8 62.7,308.2 62.2,308.1 61.7,308.1 61.2,308.1 60.7,308.3 60.2,308.2 59.7,307.9 59.2,308.2 58.7,308.0 58.2,308.2 57.7,307.9 57.2,308.3 56.7,308.2 56.2,308.2 55.7,308.0 55.2,308.2 54.7,307.8 54.2,308.2 53.7,308.2 53.2,307.9 52.7,308.1 52.2,308.2 51.7,308.1 51.2,308.1 50.7,308.2 50.2,307.8 49.7,307.8 49.2,308.0 48.7,308.1 48.2,308.3 47.7,308.1 47.2,308.3 46.7,308.0 46.2,307.9 45.7,307.9 45.2,308.0 44.7,307.8 44.2,307.9 43.7,308.3 43.2,308.0 42.7,308.3 42.2,308.2 41.7,307.9 41.2,308.2 40.7,308.2 40.2,308.2 39.7,308.1 39.2,308.0 38.7,308.1 38.2,308.1 37.7,307.9 37.2,308.1 36.7,308.2 36.2,307.9 35.7,308.2 35.2,308.2 34.7,307.9 34.2,308.1 33.7,307.9 33.2,308.1 32.7,308.1 32.2,308.3 31.7,307.8 31.2,308.2 30.7,307.9 30.2,308.1 29.7,308.1 29.2,308.2 28.7,308.0 28.2,308.3 27.7,308.2 27.2,308.1 26.7,307.9 26.2,308.3 25.7,308.0 25.2,308.2 24.7,308.1 24.2,308.1 23.7,308.0 23.2,307.9" fill="#2040ff" stroke="#2040ff" stroke-width="0.4" stroke-linejoin="round"/>
<polygon points="72.2,308.2 72.2,306.2 72.3,305.4 72.4,304.1 72.5,302.3 72.6,300.1 72.7,297.8 72.8,295.6 72.9,294.1 73.0,293.6 73.1,294.1 73.2,295.6 73.3,297.8 73.4,300.1 73.5,302.3 73.6,304.1 73.7,305.4 73.8,306.2 73.8,308.2" fill="#2040ff" stroke="#2040ff" stroke-width="1.0" stroke-linejoin="round"/>
<polygon points="123.9,308.2 123.9,305.9 124.0,305.2 124.1,304.3 124.2,303.3 124.3,302.4 124.4,301.8 124.5,301.6 124.6,301.8 124.7,302.4 124.8,303.3 124.9,304.3 125.0,305.2 125.1,305.9 125.1,308.2" fill="#2040ff" stroke="#2040ff" stroke-width="1.0" stroke-linejoin="round"/>
<polygon points="174.9,308.2 174.9,305.7 175.0,304.4 175.1,302.5 175.2,299.8 175.3,296.5 175.4,292.9 175.5,289.7 175.6,287.4 175.7,286.6 175.8,287.4 175.9,289.7 176.0,292.9 176.1,296.5 176.2,299.8 176.3,302.5 176.4,304.4 176.5,305.7 176.5,308.2" fill="#2040ff" stroke="#2040ff" stroke-width="1.0" stroke-linejoin="round"/>
<polygon points="226.3,308.2 226.3,305.9 226.4,304.7 226.5,303.0 226.6,300.6 226.7,297.7 226.8,294.5 226.9,291.7 227.0,289.6 227.1,288.9 227.2,289.6 227.3,291.7 227.4,294.5 227.5,297.7 227.6,300.6 227.7,303.0 227.8,304.7 227.9,305.9 227.9,308.2" fill="#2040ff" stroke="#2040ff" stroke-width="1.0" stroke-linejoin="round"/>
<rect x="18.7" y="180.8" width="217.2" height="148.9" fill="none" stroke="#000" stroke-width="1.7"/>
<line x1="22.6" y1="329.7" x2="22.6" y2="326.5" stroke="#000" stroke-width="1"/>
<line x1="48.2" y1="329.7" x2="48.2" y2="327.5" stroke="#000" stroke-width="1"/>
<line x1="73.8" y1="329.7" x2="73.8" y2="326.5" stroke="#000" stroke-width="1"/>
<line x1="99.5" y1="329.7" x2="99.5" y2="327.5" stroke="#000" stroke-width="1"/>
<line x1="125.1" y1="329.7" x2="125.1" y2="326.5" stroke="#000" stroke-width="1"/>
<line x1="150.7" y1="329.7" x2="150.7" y2="327.5" stroke="#000" stroke-width="1"/>
<line x1="176.3" y1="329.7" x2="176.3" y2="326.5" stroke="#000" stroke-width="1"/>
<line x1="202.0" y1="329.7" x2="202.0" y2="327.5" stroke="#000" stroke-width="1"/>
<line x1="227.6" y1="329.7" x2="227.6" y2="326.5" stroke="#000" stroke-width="1"/>
<line x1="19.5" y1="190.0" x2="21.5" y2="190.0" stroke="#000" stroke-width="0.9"/>
<line x1="19.5" y1="200.5" x2="21.5" y2="200.5" stroke="#000" stroke-width="0.9"/>
<line x1="19.5" y1="211.0" x2="21.5" y2="211.0" stroke="#000" stroke-width="0.9"/>
<line x1="19.5" y1="221.5" x2="21.5" y2="221.5" stroke="#000" stroke-width="0.9"/>
<line x1="19.5" y1="232.0" x2="21.5" y2="232.0" stroke="#000" stroke-width="0.9"/>
<line x1="19.5" y1="242.5" x2="21.5" y2="242.5" stroke="#000" stroke-width="0.9"/>
<line x1="19.5" y1="253.0" x2="21.5" y2="253.0" stroke="#000" stroke-width="0.9"/>
<line x1="19.5" y1="263.5" x2="21.5" y2="263.5" stroke="#000" stroke-width="0.9"/>
<line x1="19.5" y1="274.0" x2="21.5" y2="274.0" stroke="#000" stroke-width="0.9"/>
<line x1="19.5" y1="284.5" x2="21.5" y2="284.5" stroke="#000" stroke-width="0.9"/>
<line x1="19.5" y1="295.0" x2="21.5" y2="295.0" stroke="#000" stroke-width="0.9"/>
<line x1="19.5" y1="305.5" x2="21.5" y2="305.5" stroke="#000" stroke-width="0.9"/>
<line x1="19.5" y1="316.0" x2="21.5" y2="316.0" stroke="#000" stroke-width="0.9"/>
<line x1="19.5" y1="326.5" x2="21.5" y2="326.5" stroke="#000" stroke-width="0.9"/>
<text x="21.5" y="343" class="tl" text-anchor="middle">0</text>
<text x="73.1" y="343" class="tl" text-anchor="middle">90</text>
<text x="125.1" y="343" class="tl" text-anchor="middle">180</text>
<text x="175.8" y="343" class="tl" text-anchor="middle">270</text>
<text x="226.7" y="343" class="tl" text-anchor="middle">360</text>
<text x="109.2" y="357.6" class="tl" textLength="36.3" lengthAdjust="spacingAndGlyphs">ϕ (deg)</text>
<text transform="translate(8.8,248.3) rotate(-90)" class="ax" text-anchor="middle">Int (a.u.)</text>
<text x="24.4" y="197.4" class="lab" textLength="17" lengthAdjust="spacingAndGlyphs">(b)</text>
<text transform="translate(56.1,227.8) rotate(-90)" class="pk" fill="#000" stroke="#000" stroke-width="0.3" textLength="40.6" lengthAdjust="spacingAndGlyphs">NSTO(222)</text>
<text transform="translate(81.6,227.8) rotate(-90)" class="pk" fill="#ff1010" stroke="#ff1010" stroke-width="0.3" textLength="36.4" lengthAdjust="spacingAndGlyphs">TMO(222)</text>
<text transform="translate(85.4,291.8) rotate(-90)" class="pk" fill="#2040ff" stroke="#2040ff" stroke-width="0.3" textLength="35.8" lengthAdjust="spacingAndGlyphs">TMO(222)</text>
<text x="154.5" y="209.7" class="tg" textLength="42.3" lengthAdjust="spacingAndGlyphs" fill="#ff1010">T<tspan class="sub" dy="2.6">G</tspan><tspan dy="-2.6">=780 </tspan><tspan dy="-1.6" font-size="7px">°</tspan><tspan dy="1.6">C</tspan></text>
<text x="154.7" y="275.3" class="tg" textLength="42.3" lengthAdjust="spacingAndGlyphs" fill="#2040ff">T<tspan class="sub" dy="2.6">G</tspan><tspan dy="-2.6">=700 </tspan><tspan dy="-1.6" font-size="7px">°</tspan><tspan dy="1.6">C</tspan></text>
<text x="248.3" y="20.9" class="lab" textLength="17.8" lengthAdjust="spacingAndGlyphs">(c)</text>
<rect x="271.5" y="9.8" width="28.6" height="15.3" fill="#fff" stroke="#555" stroke-width="0.9"/>
<text x="285.8" y="21.6" class="box" text-anchor="middle">TMO</text>
<rect x="263.6" y="296.4" width="36.5" height="16" fill="#fff" stroke="#555" stroke-width="0.9"/>
<text x="281.9" y="308.3" class="box" text-anchor="middle">NSTO</text>
<defs><radialGradient id="gMnL" cx="0.4" cy="0.38" r="0.62"><stop offset="0" stop-color="#b8b0ff"/><stop offset="0.45" stop-color="#5a4cd0"/><stop offset="1" stop-color="#241a70"/></radialGradient></defs>
<circle cx="477.7" cy="92.2" r="4.4" fill="url(#gO)"/>
<text x="489.3" y="96.3" class="leg">O</text>
<circle cx="477.7" cy="110.3" r="3.5" fill="url(#gTb)"/>
<text x="489.3" y="114.4" class="leg">Tb</text>
<circle cx="477.7" cy="130.2" r="3.2" fill="url(#gMnL)"/>
<text x="489.3" y="134.3" class="leg">Mn</text>
<circle cx="477.7" cy="151.3" r="2.9" fill="url(#gNb)" stroke="#3f8a84" stroke-width="0.8"/>
<text x="489.3" y="155.4" class="leg">Nb</text>
<circle cx="477.7" cy="169.2" r="3.0" fill="url(#gTi)" stroke="#6a7878" stroke-width="0.8"/>
<text x="489.3" y="173.3" class="leg">Ti</text>
<circle cx="477.7" cy="189.5" r="4.0" fill="url(#gSr)"/>
<text x="489.3" y="193.6" class="leg">Sr</text>
<path d="M294 8.6 Q300 10.2 303 9 L307.5 8" fill="none" stroke="#111" stroke-width="1.3"/>
<line x1="417.6" y1="8.9" x2="423" y2="9.2" stroke="#111" stroke-width="1.2"/>
<line x1="495.3" y1="315.4" x2="495.3" y2="274.6" stroke="#90bbe6" stroke-width="1"/>
<polyline points="497.6,279.1 495.3,274.6 493.0,279.1" fill="none" stroke="#90bbe6" stroke-width="1"/>
<line x1="495.3" y1="315.4" x2="517.6" y2="290.7" stroke="#90bbe6" stroke-width="1"/>
<polyline points="516.3,295.6 517.6,290.7 512.9,292.5" fill="none" stroke="#90bbe6" stroke-width="1"/>
<line x1="495.3" y1="315.4" x2="465.5" y2="306.6" stroke="#90bbe6" stroke-width="1"/>
<polyline points="470.5,305.7 465.5,306.6 469.2,310.1" fill="none" stroke="#90bbe6" stroke-width="1"/>
<text x="495.3" y="268.3" class="tri" text-anchor="middle">c</text>
<text x="517.3" y="304.7" class="tri" text-anchor="middle">a</text>
<text x="469" y="320.6" class="tri" text-anchor="middle">b</text>
</svg></body></html>
